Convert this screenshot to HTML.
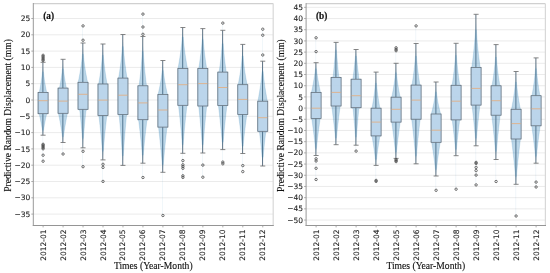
<!DOCTYPE html>
<html><head><meta charset="utf-8"><style>
html,body{margin:0;padding:0;background:#fff;overflow:hidden;}
svg{display:block;}
.tk{font-family:"DejaVu Sans",sans-serif;font-size:7.5px;fill:#222;stroke:#222;stroke-width:0.1px;}
.lab{font-family:"Liberation Serif",serif;font-size:9.6px;fill:#111;stroke:#111;stroke-width:0.12px;}
.pl{font-family:"Liberation Serif",serif;font-size:9.3px;font-weight:bold;fill:#111;stroke:#111;stroke-width:0.2px;}
</style></head><body>
<svg width="550" height="273" viewBox="0 0 550 273">
<rect width="550" height="273" fill="#fff"/>
<line x1="33.3" x2="273.2" y1="18.50" y2="18.50" stroke="#e6e6e6" stroke-width="0.8"/>
<line x1="33.3" x2="273.2" y1="34.80" y2="34.80" stroke="#e6e6e6" stroke-width="0.8"/>
<line x1="33.3" x2="273.2" y1="51.10" y2="51.10" stroke="#e6e6e6" stroke-width="0.8"/>
<line x1="33.3" x2="273.2" y1="67.40" y2="67.40" stroke="#e6e6e6" stroke-width="0.8"/>
<line x1="33.3" x2="273.2" y1="83.70" y2="83.70" stroke="#e6e6e6" stroke-width="0.8"/>
<line x1="33.3" x2="273.2" y1="100.00" y2="100.00" stroke="#e6e6e6" stroke-width="0.8"/>
<line x1="33.3" x2="273.2" y1="116.30" y2="116.30" stroke="#e6e6e6" stroke-width="0.8"/>
<line x1="33.3" x2="273.2" y1="132.60" y2="132.60" stroke="#e6e6e6" stroke-width="0.8"/>
<line x1="33.3" x2="273.2" y1="148.90" y2="148.90" stroke="#e6e6e6" stroke-width="0.8"/>
<line x1="33.3" x2="273.2" y1="165.20" y2="165.20" stroke="#e6e6e6" stroke-width="0.8"/>
<line x1="33.3" x2="273.2" y1="181.50" y2="181.50" stroke="#e6e6e6" stroke-width="0.8"/>
<line x1="33.3" x2="273.2" y1="197.80" y2="197.80" stroke="#e6e6e6" stroke-width="0.8"/>
<line x1="33.3" x2="273.2" y1="214.10" y2="214.10" stroke="#e6e6e6" stroke-width="0.8"/>
<line x1="42.90" x2="42.90" y1="62.3" y2="92.5" stroke="#66737f" stroke-width="1.0"/>
<line x1="42.90" x2="42.90" y1="113.7" y2="135.2" stroke="#66737f" stroke-width="1.0"/>
<line x1="62.87" x2="62.87" y1="59.3" y2="88.1" stroke="#66737f" stroke-width="1.0"/>
<line x1="62.87" x2="62.87" y1="113.3" y2="142.5" stroke="#66737f" stroke-width="1.0"/>
<line x1="82.84" x2="82.84" y1="43.0" y2="82.3" stroke="#66737f" stroke-width="1.0"/>
<line x1="82.84" x2="82.84" y1="109.3" y2="147.8" stroke="#66737f" stroke-width="1.0"/>
<line x1="102.81" x2="102.81" y1="44.0" y2="84.0" stroke="#66737f" stroke-width="1.0"/>
<line x1="102.81" x2="102.81" y1="115.5" y2="159.9" stroke="#66737f" stroke-width="1.0"/>
<line x1="122.78" x2="122.78" y1="34.5" y2="78.1" stroke="#66737f" stroke-width="1.0"/>
<line x1="122.78" x2="122.78" y1="114.5" y2="165.4" stroke="#66737f" stroke-width="1.0"/>
<line x1="142.75" x2="142.75" y1="36.5" y2="85.8" stroke="#66737f" stroke-width="1.0"/>
<line x1="142.75" x2="142.75" y1="119.7" y2="163.2" stroke="#66737f" stroke-width="1.0"/>
<line x1="162.72" x2="162.72" y1="60.5" y2="94.6" stroke="#66737f" stroke-width="1.0"/>
<line x1="162.72" x2="162.72" y1="127.1" y2="172.3" stroke="#66737f" stroke-width="1.0"/>
<line x1="182.69" x2="182.69" y1="27.5" y2="68.5" stroke="#66737f" stroke-width="1.0"/>
<line x1="182.69" x2="182.69" y1="105.3" y2="153.3" stroke="#66737f" stroke-width="1.0"/>
<line x1="202.66" x2="202.66" y1="28.6" y2="68.6" stroke="#66737f" stroke-width="1.0"/>
<line x1="202.66" x2="202.66" y1="106.0" y2="153.0" stroke="#66737f" stroke-width="1.0"/>
<line x1="222.63" x2="222.63" y1="30.3" y2="72.1" stroke="#66737f" stroke-width="1.0"/>
<line x1="222.63" x2="222.63" y1="105.5" y2="149.6" stroke="#66737f" stroke-width="1.0"/>
<line x1="242.60" x2="242.60" y1="44.4" y2="84.7" stroke="#66737f" stroke-width="1.0"/>
<line x1="242.60" x2="242.60" y1="114.4" y2="153.5" stroke="#66737f" stroke-width="1.0"/>
<line x1="262.57" x2="262.57" y1="61.2" y2="101.2" stroke="#66737f" stroke-width="1.0"/>
<line x1="262.57" x2="262.57" y1="131.3" y2="166.0" stroke="#66737f" stroke-width="1.0"/>
<path d="M43.05,55.3 43.05,56.3 43.05,57.2 43.05,58.2 43.05,59.2 43.05,60.1 43.05,61.1 43.05,62.0 43.05,63.0 43.05,64.0 43.05,64.9 43.05,65.9 43.10,66.9 43.16,67.8 43.22,68.8 43.30,69.7 43.38,70.7 43.46,71.7 43.56,72.6 43.65,73.6 43.76,74.6 43.87,75.5 43.99,76.5 44.11,77.4 44.24,78.4 44.37,79.4 44.51,80.3 44.65,81.3 44.80,82.3 44.96,83.2 45.12,84.2 45.28,85.1 45.45,86.1 45.63,87.1 45.81,88.0 45.99,89.0 46.18,90.0 46.37,90.9 46.57,91.9 47.95,92.5 47.95,92.8 47.95,93.8 47.95,94.8 47.95,95.7 47.95,96.7 47.95,97.7 47.95,98.6 47.95,99.6 47.95,100.5 47.95,100.7 47.95,101.5 47.95,102.5 47.95,103.4 47.95,104.4 47.95,105.4 47.95,106.3 47.95,107.3 47.95,108.2 47.95,109.2 47.95,110.2 47.95,111.1 47.95,112.1 47.95,113.1 47.95,113.7 46.63,114.0 46.42,115.0 46.22,116.0 46.01,116.9 45.81,117.9 45.62,118.8 45.42,119.8 45.23,120.8 45.04,121.7 44.86,122.7 44.67,123.7 44.50,124.6 44.32,125.6 44.15,126.5 43.99,127.5 43.83,128.5 43.67,129.4 43.53,130.4 43.39,131.4 43.25,132.3 43.13,133.3 43.05,134.2 43.05,135.2 43.05,136.2 43.05,137.1 43.05,138.1 43.05,139.1 43.05,140.0 43.05,141.0 43.05,141.9 43.05,142.9 43.05,143.9 43.05,144.8 43.05,145.8 43.05,146.8 43.05,147.7 43.05,148.7 43.05,149.6 43.05,150.6 43.05,151.6 43.05,152.5 43.05,153.5 43.05,154.5 43.05,155.4 43.05,156.4 43.05,157.3 43.05,158.3 43.05,159.3 43.05,160.2 43.05,161.2 L42.85,161.2 42.85,160.2 42.85,159.3 42.85,158.3 42.85,157.3 42.85,156.4 42.85,155.4 42.85,154.5 42.85,153.5 42.85,152.5 42.85,151.6 42.85,150.6 42.85,149.6 42.85,148.7 42.85,147.7 42.85,146.8 42.85,145.8 42.85,144.8 42.85,143.9 42.85,142.9 42.85,141.9 42.85,141.0 42.85,140.0 42.85,139.1 42.85,138.1 42.85,137.1 42.85,136.2 42.85,135.2 42.85,134.2 42.77,133.3 42.65,132.3 42.51,131.4 42.37,130.4 42.23,129.4 42.07,128.5 41.91,127.5 41.75,126.5 41.58,125.6 41.40,124.6 41.23,123.7 41.04,122.7 40.86,121.7 40.67,120.8 40.48,119.8 40.28,118.8 40.09,117.9 39.89,116.9 39.68,116.0 39.48,115.0 39.27,114.0 37.95,113.7 37.95,113.1 37.95,112.1 37.95,111.1 37.95,110.2 37.95,109.2 37.95,108.2 37.95,107.3 37.95,106.3 37.95,105.4 37.95,104.4 37.95,103.4 37.95,102.5 37.95,101.5 37.95,100.7 37.95,100.5 37.95,99.6 37.95,98.6 37.95,97.7 37.95,96.7 37.95,95.7 37.95,94.8 37.95,93.8 37.95,92.8 37.95,92.5 39.33,91.9 39.53,90.9 39.72,90.0 39.91,89.0 40.09,88.0 40.27,87.1 40.45,86.1 40.62,85.1 40.78,84.2 40.94,83.2 41.10,82.3 41.25,81.3 41.39,80.3 41.53,79.4 41.66,78.4 41.79,77.4 41.91,76.5 42.03,75.5 42.14,74.6 42.25,73.6 42.34,72.6 42.44,71.7 42.52,70.7 42.60,69.7 42.68,68.8 42.74,67.8 42.80,66.9 42.85,65.9 42.85,64.9 42.85,64.0 42.85,63.0 42.85,62.0 42.85,61.1 42.85,60.1 42.85,59.2 42.85,58.2 42.85,57.2 42.85,56.3 42.85,55.3 Z" fill="#1f77b4" fill-opacity="0.3"/>
<path d="M43.46,71.7 43.56,72.6 43.65,73.6 43.76,74.6 43.87,75.5 43.99,76.5 44.11,77.4 44.24,78.4 44.37,79.4 44.51,80.3 44.65,81.3 44.80,82.3 44.96,83.2 45.12,84.2 45.28,85.1 45.45,86.1 45.63,87.1 45.81,88.0 45.99,89.0 46.18,90.0 46.37,90.9 46.57,91.9 47.95,92.5 47.95,92.8 47.95,93.8 47.95,94.8 47.95,95.7 47.95,96.7 47.95,97.7 47.95,98.6 47.95,99.6 47.95,100.5 47.95,100.7 47.95,101.5 47.95,102.5 47.95,103.4 47.95,104.4 47.95,105.4 47.95,106.3 47.95,107.3 47.95,108.2 47.95,109.2 47.95,110.2 47.95,111.1 47.95,112.1 47.95,113.1 47.95,113.7 46.63,114.0 46.42,115.0 46.22,116.0 46.01,116.9 45.81,117.9 45.62,118.8 45.42,119.8 45.23,120.8 45.04,121.7 44.86,122.7 44.67,123.7 44.50,124.6 44.32,125.6 44.15,126.5 43.99,127.5 43.83,128.5 43.67,129.4 43.53,130.4 M42.44,71.7 42.34,72.6 42.25,73.6 42.14,74.6 42.03,75.5 41.91,76.5 41.79,77.4 41.66,78.4 41.53,79.4 41.39,80.3 41.25,81.3 41.10,82.3 40.94,83.2 40.78,84.2 40.62,85.1 40.45,86.1 40.27,87.1 40.09,88.0 39.91,89.0 39.72,90.0 39.53,90.9 39.33,91.9 37.95,92.5 37.95,92.8 37.95,93.8 37.95,94.8 37.95,95.7 37.95,96.7 37.95,97.7 37.95,98.6 37.95,99.6 37.95,100.5 37.95,100.7 37.95,101.5 37.95,102.5 37.95,103.4 37.95,104.4 37.95,105.4 37.95,106.3 37.95,107.3 37.95,108.2 37.95,109.2 37.95,110.2 37.95,111.1 37.95,112.1 37.95,113.1 37.95,113.7 39.27,114.0 39.48,115.0 39.68,116.0 39.89,116.9 40.09,117.9 40.28,118.8 40.48,119.8 40.67,120.8 40.86,121.7 41.04,122.7 41.23,123.7 41.40,124.6 41.58,125.6 41.75,126.5 41.91,127.5 42.07,128.5 42.23,129.4 42.37,130.4" fill="none" stroke="#1f77b4" stroke-opacity="0.4" stroke-width="0.4"/>
<path d="M63.02,59.3 63.02,60.2 63.02,61.0 63.02,61.9 63.02,62.7 63.06,63.6 63.11,64.5 63.17,65.3 63.23,66.2 63.30,67.0 63.37,67.9 63.45,68.8 63.53,69.6 63.62,70.5 63.72,71.4 63.82,72.2 63.92,73.1 64.03,73.9 64.14,74.8 64.26,75.7 64.38,76.5 64.51,77.4 64.64,78.2 64.77,79.1 64.91,80.0 65.05,80.8 65.20,81.7 65.35,82.5 65.51,83.4 65.67,84.3 65.83,85.1 65.99,86.0 66.17,86.8 66.34,87.7 67.92,88.1 67.92,88.6 67.92,89.4 67.92,90.3 67.92,91.2 67.92,92.0 67.92,92.9 67.92,93.7 67.92,94.6 67.92,95.5 67.92,96.3 67.92,97.2 67.92,98.0 67.92,98.9 67.92,99.8 67.92,100.6 67.92,101.1 67.92,101.5 67.92,102.3 67.92,103.2 67.92,104.1 67.92,104.9 67.92,105.8 67.92,106.7 67.92,107.5 67.92,108.4 67.92,109.2 67.92,110.1 67.92,111.0 67.92,111.8 67.92,112.7 67.92,113.3 67.37,113.5 67.20,114.4 67.03,115.3 66.86,116.1 66.70,117.0 66.53,117.8 66.37,118.7 66.21,119.6 66.05,120.4 65.89,121.3 65.73,122.1 65.58,123.0 65.43,123.9 65.28,124.7 65.13,125.6 64.99,126.5 64.84,127.3 64.70,128.2 64.57,129.0 64.43,129.9 64.30,130.8 64.17,131.6 64.04,132.5 63.92,133.3 63.80,134.2 63.68,135.1 63.57,135.9 63.46,136.8 63.36,137.6 63.26,138.5 63.17,139.4 63.08,140.2 63.02,141.1 63.02,141.9 63.02,142.8 63.02,143.7 63.02,144.5 63.02,145.4 63.02,146.3 63.02,147.1 63.02,148.0 63.02,148.8 63.02,149.7 63.02,150.6 63.02,151.4 63.02,152.3 63.02,153.1 63.02,154.0 L62.82,154.0 62.82,153.1 62.82,152.3 62.82,151.4 62.82,150.6 62.82,149.7 62.82,148.8 62.82,148.0 62.82,147.1 62.82,146.3 62.82,145.4 62.82,144.5 62.82,143.7 62.82,142.8 62.82,141.9 62.82,141.1 62.76,140.2 62.67,139.4 62.58,138.5 62.48,137.6 62.38,136.8 62.27,135.9 62.16,135.1 62.04,134.2 61.92,133.3 61.80,132.5 61.67,131.6 61.54,130.8 61.41,129.9 61.27,129.0 61.14,128.2 61.00,127.3 60.85,126.5 60.71,125.6 60.56,124.7 60.41,123.9 60.26,123.0 60.11,122.1 59.95,121.3 59.79,120.4 59.63,119.6 59.47,118.7 59.31,117.8 59.14,117.0 58.98,116.1 58.81,115.3 58.64,114.4 58.47,113.5 57.92,113.3 57.92,112.7 57.92,111.8 57.92,111.0 57.92,110.1 57.92,109.2 57.92,108.4 57.92,107.5 57.92,106.7 57.92,105.8 57.92,104.9 57.92,104.1 57.92,103.2 57.92,102.3 57.92,101.5 57.92,101.1 57.92,100.6 57.92,99.8 57.92,98.9 57.92,98.0 57.92,97.2 57.92,96.3 57.92,95.5 57.92,94.6 57.92,93.7 57.92,92.9 57.92,92.0 57.92,91.2 57.92,90.3 57.92,89.4 57.92,88.6 57.92,88.1 59.50,87.7 59.67,86.8 59.85,86.0 60.01,85.1 60.17,84.3 60.33,83.4 60.49,82.5 60.64,81.7 60.79,80.8 60.93,80.0 61.07,79.1 61.20,78.2 61.33,77.4 61.46,76.5 61.58,75.7 61.70,74.8 61.81,73.9 61.92,73.1 62.02,72.2 62.12,71.4 62.22,70.5 62.31,69.6 62.39,68.8 62.47,67.9 62.54,67.0 62.61,66.2 62.67,65.3 62.73,64.5 62.78,63.6 62.82,62.7 62.82,61.9 62.82,61.0 62.82,60.2 62.82,59.3 Z" fill="#1f77b4" fill-opacity="0.3"/>
<path d="M63.45,68.8 63.53,69.6 63.62,70.5 63.72,71.4 63.82,72.2 63.92,73.1 64.03,73.9 64.14,74.8 64.26,75.7 64.38,76.5 64.51,77.4 64.64,78.2 64.77,79.1 64.91,80.0 65.05,80.8 65.20,81.7 65.35,82.5 65.51,83.4 65.67,84.3 65.83,85.1 65.99,86.0 66.17,86.8 66.34,87.7 67.92,88.1 67.92,88.6 67.92,89.4 67.92,90.3 67.92,91.2 67.92,92.0 67.92,92.9 67.92,93.7 67.92,94.6 67.92,95.5 67.92,96.3 67.92,97.2 67.92,98.0 67.92,98.9 67.92,99.8 67.92,100.6 67.92,101.1 67.92,101.5 67.92,102.3 67.92,103.2 67.92,104.1 67.92,104.9 67.92,105.8 67.92,106.7 67.92,107.5 67.92,108.4 67.92,109.2 67.92,110.1 67.92,111.0 67.92,111.8 67.92,112.7 67.92,113.3 67.37,113.5 67.20,114.4 67.03,115.3 66.86,116.1 66.70,117.0 66.53,117.8 66.37,118.7 66.21,119.6 66.05,120.4 65.89,121.3 65.73,122.1 65.58,123.0 65.43,123.9 65.28,124.7 65.13,125.6 64.99,126.5 64.84,127.3 64.70,128.2 64.57,129.0 64.43,129.9 64.30,130.8 64.17,131.6 64.04,132.5 63.92,133.3 63.80,134.2 63.68,135.1 63.57,135.9 63.46,136.8 M62.39,68.8 62.31,69.6 62.22,70.5 62.12,71.4 62.02,72.2 61.92,73.1 61.81,73.9 61.70,74.8 61.58,75.7 61.46,76.5 61.33,77.4 61.20,78.2 61.07,79.1 60.93,80.0 60.79,80.8 60.64,81.7 60.49,82.5 60.33,83.4 60.17,84.3 60.01,85.1 59.85,86.0 59.67,86.8 59.50,87.7 57.92,88.1 57.92,88.6 57.92,89.4 57.92,90.3 57.92,91.2 57.92,92.0 57.92,92.9 57.92,93.7 57.92,94.6 57.92,95.5 57.92,96.3 57.92,97.2 57.92,98.0 57.92,98.9 57.92,99.8 57.92,100.6 57.92,101.1 57.92,101.5 57.92,102.3 57.92,103.2 57.92,104.1 57.92,104.9 57.92,105.8 57.92,106.7 57.92,107.5 57.92,108.4 57.92,109.2 57.92,110.1 57.92,111.0 57.92,111.8 57.92,112.7 57.92,113.3 58.47,113.5 58.64,114.4 58.81,115.3 58.98,116.1 59.14,117.0 59.31,117.8 59.47,118.7 59.63,119.6 59.79,120.4 59.95,121.3 60.11,122.1 60.26,123.0 60.41,123.9 60.56,124.7 60.71,125.6 60.85,126.5 61.00,127.3 61.14,128.2 61.27,129.0 61.41,129.9 61.54,130.8 61.67,131.6 61.80,132.5 61.92,133.3 62.04,134.2 62.16,135.1 62.27,135.9 62.38,136.8" fill="none" stroke="#1f77b4" stroke-opacity="0.4" stroke-width="0.4"/>
<path d="M82.99,25.9 82.99,27.2 82.99,28.5 82.99,29.7 82.99,31.0 82.99,32.3 82.99,33.6 82.99,34.9 82.99,36.1 82.99,37.4 82.99,38.7 82.99,40.0 82.99,41.3 82.99,42.5 82.99,43.8 82.99,45.1 82.99,46.4 82.99,47.7 83.05,48.9 83.11,50.2 83.19,51.5 83.28,52.8 83.37,54.1 83.48,55.3 83.60,56.6 83.72,57.9 83.85,59.2 83.99,60.5 84.14,61.7 84.30,63.0 84.47,64.3 84.64,65.6 84.82,66.9 85.02,68.1 85.21,69.4 85.42,70.7 85.64,72.0 85.86,73.3 86.09,74.5 86.32,75.8 86.57,77.1 86.82,78.4 87.08,79.7 87.35,80.9 87.62,82.2 87.89,82.3 87.89,83.5 87.89,84.8 87.89,86.1 87.89,87.3 87.89,88.6 87.89,89.9 87.89,91.2 87.89,92.5 87.89,93.7 87.89,94.3 87.89,95.0 87.89,96.3 87.89,97.6 87.89,98.9 87.89,100.1 87.89,101.4 87.89,102.7 87.89,104.0 87.89,105.3 87.89,106.5 87.89,107.8 87.89,109.1 87.89,109.3 86.02,110.4 85.88,111.7 85.75,112.9 85.61,114.2 85.48,115.5 85.34,116.8 85.21,118.1 85.08,119.3 84.96,120.6 84.83,121.9 84.71,123.2 84.59,124.5 84.47,125.7 84.35,127.0 84.23,128.3 84.12,129.6 84.01,130.9 83.90,132.1 83.79,133.4 83.69,134.7 83.59,136.0 83.49,137.3 83.40,138.5 83.31,139.8 83.22,141.1 83.14,142.4 83.07,143.7 83.00,144.9 82.99,146.2 82.99,147.5 82.99,148.8 82.99,150.1 82.99,151.3 82.99,152.6 82.99,153.9 82.99,155.2 82.99,156.5 82.99,157.7 82.99,159.0 82.99,160.3 82.99,161.6 82.99,162.9 82.99,164.1 82.99,165.4 82.99,166.7 L82.79,166.7 82.79,165.4 82.79,164.1 82.79,162.9 82.79,161.6 82.79,160.3 82.79,159.0 82.79,157.7 82.79,156.5 82.79,155.2 82.79,153.9 82.79,152.6 82.79,151.3 82.79,150.1 82.79,148.8 82.79,147.5 82.79,146.2 82.78,144.9 82.71,143.7 82.64,142.4 82.56,141.1 82.47,139.8 82.38,138.5 82.29,137.3 82.19,136.0 82.09,134.7 81.99,133.4 81.88,132.1 81.77,130.9 81.66,129.6 81.55,128.3 81.43,127.0 81.31,125.7 81.19,124.5 81.07,123.2 80.95,121.9 80.82,120.6 80.70,119.3 80.57,118.1 80.44,116.8 80.30,115.5 80.17,114.2 80.03,112.9 79.90,111.7 79.76,110.4 77.89,109.3 77.89,109.1 77.89,107.8 77.89,106.5 77.89,105.3 77.89,104.0 77.89,102.7 77.89,101.4 77.89,100.1 77.89,98.9 77.89,97.6 77.89,96.3 77.89,95.0 77.89,94.3 77.89,93.7 77.89,92.5 77.89,91.2 77.89,89.9 77.89,88.6 77.89,87.3 77.89,86.1 77.89,84.8 77.89,83.5 77.89,82.3 78.16,82.2 78.43,80.9 78.70,79.7 78.96,78.4 79.21,77.1 79.46,75.8 79.69,74.5 79.92,73.3 80.14,72.0 80.36,70.7 80.57,69.4 80.76,68.1 80.96,66.9 81.14,65.6 81.31,64.3 81.48,63.0 81.64,61.7 81.79,60.5 81.93,59.2 82.06,57.9 82.18,56.6 82.30,55.3 82.41,54.1 82.50,52.8 82.59,51.5 82.67,50.2 82.73,48.9 82.79,47.7 82.79,46.4 82.79,45.1 82.79,43.8 82.79,42.5 82.79,41.3 82.79,40.0 82.79,38.7 82.79,37.4 82.79,36.1 82.79,34.9 82.79,33.6 82.79,32.3 82.79,31.0 82.79,29.7 82.79,28.5 82.79,27.2 82.79,25.9 Z" fill="#1f77b4" fill-opacity="0.3"/>
<path d="M83.37,54.1 83.48,55.3 83.60,56.6 83.72,57.9 83.85,59.2 83.99,60.5 84.14,61.7 84.30,63.0 84.47,64.3 84.64,65.6 84.82,66.9 85.02,68.1 85.21,69.4 85.42,70.7 85.64,72.0 85.86,73.3 86.09,74.5 86.32,75.8 86.57,77.1 86.82,78.4 87.08,79.7 87.35,80.9 87.62,82.2 87.89,82.3 87.89,83.5 87.89,84.8 87.89,86.1 87.89,87.3 87.89,88.6 87.89,89.9 87.89,91.2 87.89,92.5 87.89,93.7 87.89,94.3 87.89,95.0 87.89,96.3 87.89,97.6 87.89,98.9 87.89,100.1 87.89,101.4 87.89,102.7 87.89,104.0 87.89,105.3 87.89,106.5 87.89,107.8 87.89,109.1 87.89,109.3 86.02,110.4 85.88,111.7 85.75,112.9 85.61,114.2 85.48,115.5 85.34,116.8 85.21,118.1 85.08,119.3 84.96,120.6 84.83,121.9 84.71,123.2 84.59,124.5 84.47,125.7 84.35,127.0 84.23,128.3 84.12,129.6 84.01,130.9 83.90,132.1 83.79,133.4 83.69,134.7 83.59,136.0 83.49,137.3 83.40,138.5 M82.41,54.1 82.30,55.3 82.18,56.6 82.06,57.9 81.93,59.2 81.79,60.5 81.64,61.7 81.48,63.0 81.31,64.3 81.14,65.6 80.96,66.9 80.76,68.1 80.57,69.4 80.36,70.7 80.14,72.0 79.92,73.3 79.69,74.5 79.46,75.8 79.21,77.1 78.96,78.4 78.70,79.7 78.43,80.9 78.16,82.2 77.89,82.3 77.89,83.5 77.89,84.8 77.89,86.1 77.89,87.3 77.89,88.6 77.89,89.9 77.89,91.2 77.89,92.5 77.89,93.7 77.89,94.3 77.89,95.0 77.89,96.3 77.89,97.6 77.89,98.9 77.89,100.1 77.89,101.4 77.89,102.7 77.89,104.0 77.89,105.3 77.89,106.5 77.89,107.8 77.89,109.1 77.89,109.3 79.76,110.4 79.90,111.7 80.03,112.9 80.17,114.2 80.30,115.5 80.44,116.8 80.57,118.1 80.70,119.3 80.82,120.6 80.95,121.9 81.07,123.2 81.19,124.5 81.31,125.7 81.43,127.0 81.55,128.3 81.66,129.6 81.77,130.9 81.88,132.1 81.99,133.4 82.09,134.7 82.19,136.0 82.29,137.3 82.38,138.5" fill="none" stroke="#1f77b4" stroke-opacity="0.4" stroke-width="0.4"/>
<path d="M102.96,44.0 102.96,45.2 102.96,46.5 102.96,47.7 102.98,49.0 103.04,50.2 103.11,51.5 103.18,52.7 103.26,54.0 103.35,55.2 103.45,56.5 103.55,57.7 103.66,59.0 103.78,60.2 103.90,61.5 104.03,62.7 104.17,64.0 104.31,65.2 104.46,66.5 104.61,67.7 104.77,69.0 104.93,70.2 105.10,71.5 105.28,72.7 105.46,74.0 105.65,75.2 105.84,76.5 106.04,77.7 106.24,79.0 106.45,80.2 106.66,81.5 106.88,82.7 107.10,84.0 107.86,84.0 107.86,85.2 107.86,86.5 107.86,87.7 107.86,89.0 107.86,90.2 107.86,91.5 107.86,92.7 107.86,94.0 107.86,95.2 107.86,96.5 107.86,97.7 107.86,99.0 107.86,100.1 107.86,100.2 107.86,101.5 107.86,102.7 107.86,104.0 107.86,105.2 107.86,106.5 107.86,107.7 107.86,109.0 107.86,110.2 107.86,111.5 107.86,112.7 107.86,113.9 107.86,115.2 107.86,115.5 106.75,116.4 106.60,117.7 106.46,118.9 106.32,120.2 106.18,121.4 106.04,122.7 105.90,123.9 105.76,125.2 105.63,126.4 105.50,127.7 105.36,128.9 105.23,130.2 105.10,131.4 104.98,132.7 104.85,133.9 104.73,135.2 104.61,136.4 104.49,137.7 104.37,138.9 104.25,140.2 104.14,141.4 104.03,142.7 103.92,143.9 103.81,145.2 103.71,146.4 103.61,147.7 103.51,148.9 103.42,150.2 103.32,151.4 103.24,152.7 103.16,153.9 103.08,155.2 103.01,156.4 102.96,157.7 102.96,158.9 102.96,160.2 102.96,161.4 102.96,162.7 102.96,163.9 102.96,165.2 102.96,166.4 102.96,167.7 102.96,168.9 102.96,170.2 102.96,171.4 102.96,172.7 102.96,173.9 102.96,175.2 102.96,176.4 102.96,177.7 102.96,178.9 102.96,180.2 102.96,181.4 L102.76,181.4 102.76,180.2 102.76,178.9 102.76,177.7 102.76,176.4 102.76,175.2 102.76,173.9 102.76,172.7 102.76,171.4 102.76,170.2 102.76,168.9 102.76,167.7 102.76,166.4 102.76,165.2 102.76,163.9 102.76,162.7 102.76,161.4 102.76,160.2 102.76,158.9 102.76,157.7 102.71,156.4 102.64,155.2 102.56,153.9 102.48,152.7 102.40,151.4 102.30,150.2 102.21,148.9 102.11,147.7 102.01,146.4 101.91,145.2 101.80,143.9 101.69,142.7 101.58,141.4 101.47,140.2 101.35,138.9 101.23,137.7 101.11,136.4 100.99,135.2 100.87,133.9 100.74,132.7 100.62,131.4 100.49,130.2 100.36,128.9 100.22,127.7 100.09,126.4 99.96,125.2 99.82,123.9 99.68,122.7 99.54,121.4 99.40,120.2 99.26,118.9 99.12,117.7 98.97,116.4 97.86,115.5 97.86,115.2 97.86,113.9 97.86,112.7 97.86,111.5 97.86,110.2 97.86,109.0 97.86,107.7 97.86,106.5 97.86,105.2 97.86,104.0 97.86,102.7 97.86,101.5 97.86,100.2 97.86,100.1 97.86,99.0 97.86,97.7 97.86,96.5 97.86,95.2 97.86,94.0 97.86,92.7 97.86,91.5 97.86,90.2 97.86,89.0 97.86,87.7 97.86,86.5 97.86,85.2 97.86,84.0 98.62,84.0 98.84,82.7 99.06,81.5 99.27,80.2 99.48,79.0 99.68,77.7 99.88,76.5 100.07,75.2 100.26,74.0 100.44,72.7 100.62,71.5 100.79,70.2 100.95,69.0 101.11,67.7 101.26,66.5 101.41,65.2 101.55,64.0 101.69,62.7 101.82,61.5 101.94,60.2 102.06,59.0 102.17,57.7 102.27,56.5 102.37,55.2 102.46,54.0 102.54,52.7 102.61,51.5 102.68,50.2 102.74,49.0 102.76,47.7 102.76,46.5 102.76,45.2 102.76,44.0 Z" fill="#1f77b4" fill-opacity="0.3"/>
<path d="M103.35,55.2 103.45,56.5 103.55,57.7 103.66,59.0 103.78,60.2 103.90,61.5 104.03,62.7 104.17,64.0 104.31,65.2 104.46,66.5 104.61,67.7 104.77,69.0 104.93,70.2 105.10,71.5 105.28,72.7 105.46,74.0 105.65,75.2 105.84,76.5 106.04,77.7 106.24,79.0 106.45,80.2 106.66,81.5 106.88,82.7 107.10,84.0 107.86,84.0 107.86,85.2 107.86,86.5 107.86,87.7 107.86,89.0 107.86,90.2 107.86,91.5 107.86,92.7 107.86,94.0 107.86,95.2 107.86,96.5 107.86,97.7 107.86,99.0 107.86,100.1 107.86,100.2 107.86,101.5 107.86,102.7 107.86,104.0 107.86,105.2 107.86,106.5 107.86,107.7 107.86,109.0 107.86,110.2 107.86,111.5 107.86,112.7 107.86,113.9 107.86,115.2 107.86,115.5 106.75,116.4 106.60,117.7 106.46,118.9 106.32,120.2 106.18,121.4 106.04,122.7 105.90,123.9 105.76,125.2 105.63,126.4 105.50,127.7 105.36,128.9 105.23,130.2 105.10,131.4 104.98,132.7 104.85,133.9 104.73,135.2 104.61,136.4 104.49,137.7 104.37,138.9 104.25,140.2 104.14,141.4 104.03,142.7 103.92,143.9 103.81,145.2 103.71,146.4 103.61,147.7 103.51,148.9 103.42,150.2 103.32,151.4 M102.37,55.2 102.27,56.5 102.17,57.7 102.06,59.0 101.94,60.2 101.82,61.5 101.69,62.7 101.55,64.0 101.41,65.2 101.26,66.5 101.11,67.7 100.95,69.0 100.79,70.2 100.62,71.5 100.44,72.7 100.26,74.0 100.07,75.2 99.88,76.5 99.68,77.7 99.48,79.0 99.27,80.2 99.06,81.5 98.84,82.7 98.62,84.0 97.86,84.0 97.86,85.2 97.86,86.5 97.86,87.7 97.86,89.0 97.86,90.2 97.86,91.5 97.86,92.7 97.86,94.0 97.86,95.2 97.86,96.5 97.86,97.7 97.86,99.0 97.86,100.1 97.86,100.2 97.86,101.5 97.86,102.7 97.86,104.0 97.86,105.2 97.86,106.5 97.86,107.7 97.86,109.0 97.86,110.2 97.86,111.5 97.86,112.7 97.86,113.9 97.86,115.2 97.86,115.5 98.97,116.4 99.12,117.7 99.26,118.9 99.40,120.2 99.54,121.4 99.68,122.7 99.82,123.9 99.96,125.2 100.09,126.4 100.22,127.7 100.36,128.9 100.49,130.2 100.62,131.4 100.74,132.7 100.87,133.9 100.99,135.2 101.11,136.4 101.23,137.7 101.35,138.9 101.47,140.2 101.58,141.4 101.69,142.7 101.80,143.9 101.91,145.2 102.01,146.4 102.11,147.7 102.21,148.9 102.30,150.2 102.40,151.4" fill="none" stroke="#1f77b4" stroke-opacity="0.4" stroke-width="0.4"/>
<path d="M122.93,34.5 122.93,35.7 122.93,36.9 122.93,38.1 122.93,39.3 122.97,40.5 123.03,41.6 123.08,42.8 123.15,44.0 123.22,45.2 123.30,46.4 123.38,47.6 123.47,48.8 123.56,50.0 123.66,51.2 123.76,52.4 123.87,53.5 123.98,54.7 124.10,55.9 124.22,57.1 124.35,58.3 124.48,59.5 124.62,60.7 124.76,61.9 124.90,63.1 125.05,64.2 125.20,65.4 125.36,66.6 125.52,67.8 125.69,69.0 125.86,70.2 126.03,71.4 126.21,72.6 126.39,73.8 126.57,75.0 126.76,76.2 126.95,77.3 127.83,78.1 127.83,78.5 127.83,79.7 127.83,80.9 127.83,82.1 127.83,83.3 127.83,84.5 127.83,85.7 127.83,86.9 127.83,88.0 127.83,89.2 127.83,90.4 127.83,91.6 127.83,92.8 127.83,94.0 127.83,95.2 127.83,95.2 127.83,96.4 127.83,97.6 127.83,98.8 127.83,100.0 127.83,101.1 127.83,102.3 127.83,103.5 127.83,104.7 127.83,105.9 127.83,107.1 127.83,108.3 127.83,109.5 127.83,110.7 127.83,111.8 127.83,113.0 127.83,114.2 127.83,114.5 126.50,115.4 126.39,116.6 126.28,117.8 126.17,119.0 126.06,120.2 125.96,121.4 125.85,122.6 125.75,123.8 125.64,124.9 125.54,126.1 125.44,127.3 125.34,128.5 125.24,129.7 125.14,130.9 125.04,132.1 124.94,133.3 124.84,134.5 124.75,135.7 124.65,136.8 124.56,138.0 124.46,139.2 124.37,140.4 124.28,141.6 124.19,142.8 124.10,144.0 124.01,145.2 123.93,146.4 123.84,147.6 123.76,148.7 123.68,149.9 123.60,151.1 123.52,152.3 123.44,153.5 123.36,154.7 123.29,155.9 123.22,157.1 123.15,158.3 123.09,159.4 123.02,160.6 122.97,161.8 122.93,163.0 122.93,164.2 122.93,165.4 L122.73,165.4 122.73,164.2 122.73,163.0 122.69,161.8 122.64,160.6 122.57,159.4 122.51,158.3 122.44,157.1 122.37,155.9 122.30,154.7 122.22,153.5 122.14,152.3 122.06,151.1 121.98,149.9 121.90,148.7 121.82,147.6 121.73,146.4 121.65,145.2 121.56,144.0 121.47,142.8 121.38,141.6 121.29,140.4 121.20,139.2 121.10,138.0 121.01,136.8 120.91,135.7 120.82,134.5 120.72,133.3 120.62,132.1 120.52,130.9 120.42,129.7 120.32,128.5 120.22,127.3 120.12,126.1 120.02,124.9 119.91,123.8 119.81,122.6 119.70,121.4 119.60,120.2 119.49,119.0 119.38,117.8 119.27,116.6 119.16,115.4 117.83,114.5 117.83,114.2 117.83,113.0 117.83,111.8 117.83,110.7 117.83,109.5 117.83,108.3 117.83,107.1 117.83,105.9 117.83,104.7 117.83,103.5 117.83,102.3 117.83,101.1 117.83,100.0 117.83,98.8 117.83,97.6 117.83,96.4 117.83,95.2 117.83,95.2 117.83,94.0 117.83,92.8 117.83,91.6 117.83,90.4 117.83,89.2 117.83,88.0 117.83,86.9 117.83,85.7 117.83,84.5 117.83,83.3 117.83,82.1 117.83,80.9 117.83,79.7 117.83,78.5 117.83,78.1 118.71,77.3 118.90,76.2 119.09,75.0 119.27,73.8 119.45,72.6 119.63,71.4 119.80,70.2 119.97,69.0 120.14,67.8 120.30,66.6 120.46,65.4 120.61,64.2 120.76,63.1 120.90,61.9 121.04,60.7 121.18,59.5 121.31,58.3 121.44,57.1 121.56,55.9 121.68,54.7 121.79,53.5 121.90,52.4 122.00,51.2 122.10,50.0 122.19,48.8 122.28,47.6 122.36,46.4 122.44,45.2 122.51,44.0 122.58,42.8 122.63,41.6 122.69,40.5 122.73,39.3 122.73,38.1 122.73,36.9 122.73,35.7 122.73,34.5 Z" fill="#1f77b4" fill-opacity="0.3"/>
<path d="M123.30,46.4 123.38,47.6 123.47,48.8 123.56,50.0 123.66,51.2 123.76,52.4 123.87,53.5 123.98,54.7 124.10,55.9 124.22,57.1 124.35,58.3 124.48,59.5 124.62,60.7 124.76,61.9 124.90,63.1 125.05,64.2 125.20,65.4 125.36,66.6 125.52,67.8 125.69,69.0 125.86,70.2 126.03,71.4 126.21,72.6 126.39,73.8 126.57,75.0 126.76,76.2 126.95,77.3 127.83,78.1 127.83,78.5 127.83,79.7 127.83,80.9 127.83,82.1 127.83,83.3 127.83,84.5 127.83,85.7 127.83,86.9 127.83,88.0 127.83,89.2 127.83,90.4 127.83,91.6 127.83,92.8 127.83,94.0 127.83,95.2 127.83,95.2 127.83,96.4 127.83,97.6 127.83,98.8 127.83,100.0 127.83,101.1 127.83,102.3 127.83,103.5 127.83,104.7 127.83,105.9 127.83,107.1 127.83,108.3 127.83,109.5 127.83,110.7 127.83,111.8 127.83,113.0 127.83,114.2 127.83,114.5 126.50,115.4 126.39,116.6 126.28,117.8 126.17,119.0 126.06,120.2 125.96,121.4 125.85,122.6 125.75,123.8 125.64,124.9 125.54,126.1 125.44,127.3 125.34,128.5 125.24,129.7 125.14,130.9 125.04,132.1 124.94,133.3 124.84,134.5 124.75,135.7 124.65,136.8 124.56,138.0 124.46,139.2 124.37,140.4 124.28,141.6 124.19,142.8 124.10,144.0 124.01,145.2 123.93,146.4 123.84,147.6 123.76,148.7 123.68,149.9 123.60,151.1 123.52,152.3 123.44,153.5 123.36,154.7 123.29,155.9 M122.36,46.4 122.28,47.6 122.19,48.8 122.10,50.0 122.00,51.2 121.90,52.4 121.79,53.5 121.68,54.7 121.56,55.9 121.44,57.1 121.31,58.3 121.18,59.5 121.04,60.7 120.90,61.9 120.76,63.1 120.61,64.2 120.46,65.4 120.30,66.6 120.14,67.8 119.97,69.0 119.80,70.2 119.63,71.4 119.45,72.6 119.27,73.8 119.09,75.0 118.90,76.2 118.71,77.3 117.83,78.1 117.83,78.5 117.83,79.7 117.83,80.9 117.83,82.1 117.83,83.3 117.83,84.5 117.83,85.7 117.83,86.9 117.83,88.0 117.83,89.2 117.83,90.4 117.83,91.6 117.83,92.8 117.83,94.0 117.83,95.2 117.83,95.2 117.83,96.4 117.83,97.6 117.83,98.8 117.83,100.0 117.83,101.1 117.83,102.3 117.83,103.5 117.83,104.7 117.83,105.9 117.83,107.1 117.83,108.3 117.83,109.5 117.83,110.7 117.83,111.8 117.83,113.0 117.83,114.2 117.83,114.5 119.16,115.4 119.27,116.6 119.38,117.8 119.49,119.0 119.60,120.2 119.70,121.4 119.81,122.6 119.91,123.8 120.02,124.9 120.12,126.1 120.22,127.3 120.32,128.5 120.42,129.7 120.52,130.9 120.62,132.1 120.72,133.3 120.82,134.5 120.91,135.7 121.01,136.8 121.10,138.0 121.20,139.2 121.29,140.4 121.38,141.6 121.47,142.8 121.56,144.0 121.65,145.2 121.73,146.4 121.82,147.6 121.90,148.7 121.98,149.9 122.06,151.1 122.14,152.3 122.22,153.5 122.30,154.7 122.37,155.9" fill="none" stroke="#1f77b4" stroke-opacity="0.4" stroke-width="0.4"/>
<path d="M142.90,14.1 142.90,15.6 142.90,17.1 142.90,18.6 142.90,20.0 142.90,21.5 142.90,23.0 142.90,24.5 142.90,26.0 142.90,27.5 142.90,29.0 142.90,30.4 142.90,31.9 142.90,33.4 142.90,34.9 142.90,36.4 142.90,37.9 142.90,39.4 142.90,40.8 142.90,42.3 142.95,43.8 143.00,45.3 143.06,46.8 143.13,48.3 143.20,49.8 143.28,51.2 143.37,52.7 143.46,54.2 143.55,55.7 143.66,57.2 143.76,58.7 143.88,60.1 143.99,61.6 144.12,63.1 144.24,64.6 144.37,66.1 144.51,67.6 144.65,69.1 144.80,70.5 144.95,72.0 145.10,73.5 145.26,75.0 145.43,76.5 145.60,78.0 145.77,79.5 145.94,80.9 146.12,82.4 146.31,83.9 146.50,85.4 147.80,85.8 147.80,86.9 147.80,88.4 147.80,89.9 147.80,91.3 147.80,92.8 147.80,94.3 147.80,95.8 147.80,97.3 147.80,98.8 147.80,100.3 147.80,101.7 147.80,102.9 147.80,103.2 147.80,104.7 147.80,106.2 147.80,107.7 147.80,109.2 147.80,110.7 147.80,112.1 147.80,113.6 147.80,115.1 147.80,116.6 147.80,118.1 147.80,119.6 147.80,119.7 146.88,121.1 146.69,122.5 146.51,124.0 146.33,125.5 146.15,127.0 145.97,128.5 145.80,130.0 145.62,131.5 145.45,132.9 145.28,134.4 145.12,135.9 144.96,137.4 144.80,138.9 144.64,140.4 144.48,141.8 144.33,143.3 144.19,144.8 144.04,146.3 143.90,147.8 143.77,149.3 143.63,150.8 143.51,152.2 143.39,153.7 143.27,155.2 143.16,156.7 143.06,158.2 142.96,159.7 142.90,161.2 142.90,162.6 142.90,164.1 142.90,165.6 142.90,167.1 142.90,168.6 142.90,170.1 142.90,171.6 142.90,173.0 142.90,174.5 142.90,176.0 142.90,177.5 L142.70,177.5 142.70,176.0 142.70,174.5 142.70,173.0 142.70,171.6 142.70,170.1 142.70,168.6 142.70,167.1 142.70,165.6 142.70,164.1 142.70,162.6 142.70,161.2 142.64,159.7 142.54,158.2 142.44,156.7 142.33,155.2 142.21,153.7 142.09,152.2 141.97,150.8 141.83,149.3 141.70,147.8 141.56,146.3 141.41,144.8 141.27,143.3 141.12,141.8 140.96,140.4 140.80,138.9 140.64,137.4 140.48,135.9 140.32,134.4 140.15,132.9 139.98,131.5 139.80,130.0 139.63,128.5 139.45,127.0 139.27,125.5 139.09,124.0 138.91,122.5 138.72,121.1 137.80,119.7 137.80,119.6 137.80,118.1 137.80,116.6 137.80,115.1 137.80,113.6 137.80,112.1 137.80,110.7 137.80,109.2 137.80,107.7 137.80,106.2 137.80,104.7 137.80,103.2 137.80,102.9 137.80,101.7 137.80,100.3 137.80,98.8 137.80,97.3 137.80,95.8 137.80,94.3 137.80,92.8 137.80,91.3 137.80,89.9 137.80,88.4 137.80,86.9 137.80,85.8 139.10,85.4 139.29,83.9 139.48,82.4 139.66,80.9 139.83,79.5 140.00,78.0 140.17,76.5 140.34,75.0 140.50,73.5 140.65,72.0 140.80,70.5 140.95,69.1 141.09,67.6 141.23,66.1 141.36,64.6 141.48,63.1 141.61,61.6 141.72,60.1 141.84,58.7 141.94,57.2 142.05,55.7 142.14,54.2 142.23,52.7 142.32,51.2 142.40,49.8 142.47,48.3 142.54,46.8 142.60,45.3 142.65,43.8 142.70,42.3 142.70,40.8 142.70,39.4 142.70,37.9 142.70,36.4 142.70,34.9 142.70,33.4 142.70,31.9 142.70,30.4 142.70,29.0 142.70,27.5 142.70,26.0 142.70,24.5 142.70,23.0 142.70,21.5 142.70,20.0 142.70,18.6 142.70,17.1 142.70,15.6 142.70,14.1 Z" fill="#1f77b4" fill-opacity="0.3"/>
<path d="M143.28,51.2 143.37,52.7 143.46,54.2 143.55,55.7 143.66,57.2 143.76,58.7 143.88,60.1 143.99,61.6 144.12,63.1 144.24,64.6 144.37,66.1 144.51,67.6 144.65,69.1 144.80,70.5 144.95,72.0 145.10,73.5 145.26,75.0 145.43,76.5 145.60,78.0 145.77,79.5 145.94,80.9 146.12,82.4 146.31,83.9 146.50,85.4 147.80,85.8 147.80,86.9 147.80,88.4 147.80,89.9 147.80,91.3 147.80,92.8 147.80,94.3 147.80,95.8 147.80,97.3 147.80,98.8 147.80,100.3 147.80,101.7 147.80,102.9 147.80,103.2 147.80,104.7 147.80,106.2 147.80,107.7 147.80,109.2 147.80,110.7 147.80,112.1 147.80,113.6 147.80,115.1 147.80,116.6 147.80,118.1 147.80,119.6 147.80,119.7 146.88,121.1 146.69,122.5 146.51,124.0 146.33,125.5 146.15,127.0 145.97,128.5 145.80,130.0 145.62,131.5 145.45,132.9 145.28,134.4 145.12,135.9 144.96,137.4 144.80,138.9 144.64,140.4 144.48,141.8 144.33,143.3 144.19,144.8 144.04,146.3 143.90,147.8 143.77,149.3 143.63,150.8 143.51,152.2 143.39,153.7 143.27,155.2 M142.32,51.2 142.23,52.7 142.14,54.2 142.05,55.7 141.94,57.2 141.84,58.7 141.72,60.1 141.61,61.6 141.48,63.1 141.36,64.6 141.23,66.1 141.09,67.6 140.95,69.1 140.80,70.5 140.65,72.0 140.50,73.5 140.34,75.0 140.17,76.5 140.00,78.0 139.83,79.5 139.66,80.9 139.48,82.4 139.29,83.9 139.10,85.4 137.80,85.8 137.80,86.9 137.80,88.4 137.80,89.9 137.80,91.3 137.80,92.8 137.80,94.3 137.80,95.8 137.80,97.3 137.80,98.8 137.80,100.3 137.80,101.7 137.80,102.9 137.80,103.2 137.80,104.7 137.80,106.2 137.80,107.7 137.80,109.2 137.80,110.7 137.80,112.1 137.80,113.6 137.80,115.1 137.80,116.6 137.80,118.1 137.80,119.6 137.80,119.7 138.72,121.1 138.91,122.5 139.09,124.0 139.27,125.5 139.45,127.0 139.63,128.5 139.80,130.0 139.98,131.5 140.15,132.9 140.32,134.4 140.48,135.9 140.64,137.4 140.80,138.9 140.96,140.4 141.12,141.8 141.27,143.3 141.41,144.8 141.56,146.3 141.70,147.8 141.83,149.3 141.97,150.8 142.09,152.2 142.21,153.7 142.33,155.2" fill="none" stroke="#1f77b4" stroke-opacity="0.4" stroke-width="0.4"/>
<path d="M162.87,60.5 162.87,61.9 162.87,63.3 162.91,64.7 162.99,66.1 163.10,67.5 163.21,69.0 163.35,70.4 163.49,71.8 163.65,73.2 163.83,74.6 164.01,76.0 164.21,77.4 164.42,78.8 164.64,80.2 164.88,81.6 165.12,83.0 165.38,84.5 165.64,85.9 165.92,87.3 166.21,88.7 166.50,90.1 166.81,91.5 167.13,92.9 167.45,94.3 167.77,94.6 167.77,95.7 167.77,97.1 167.77,98.5 167.77,100.0 167.77,101.4 167.77,102.8 167.77,104.2 167.77,105.6 167.77,107.0 167.77,108.4 167.77,109.8 167.77,110.0 167.77,111.2 167.77,112.6 167.77,114.0 167.77,115.5 167.77,116.9 167.77,118.3 167.77,119.7 167.77,121.1 167.77,122.5 167.77,123.9 167.77,125.3 167.77,126.7 167.77,127.1 166.90,128.1 166.75,129.5 166.59,131.0 166.43,132.4 166.28,133.8 166.13,135.2 165.97,136.6 165.82,138.0 165.67,139.4 165.52,140.8 165.38,142.2 165.23,143.6 165.09,145.0 164.94,146.5 164.80,147.9 164.66,149.3 164.52,150.7 164.39,152.1 164.25,153.5 164.12,154.9 163.99,156.3 163.86,157.7 163.74,159.1 163.61,160.5 163.49,162.0 163.38,163.4 163.26,164.8 163.16,166.2 163.05,167.6 162.95,169.0 162.87,170.4 162.87,171.8 162.87,173.2 162.87,174.6 162.87,176.0 162.87,177.5 162.87,178.9 162.87,180.3 162.87,181.7 162.87,183.1 162.87,184.5 162.87,185.9 162.87,187.3 162.87,188.7 162.87,190.1 162.87,191.5 162.87,193.0 162.87,194.4 162.87,195.8 162.87,197.2 162.87,198.6 162.87,200.0 162.87,201.4 162.87,202.8 162.87,204.2 162.87,205.6 162.87,207.0 162.87,208.5 162.87,209.9 162.87,211.3 162.87,212.7 162.87,214.1 162.87,215.5 L162.67,215.5 162.67,214.1 162.67,212.7 162.67,211.3 162.67,209.9 162.67,208.5 162.67,207.0 162.67,205.6 162.67,204.2 162.67,202.8 162.67,201.4 162.67,200.0 162.67,198.6 162.67,197.2 162.67,195.8 162.67,194.4 162.67,193.0 162.67,191.5 162.67,190.1 162.67,188.7 162.67,187.3 162.67,185.9 162.67,184.5 162.67,183.1 162.67,181.7 162.67,180.3 162.67,178.9 162.67,177.5 162.67,176.0 162.67,174.6 162.67,173.2 162.67,171.8 162.67,170.4 162.59,169.0 162.49,167.6 162.38,166.2 162.28,164.8 162.16,163.4 162.05,162.0 161.93,160.5 161.80,159.1 161.68,157.7 161.55,156.3 161.42,154.9 161.29,153.5 161.15,152.1 161.02,150.7 160.88,149.3 160.74,147.9 160.60,146.5 160.45,145.0 160.31,143.6 160.16,142.2 160.02,140.8 159.87,139.4 159.72,138.0 159.57,136.6 159.41,135.2 159.26,133.8 159.11,132.4 158.95,131.0 158.79,129.5 158.64,128.1 157.77,127.1 157.77,126.7 157.77,125.3 157.77,123.9 157.77,122.5 157.77,121.1 157.77,119.7 157.77,118.3 157.77,116.9 157.77,115.5 157.77,114.0 157.77,112.6 157.77,111.2 157.77,110.0 157.77,109.8 157.77,108.4 157.77,107.0 157.77,105.6 157.77,104.2 157.77,102.8 157.77,101.4 157.77,100.0 157.77,98.5 157.77,97.1 157.77,95.7 157.77,94.6 158.09,94.3 158.41,92.9 158.73,91.5 159.04,90.1 159.33,88.7 159.62,87.3 159.90,85.9 160.16,84.5 160.42,83.0 160.66,81.6 160.90,80.2 161.12,78.8 161.33,77.4 161.53,76.0 161.71,74.6 161.89,73.2 162.05,71.8 162.19,70.4 162.33,69.0 162.44,67.5 162.55,66.1 162.63,64.7 162.67,63.3 162.67,61.9 162.67,60.5 Z" fill="#1f77b4" fill-opacity="0.3"/>
<path d="M163.35,70.4 163.49,71.8 163.65,73.2 163.83,74.6 164.01,76.0 164.21,77.4 164.42,78.8 164.64,80.2 164.88,81.6 165.12,83.0 165.38,84.5 165.64,85.9 165.92,87.3 166.21,88.7 166.50,90.1 166.81,91.5 167.13,92.9 167.45,94.3 167.77,94.6 167.77,95.7 167.77,97.1 167.77,98.5 167.77,100.0 167.77,101.4 167.77,102.8 167.77,104.2 167.77,105.6 167.77,107.0 167.77,108.4 167.77,109.8 167.77,110.0 167.77,111.2 167.77,112.6 167.77,114.0 167.77,115.5 167.77,116.9 167.77,118.3 167.77,119.7 167.77,121.1 167.77,122.5 167.77,123.9 167.77,125.3 167.77,126.7 167.77,127.1 166.90,128.1 166.75,129.5 166.59,131.0 166.43,132.4 166.28,133.8 166.13,135.2 165.97,136.6 165.82,138.0 165.67,139.4 165.52,140.8 165.38,142.2 165.23,143.6 165.09,145.0 164.94,146.5 164.80,147.9 164.66,149.3 164.52,150.7 164.39,152.1 164.25,153.5 164.12,154.9 163.99,156.3 163.86,157.7 163.74,159.1 163.61,160.5 163.49,162.0 163.38,163.4 163.26,164.8 M162.19,70.4 162.05,71.8 161.89,73.2 161.71,74.6 161.53,76.0 161.33,77.4 161.12,78.8 160.90,80.2 160.66,81.6 160.42,83.0 160.16,84.5 159.90,85.9 159.62,87.3 159.33,88.7 159.04,90.1 158.73,91.5 158.41,92.9 158.09,94.3 157.77,94.6 157.77,95.7 157.77,97.1 157.77,98.5 157.77,100.0 157.77,101.4 157.77,102.8 157.77,104.2 157.77,105.6 157.77,107.0 157.77,108.4 157.77,109.8 157.77,110.0 157.77,111.2 157.77,112.6 157.77,114.0 157.77,115.5 157.77,116.9 157.77,118.3 157.77,119.7 157.77,121.1 157.77,122.5 157.77,123.9 157.77,125.3 157.77,126.7 157.77,127.1 158.64,128.1 158.79,129.5 158.95,131.0 159.11,132.4 159.26,133.8 159.41,135.2 159.57,136.6 159.72,138.0 159.87,139.4 160.02,140.8 160.16,142.2 160.31,143.6 160.45,145.0 160.60,146.5 160.74,147.9 160.88,149.3 161.02,150.7 161.15,152.1 161.29,153.5 161.42,154.9 161.55,156.3 161.68,157.7 161.80,159.1 161.93,160.5 162.05,162.0 162.16,163.4 162.28,164.8" fill="none" stroke="#1f77b4" stroke-opacity="0.4" stroke-width="0.4"/>
<path d="M182.84,27.5 182.84,28.9 182.84,30.2 182.86,31.6 182.93,33.0 183.01,34.3 183.10,35.7 183.20,37.0 183.31,38.4 183.43,39.8 183.56,41.1 183.69,42.5 183.83,43.9 183.98,45.2 184.14,46.6 184.30,47.9 184.47,49.3 184.65,50.7 184.83,52.0 185.02,53.4 185.21,54.8 185.41,56.1 185.62,57.5 185.83,58.8 186.05,60.2 186.27,61.6 186.50,62.9 186.73,64.3 186.97,65.7 187.22,67.0 187.47,68.4 187.74,68.5 187.74,69.7 187.74,71.1 187.74,72.5 187.74,73.8 187.74,75.2 187.74,76.6 187.74,77.9 187.74,79.3 187.74,80.6 187.74,82.0 187.74,83.4 187.74,84.7 187.74,84.7 187.74,86.1 187.74,87.5 187.74,88.8 187.74,90.2 187.74,91.5 187.74,92.9 187.74,94.3 187.74,95.6 187.74,97.0 187.74,98.4 187.74,99.7 187.74,101.1 187.74,102.5 187.74,103.8 187.74,105.2 187.74,105.3 186.85,106.5 186.69,107.9 186.54,109.3 186.39,110.6 186.24,112.0 186.09,113.4 185.94,114.7 185.79,116.1 185.65,117.4 185.51,118.8 185.37,120.2 185.23,121.5 185.09,122.9 184.95,124.3 184.82,125.6 184.69,127.0 184.56,128.3 184.43,129.7 184.30,131.1 184.18,132.4 184.06,133.8 183.94,135.2 183.82,136.5 183.71,137.9 183.60,139.2 183.49,140.6 183.39,142.0 183.29,143.3 183.19,144.7 183.10,146.1 183.02,147.4 182.94,148.8 182.86,150.1 182.84,151.5 182.84,152.9 182.84,154.2 182.84,155.6 182.84,157.0 182.84,158.3 182.84,159.7 182.84,161.0 182.84,162.4 182.84,163.8 182.84,165.1 182.84,166.5 182.84,167.9 182.84,169.2 182.84,170.6 182.84,171.9 182.84,173.3 182.84,174.7 182.84,176.0 182.84,177.4 L182.64,177.4 182.64,176.0 182.64,174.7 182.64,173.3 182.64,171.9 182.64,170.6 182.64,169.2 182.64,167.9 182.64,166.5 182.64,165.1 182.64,163.8 182.64,162.4 182.64,161.0 182.64,159.7 182.64,158.3 182.64,157.0 182.64,155.6 182.64,154.2 182.64,152.9 182.64,151.5 182.62,150.1 182.54,148.8 182.46,147.4 182.38,146.1 182.29,144.7 182.19,143.3 182.09,142.0 181.99,140.6 181.88,139.2 181.77,137.9 181.66,136.5 181.54,135.2 181.42,133.8 181.30,132.4 181.18,131.1 181.05,129.7 180.92,128.3 180.79,127.0 180.66,125.6 180.53,124.3 180.39,122.9 180.25,121.5 180.11,120.2 179.97,118.8 179.83,117.4 179.69,116.1 179.54,114.7 179.39,113.4 179.24,112.0 179.09,110.6 178.94,109.3 178.79,107.9 178.63,106.5 177.74,105.3 177.74,105.2 177.74,103.8 177.74,102.5 177.74,101.1 177.74,99.7 177.74,98.4 177.74,97.0 177.74,95.6 177.74,94.3 177.74,92.9 177.74,91.5 177.74,90.2 177.74,88.8 177.74,87.5 177.74,86.1 177.74,84.7 177.74,84.7 177.74,83.4 177.74,82.0 177.74,80.6 177.74,79.3 177.74,77.9 177.74,76.6 177.74,75.2 177.74,73.8 177.74,72.5 177.74,71.1 177.74,69.7 177.74,68.5 178.01,68.4 178.26,67.0 178.51,65.7 178.75,64.3 178.98,62.9 179.21,61.6 179.43,60.2 179.65,58.8 179.86,57.5 180.07,56.1 180.27,54.8 180.46,53.4 180.65,52.0 180.83,50.7 181.01,49.3 181.18,47.9 181.34,46.6 181.50,45.2 181.65,43.9 181.79,42.5 181.92,41.1 182.05,39.8 182.17,38.4 182.28,37.0 182.38,35.7 182.47,34.3 182.55,33.0 182.62,31.6 182.64,30.2 182.64,28.9 182.64,27.5 Z" fill="#1f77b4" fill-opacity="0.3"/>
<path d="M183.20,37.0 183.31,38.4 183.43,39.8 183.56,41.1 183.69,42.5 183.83,43.9 183.98,45.2 184.14,46.6 184.30,47.9 184.47,49.3 184.65,50.7 184.83,52.0 185.02,53.4 185.21,54.8 185.41,56.1 185.62,57.5 185.83,58.8 186.05,60.2 186.27,61.6 186.50,62.9 186.73,64.3 186.97,65.7 187.22,67.0 187.47,68.4 187.74,68.5 187.74,69.7 187.74,71.1 187.74,72.5 187.74,73.8 187.74,75.2 187.74,76.6 187.74,77.9 187.74,79.3 187.74,80.6 187.74,82.0 187.74,83.4 187.74,84.7 187.74,84.7 187.74,86.1 187.74,87.5 187.74,88.8 187.74,90.2 187.74,91.5 187.74,92.9 187.74,94.3 187.74,95.6 187.74,97.0 187.74,98.4 187.74,99.7 187.74,101.1 187.74,102.5 187.74,103.8 187.74,105.2 187.74,105.3 186.85,106.5 186.69,107.9 186.54,109.3 186.39,110.6 186.24,112.0 186.09,113.4 185.94,114.7 185.79,116.1 185.65,117.4 185.51,118.8 185.37,120.2 185.23,121.5 185.09,122.9 184.95,124.3 184.82,125.6 184.69,127.0 184.56,128.3 184.43,129.7 184.30,131.1 184.18,132.4 184.06,133.8 183.94,135.2 183.82,136.5 183.71,137.9 183.60,139.2 183.49,140.6 183.39,142.0 183.29,143.3 183.19,144.7 M182.28,37.0 182.17,38.4 182.05,39.8 181.92,41.1 181.79,42.5 181.65,43.9 181.50,45.2 181.34,46.6 181.18,47.9 181.01,49.3 180.83,50.7 180.65,52.0 180.46,53.4 180.27,54.8 180.07,56.1 179.86,57.5 179.65,58.8 179.43,60.2 179.21,61.6 178.98,62.9 178.75,64.3 178.51,65.7 178.26,67.0 178.01,68.4 177.74,68.5 177.74,69.7 177.74,71.1 177.74,72.5 177.74,73.8 177.74,75.2 177.74,76.6 177.74,77.9 177.74,79.3 177.74,80.6 177.74,82.0 177.74,83.4 177.74,84.7 177.74,84.7 177.74,86.1 177.74,87.5 177.74,88.8 177.74,90.2 177.74,91.5 177.74,92.9 177.74,94.3 177.74,95.6 177.74,97.0 177.74,98.4 177.74,99.7 177.74,101.1 177.74,102.5 177.74,103.8 177.74,105.2 177.74,105.3 178.63,106.5 178.79,107.9 178.94,109.3 179.09,110.6 179.24,112.0 179.39,113.4 179.54,114.7 179.69,116.1 179.83,117.4 179.97,118.8 180.11,120.2 180.25,121.5 180.39,122.9 180.53,124.3 180.66,125.6 180.79,127.0 180.92,128.3 181.05,129.7 181.18,131.1 181.30,132.4 181.42,133.8 181.54,135.2 181.66,136.5 181.77,137.9 181.88,139.2 181.99,140.6 182.09,142.0 182.19,143.3 182.29,144.7" fill="none" stroke="#1f77b4" stroke-opacity="0.4" stroke-width="0.4"/>
<path d="M202.81,28.6 202.81,30.0 202.81,31.3 202.81,32.7 202.87,34.0 202.94,35.4 203.02,36.7 203.11,38.1 203.20,39.4 203.31,40.8 203.41,42.1 203.53,43.5 203.65,44.8 203.78,46.2 203.92,47.5 204.06,48.9 204.20,50.2 204.36,51.6 204.51,52.9 204.68,54.3 204.85,55.6 205.02,57.0 205.20,58.3 205.38,59.7 205.57,61.0 205.76,62.4 205.96,63.7 206.16,65.1 206.37,66.4 206.58,67.8 207.71,68.6 207.71,69.1 207.71,70.5 207.71,71.8 207.71,73.2 207.71,74.5 207.71,75.9 207.71,77.2 207.71,78.6 207.71,79.9 207.71,81.3 207.71,82.6 207.71,83.6 207.71,84.0 207.71,85.3 207.71,86.7 207.71,88.0 207.71,89.4 207.71,90.7 207.71,92.1 207.71,93.4 207.71,94.8 207.71,96.1 207.71,97.5 207.71,98.8 207.71,100.2 207.71,101.5 207.71,102.9 207.71,104.3 207.71,105.6 207.71,106.0 206.61,107.0 206.48,108.3 206.34,109.7 206.20,111.0 206.07,112.4 205.94,113.7 205.80,115.1 205.67,116.4 205.54,117.8 205.41,119.1 205.28,120.5 205.16,121.8 205.03,123.2 204.90,124.5 204.78,125.9 204.66,127.2 204.53,128.6 204.41,129.9 204.30,131.3 204.18,132.6 204.06,134.0 203.95,135.3 203.83,136.7 203.72,138.0 203.62,139.4 203.51,140.7 203.40,142.1 203.30,143.4 203.20,144.8 203.11,146.1 203.02,147.5 202.93,148.8 202.85,150.2 202.81,151.5 202.81,152.9 202.81,154.2 202.81,155.6 202.81,156.9 202.81,158.3 202.81,159.6 202.81,161.0 202.81,162.3 202.81,163.7 202.81,165.0 202.81,166.4 202.81,167.7 202.81,169.1 202.81,170.4 202.81,171.8 202.81,173.1 202.81,174.5 202.81,175.8 202.81,177.2 L202.61,177.2 202.61,175.8 202.61,174.5 202.61,173.1 202.61,171.8 202.61,170.4 202.61,169.1 202.61,167.7 202.61,166.4 202.61,165.0 202.61,163.7 202.61,162.3 202.61,161.0 202.61,159.6 202.61,158.3 202.61,156.9 202.61,155.6 202.61,154.2 202.61,152.9 202.61,151.5 202.57,150.2 202.49,148.8 202.40,147.5 202.31,146.1 202.22,144.8 202.12,143.4 202.02,142.1 201.91,140.7 201.80,139.4 201.70,138.0 201.59,136.7 201.47,135.3 201.36,134.0 201.24,132.6 201.12,131.3 201.01,129.9 200.89,128.6 200.76,127.2 200.64,125.9 200.52,124.5 200.39,123.2 200.26,121.8 200.14,120.5 200.01,119.1 199.88,117.8 199.75,116.4 199.62,115.1 199.48,113.7 199.35,112.4 199.22,111.0 199.08,109.7 198.94,108.3 198.81,107.0 197.71,106.0 197.71,105.6 197.71,104.3 197.71,102.9 197.71,101.5 197.71,100.2 197.71,98.8 197.71,97.5 197.71,96.1 197.71,94.8 197.71,93.4 197.71,92.1 197.71,90.7 197.71,89.4 197.71,88.0 197.71,86.7 197.71,85.3 197.71,84.0 197.71,83.6 197.71,82.6 197.71,81.3 197.71,79.9 197.71,78.6 197.71,77.2 197.71,75.9 197.71,74.5 197.71,73.2 197.71,71.8 197.71,70.5 197.71,69.1 197.71,68.6 198.84,67.8 199.05,66.4 199.26,65.1 199.46,63.7 199.66,62.4 199.85,61.0 200.04,59.7 200.22,58.3 200.40,57.0 200.57,55.6 200.74,54.3 200.91,52.9 201.06,51.6 201.22,50.2 201.36,48.9 201.50,47.5 201.64,46.2 201.77,44.8 201.89,43.5 202.01,42.1 202.11,40.8 202.22,39.4 202.31,38.1 202.40,36.7 202.48,35.4 202.55,34.0 202.61,32.7 202.61,31.3 202.61,30.0 202.61,28.6 Z" fill="#1f77b4" fill-opacity="0.3"/>
<path d="M203.20,39.4 203.31,40.8 203.41,42.1 203.53,43.5 203.65,44.8 203.78,46.2 203.92,47.5 204.06,48.9 204.20,50.2 204.36,51.6 204.51,52.9 204.68,54.3 204.85,55.6 205.02,57.0 205.20,58.3 205.38,59.7 205.57,61.0 205.76,62.4 205.96,63.7 206.16,65.1 206.37,66.4 206.58,67.8 207.71,68.6 207.71,69.1 207.71,70.5 207.71,71.8 207.71,73.2 207.71,74.5 207.71,75.9 207.71,77.2 207.71,78.6 207.71,79.9 207.71,81.3 207.71,82.6 207.71,83.6 207.71,84.0 207.71,85.3 207.71,86.7 207.71,88.0 207.71,89.4 207.71,90.7 207.71,92.1 207.71,93.4 207.71,94.8 207.71,96.1 207.71,97.5 207.71,98.8 207.71,100.2 207.71,101.5 207.71,102.9 207.71,104.3 207.71,105.6 207.71,106.0 206.61,107.0 206.48,108.3 206.34,109.7 206.20,111.0 206.07,112.4 205.94,113.7 205.80,115.1 205.67,116.4 205.54,117.8 205.41,119.1 205.28,120.5 205.16,121.8 205.03,123.2 204.90,124.5 204.78,125.9 204.66,127.2 204.53,128.6 204.41,129.9 204.30,131.3 204.18,132.6 204.06,134.0 203.95,135.3 203.83,136.7 203.72,138.0 203.62,139.4 203.51,140.7 203.40,142.1 203.30,143.4 203.20,144.8 M202.22,39.4 202.11,40.8 202.01,42.1 201.89,43.5 201.77,44.8 201.64,46.2 201.50,47.5 201.36,48.9 201.22,50.2 201.06,51.6 200.91,52.9 200.74,54.3 200.57,55.6 200.40,57.0 200.22,58.3 200.04,59.7 199.85,61.0 199.66,62.4 199.46,63.7 199.26,65.1 199.05,66.4 198.84,67.8 197.71,68.6 197.71,69.1 197.71,70.5 197.71,71.8 197.71,73.2 197.71,74.5 197.71,75.9 197.71,77.2 197.71,78.6 197.71,79.9 197.71,81.3 197.71,82.6 197.71,83.6 197.71,84.0 197.71,85.3 197.71,86.7 197.71,88.0 197.71,89.4 197.71,90.7 197.71,92.1 197.71,93.4 197.71,94.8 197.71,96.1 197.71,97.5 197.71,98.8 197.71,100.2 197.71,101.5 197.71,102.9 197.71,104.3 197.71,105.6 197.71,106.0 198.81,107.0 198.94,108.3 199.08,109.7 199.22,111.0 199.35,112.4 199.48,113.7 199.62,115.1 199.75,116.4 199.88,117.8 200.01,119.1 200.14,120.5 200.26,121.8 200.39,123.2 200.52,124.5 200.64,125.9 200.76,127.2 200.89,128.6 201.01,129.9 201.12,131.3 201.24,132.6 201.36,134.0 201.47,135.3 201.59,136.7 201.70,138.0 201.80,139.4 201.91,140.7 202.02,142.1 202.12,143.4 202.22,144.8" fill="none" stroke="#1f77b4" stroke-opacity="0.4" stroke-width="0.4"/>
<path d="M222.78,23.1 222.78,24.4 222.78,25.7 222.78,26.9 222.78,28.2 222.78,29.5 222.78,30.8 222.78,32.1 222.78,33.3 222.78,34.6 222.80,35.9 222.85,37.2 222.90,38.4 222.97,39.7 223.04,41.0 223.11,42.3 223.19,43.6 223.28,44.8 223.37,46.1 223.47,47.4 223.57,48.7 223.68,50.0 223.79,51.2 223.91,52.5 224.03,53.8 224.16,55.1 224.29,56.4 224.43,57.6 224.57,58.9 224.72,60.2 224.87,61.5 225.02,62.8 225.18,64.0 225.34,65.3 225.51,66.6 225.68,67.9 225.86,69.1 226.04,70.4 226.22,71.7 227.68,72.1 227.68,73.0 227.68,74.3 227.68,75.5 227.68,76.8 227.68,78.1 227.68,79.4 227.68,80.7 227.68,81.9 227.68,83.2 227.68,84.5 227.68,85.8 227.68,87.1 227.68,87.5 227.68,88.3 227.68,89.6 227.68,90.9 227.68,92.2 227.68,93.5 227.68,94.7 227.68,96.0 227.68,97.3 227.68,98.6 227.68,99.8 227.68,101.1 227.68,102.4 227.68,103.7 227.68,105.0 227.68,105.5 226.84,106.2 226.70,107.5 226.55,108.8 226.41,110.1 226.26,111.4 226.12,112.6 225.98,113.9 225.84,115.2 225.69,116.5 225.56,117.8 225.42,119.0 225.28,120.3 225.15,121.6 225.01,122.9 224.88,124.1 224.75,125.4 224.62,126.7 224.49,128.0 224.36,129.3 224.23,130.5 224.11,131.8 223.99,133.1 223.87,134.4 223.75,135.7 223.63,136.9 223.52,138.2 223.41,139.5 223.30,140.8 223.19,142.1 223.09,143.3 222.99,144.6 222.90,145.9 222.81,147.2 222.78,148.5 222.78,149.7 222.78,151.0 222.78,152.3 222.78,153.6 222.78,154.8 222.78,156.1 222.78,157.4 222.78,158.7 222.78,160.0 222.78,161.2 222.78,162.5 222.78,163.8 L222.58,163.8 222.58,162.5 222.58,161.2 222.58,160.0 222.58,158.7 222.58,157.4 222.58,156.1 222.58,154.8 222.58,153.6 222.58,152.3 222.58,151.0 222.58,149.7 222.58,148.5 222.55,147.2 222.46,145.9 222.37,144.6 222.27,143.3 222.17,142.1 222.06,140.8 221.95,139.5 221.84,138.2 221.73,136.9 221.61,135.7 221.49,134.4 221.37,133.1 221.25,131.8 221.13,130.5 221.00,129.3 220.87,128.0 220.74,126.7 220.61,125.4 220.48,124.1 220.35,122.9 220.21,121.6 220.08,120.3 219.94,119.0 219.80,117.8 219.67,116.5 219.52,115.2 219.38,113.9 219.24,112.6 219.10,111.4 218.95,110.1 218.81,108.8 218.66,107.5 218.52,106.2 217.68,105.5 217.68,105.0 217.68,103.7 217.68,102.4 217.68,101.1 217.68,99.8 217.68,98.6 217.68,97.3 217.68,96.0 217.68,94.7 217.68,93.5 217.68,92.2 217.68,90.9 217.68,89.6 217.68,88.3 217.68,87.5 217.68,87.1 217.68,85.8 217.68,84.5 217.68,83.2 217.68,81.9 217.68,80.7 217.68,79.4 217.68,78.1 217.68,76.8 217.68,75.5 217.68,74.3 217.68,73.0 217.68,72.1 219.14,71.7 219.32,70.4 219.50,69.1 219.68,67.9 219.85,66.6 220.02,65.3 220.18,64.0 220.34,62.8 220.49,61.5 220.64,60.2 220.79,58.9 220.93,57.6 221.07,56.4 221.20,55.1 221.33,53.8 221.45,52.5 221.57,51.2 221.68,50.0 221.79,48.7 221.89,47.4 221.99,46.1 222.08,44.8 222.17,43.6 222.25,42.3 222.32,41.0 222.39,39.7 222.46,38.4 222.51,37.2 222.56,35.9 222.58,34.6 222.58,33.3 222.58,32.1 222.58,30.8 222.58,29.5 222.58,28.2 222.58,26.9 222.58,25.7 222.58,24.4 222.58,23.1 Z" fill="#1f77b4" fill-opacity="0.3"/>
<path d="M223.19,43.6 223.28,44.8 223.37,46.1 223.47,47.4 223.57,48.7 223.68,50.0 223.79,51.2 223.91,52.5 224.03,53.8 224.16,55.1 224.29,56.4 224.43,57.6 224.57,58.9 224.72,60.2 224.87,61.5 225.02,62.8 225.18,64.0 225.34,65.3 225.51,66.6 225.68,67.9 225.86,69.1 226.04,70.4 226.22,71.7 227.68,72.1 227.68,73.0 227.68,74.3 227.68,75.5 227.68,76.8 227.68,78.1 227.68,79.4 227.68,80.7 227.68,81.9 227.68,83.2 227.68,84.5 227.68,85.8 227.68,87.1 227.68,87.5 227.68,88.3 227.68,89.6 227.68,90.9 227.68,92.2 227.68,93.5 227.68,94.7 227.68,96.0 227.68,97.3 227.68,98.6 227.68,99.8 227.68,101.1 227.68,102.4 227.68,103.7 227.68,105.0 227.68,105.5 226.84,106.2 226.70,107.5 226.55,108.8 226.41,110.1 226.26,111.4 226.12,112.6 225.98,113.9 225.84,115.2 225.69,116.5 225.56,117.8 225.42,119.0 225.28,120.3 225.15,121.6 225.01,122.9 224.88,124.1 224.75,125.4 224.62,126.7 224.49,128.0 224.36,129.3 224.23,130.5 224.11,131.8 223.99,133.1 223.87,134.4 223.75,135.7 223.63,136.9 223.52,138.2 223.41,139.5 223.30,140.8 223.19,142.1 M222.17,43.6 222.08,44.8 221.99,46.1 221.89,47.4 221.79,48.7 221.68,50.0 221.57,51.2 221.45,52.5 221.33,53.8 221.20,55.1 221.07,56.4 220.93,57.6 220.79,58.9 220.64,60.2 220.49,61.5 220.34,62.8 220.18,64.0 220.02,65.3 219.85,66.6 219.68,67.9 219.50,69.1 219.32,70.4 219.14,71.7 217.68,72.1 217.68,73.0 217.68,74.3 217.68,75.5 217.68,76.8 217.68,78.1 217.68,79.4 217.68,80.7 217.68,81.9 217.68,83.2 217.68,84.5 217.68,85.8 217.68,87.1 217.68,87.5 217.68,88.3 217.68,89.6 217.68,90.9 217.68,92.2 217.68,93.5 217.68,94.7 217.68,96.0 217.68,97.3 217.68,98.6 217.68,99.8 217.68,101.1 217.68,102.4 217.68,103.7 217.68,105.0 217.68,105.5 218.52,106.2 218.66,107.5 218.81,108.8 218.95,110.1 219.10,111.4 219.24,112.6 219.38,113.9 219.52,115.2 219.67,116.5 219.80,117.8 219.94,119.0 220.08,120.3 220.21,121.6 220.35,122.9 220.48,124.1 220.61,125.4 220.74,126.7 220.87,128.0 221.00,129.3 221.13,130.5 221.25,131.8 221.37,133.1 221.49,134.4 221.61,135.7 221.73,136.9 221.84,138.2 221.95,139.5 222.06,140.8 222.17,142.1" fill="none" stroke="#1f77b4" stroke-opacity="0.4" stroke-width="0.4"/>
<path d="M242.75,44.4 242.75,45.6 242.75,46.7 242.75,47.9 242.75,49.0 242.79,50.2 242.84,51.3 242.90,52.5 242.97,53.7 243.04,54.8 243.13,56.0 243.21,57.1 243.31,58.3 243.41,59.4 243.52,60.6 243.64,61.7 243.76,62.9 243.89,64.1 244.02,65.2 244.16,66.4 244.31,67.5 244.46,68.7 244.62,69.8 244.78,71.0 244.95,72.2 245.12,73.3 245.31,74.5 245.49,75.6 245.68,76.8 245.88,77.9 246.09,79.1 246.29,80.2 246.51,81.4 246.73,82.6 246.95,83.7 247.65,84.7 247.65,84.9 247.65,86.0 247.65,87.2 247.65,88.3 247.65,89.5 247.65,90.7 247.65,91.8 247.65,93.0 247.65,94.1 247.65,95.3 247.65,96.4 247.65,97.6 247.65,98.7 247.65,99.4 247.65,99.9 247.65,101.1 247.65,102.2 247.65,103.4 247.65,104.5 247.65,105.7 247.65,106.8 247.65,108.0 247.65,109.2 247.65,110.3 247.65,111.5 247.65,112.6 247.65,113.8 247.65,114.4 246.82,114.9 246.66,116.1 246.50,117.3 246.34,118.4 246.19,119.6 246.03,120.7 245.88,121.9 245.72,123.0 245.57,124.2 245.42,125.3 245.28,126.5 245.13,127.7 244.99,128.8 244.85,130.0 244.71,131.1 244.57,132.3 244.43,133.4 244.30,134.6 244.17,135.8 244.04,136.9 243.92,138.1 243.80,139.2 243.68,140.4 243.56,141.5 243.45,142.7 243.34,143.8 243.23,145.0 243.13,146.2 243.04,147.3 242.95,148.5 242.86,149.6 242.78,150.8 242.75,151.9 242.75,153.1 242.75,154.3 242.75,155.4 242.75,156.6 242.75,157.7 242.75,158.9 242.75,160.0 242.75,161.2 242.75,162.3 242.75,163.5 242.75,164.7 242.75,165.8 242.75,167.0 242.75,168.1 242.75,169.3 242.75,170.4 242.75,171.6 L242.55,171.6 242.55,170.4 242.55,169.3 242.55,168.1 242.55,167.0 242.55,165.8 242.55,164.7 242.55,163.5 242.55,162.3 242.55,161.2 242.55,160.0 242.55,158.9 242.55,157.7 242.55,156.6 242.55,155.4 242.55,154.3 242.55,153.1 242.55,151.9 242.52,150.8 242.44,149.6 242.35,148.5 242.26,147.3 242.17,146.2 242.07,145.0 241.96,143.8 241.85,142.7 241.74,141.5 241.62,140.4 241.50,139.2 241.38,138.1 241.26,136.9 241.13,135.8 241.00,134.6 240.87,133.4 240.73,132.3 240.59,131.1 240.45,130.0 240.31,128.8 240.17,127.7 240.02,126.5 239.88,125.3 239.73,124.2 239.58,123.0 239.42,121.9 239.27,120.7 239.11,119.6 238.96,118.4 238.80,117.3 238.64,116.1 238.48,114.9 237.65,114.4 237.65,113.8 237.65,112.6 237.65,111.5 237.65,110.3 237.65,109.2 237.65,108.0 237.65,106.8 237.65,105.7 237.65,104.5 237.65,103.4 237.65,102.2 237.65,101.1 237.65,99.9 237.65,99.4 237.65,98.7 237.65,97.6 237.65,96.4 237.65,95.3 237.65,94.1 237.65,93.0 237.65,91.8 237.65,90.7 237.65,89.5 237.65,88.3 237.65,87.2 237.65,86.0 237.65,84.9 237.65,84.7 238.35,83.7 238.57,82.6 238.79,81.4 239.01,80.2 239.21,79.1 239.42,77.9 239.62,76.8 239.81,75.6 239.99,74.5 240.18,73.3 240.35,72.2 240.52,71.0 240.68,69.8 240.84,68.7 240.99,67.5 241.14,66.4 241.28,65.2 241.41,64.1 241.54,62.9 241.66,61.7 241.78,60.6 241.89,59.4 241.99,58.3 242.09,57.1 242.17,56.0 242.26,54.8 242.33,53.7 242.40,52.5 242.46,51.3 242.51,50.2 242.55,49.0 242.55,47.9 242.55,46.7 242.55,45.6 242.55,44.4 Z" fill="#1f77b4" fill-opacity="0.3"/>
<path d="M243.13,56.0 243.21,57.1 243.31,58.3 243.41,59.4 243.52,60.6 243.64,61.7 243.76,62.9 243.89,64.1 244.02,65.2 244.16,66.4 244.31,67.5 244.46,68.7 244.62,69.8 244.78,71.0 244.95,72.2 245.12,73.3 245.31,74.5 245.49,75.6 245.68,76.8 245.88,77.9 246.09,79.1 246.29,80.2 246.51,81.4 246.73,82.6 246.95,83.7 247.65,84.7 247.65,84.9 247.65,86.0 247.65,87.2 247.65,88.3 247.65,89.5 247.65,90.7 247.65,91.8 247.65,93.0 247.65,94.1 247.65,95.3 247.65,96.4 247.65,97.6 247.65,98.7 247.65,99.4 247.65,99.9 247.65,101.1 247.65,102.2 247.65,103.4 247.65,104.5 247.65,105.7 247.65,106.8 247.65,108.0 247.65,109.2 247.65,110.3 247.65,111.5 247.65,112.6 247.65,113.8 247.65,114.4 246.82,114.9 246.66,116.1 246.50,117.3 246.34,118.4 246.19,119.6 246.03,120.7 245.88,121.9 245.72,123.0 245.57,124.2 245.42,125.3 245.28,126.5 245.13,127.7 244.99,128.8 244.85,130.0 244.71,131.1 244.57,132.3 244.43,133.4 244.30,134.6 244.17,135.8 244.04,136.9 243.92,138.1 243.80,139.2 243.68,140.4 243.56,141.5 243.45,142.7 243.34,143.8 243.23,145.0 243.13,146.2 M242.17,56.0 242.09,57.1 241.99,58.3 241.89,59.4 241.78,60.6 241.66,61.7 241.54,62.9 241.41,64.1 241.28,65.2 241.14,66.4 240.99,67.5 240.84,68.7 240.68,69.8 240.52,71.0 240.35,72.2 240.18,73.3 239.99,74.5 239.81,75.6 239.62,76.8 239.42,77.9 239.21,79.1 239.01,80.2 238.79,81.4 238.57,82.6 238.35,83.7 237.65,84.7 237.65,84.9 237.65,86.0 237.65,87.2 237.65,88.3 237.65,89.5 237.65,90.7 237.65,91.8 237.65,93.0 237.65,94.1 237.65,95.3 237.65,96.4 237.65,97.6 237.65,98.7 237.65,99.4 237.65,99.9 237.65,101.1 237.65,102.2 237.65,103.4 237.65,104.5 237.65,105.7 237.65,106.8 237.65,108.0 237.65,109.2 237.65,110.3 237.65,111.5 237.65,112.6 237.65,113.8 237.65,114.4 238.48,114.9 238.64,116.1 238.80,117.3 238.96,118.4 239.11,119.6 239.27,120.7 239.42,121.9 239.58,123.0 239.73,124.2 239.88,125.3 240.02,126.5 240.17,127.7 240.31,128.8 240.45,130.0 240.59,131.1 240.73,132.3 240.87,133.4 241.00,134.6 241.13,135.8 241.26,136.9 241.38,138.1 241.50,139.2 241.62,140.4 241.74,141.5 241.85,142.7 241.96,143.8 242.07,145.0 242.17,146.2" fill="none" stroke="#1f77b4" stroke-opacity="0.4" stroke-width="0.4"/>
<path d="M262.72,29.2 262.72,30.4 262.72,31.7 262.72,32.9 262.72,34.2 262.72,35.4 262.72,36.7 262.72,37.9 262.72,39.1 262.72,40.4 262.72,41.6 262.72,42.9 262.72,44.1 262.72,45.4 262.72,46.6 262.72,47.9 262.72,49.1 262.72,50.3 262.72,51.6 262.72,52.8 262.72,54.1 262.72,55.3 262.72,56.6 262.72,57.8 262.72,59.0 262.72,60.3 262.72,61.5 262.72,62.8 262.72,64.0 262.74,65.3 262.81,66.5 262.88,67.8 262.97,69.0 263.06,70.2 263.16,71.5 263.27,72.7 263.38,74.0 263.51,75.2 263.64,76.5 263.77,77.7 263.91,78.9 264.06,80.2 264.22,81.4 264.38,82.7 264.54,83.9 264.71,85.2 264.89,86.4 265.07,87.7 265.26,88.9 265.45,90.1 265.65,91.4 265.85,92.6 266.06,93.9 266.27,95.1 266.48,96.4 266.70,97.6 266.93,98.8 267.16,100.1 267.62,101.2 267.62,101.3 267.62,102.6 267.62,103.8 267.62,105.1 267.62,106.3 267.62,107.5 267.62,108.8 267.62,110.0 267.62,111.3 267.62,112.5 267.62,113.8 267.62,115.0 267.62,116.3 267.62,117.5 267.62,117.7 267.62,118.7 267.62,120.0 267.62,121.2 267.62,122.5 267.62,123.7 267.62,125.0 267.62,126.2 267.62,127.4 267.62,128.7 267.62,129.9 267.62,131.2 267.62,131.3 265.73,132.4 265.58,133.7 265.44,134.9 265.29,136.2 265.15,137.4 265.01,138.6 264.87,139.9 264.73,141.1 264.59,142.4 264.46,143.6 264.33,144.9 264.20,146.1 264.07,147.3 263.95,148.6 263.82,149.8 263.71,151.1 263.59,152.3 263.48,153.6 263.37,154.8 263.26,156.1 263.16,157.3 263.06,158.5 262.97,159.8 262.88,161.0 262.80,162.3 262.73,163.5 262.72,164.8 262.72,166.0 L262.52,166.0 262.52,164.8 262.51,163.5 262.44,162.3 262.36,161.0 262.27,159.8 262.18,158.5 262.08,157.3 261.98,156.1 261.87,154.8 261.76,153.6 261.65,152.3 261.53,151.1 261.42,149.8 261.29,148.6 261.17,147.3 261.04,146.1 260.91,144.9 260.78,143.6 260.65,142.4 260.51,141.1 260.37,139.9 260.23,138.6 260.09,137.4 259.95,136.2 259.80,134.9 259.66,133.7 259.51,132.4 257.62,131.3 257.62,131.2 257.62,129.9 257.62,128.7 257.62,127.4 257.62,126.2 257.62,125.0 257.62,123.7 257.62,122.5 257.62,121.2 257.62,120.0 257.62,118.7 257.62,117.7 257.62,117.5 257.62,116.3 257.62,115.0 257.62,113.8 257.62,112.5 257.62,111.3 257.62,110.0 257.62,108.8 257.62,107.5 257.62,106.3 257.62,105.1 257.62,103.8 257.62,102.6 257.62,101.3 257.62,101.2 258.08,100.1 258.31,98.8 258.54,97.6 258.76,96.4 258.97,95.1 259.18,93.9 259.39,92.6 259.59,91.4 259.79,90.1 259.98,88.9 260.17,87.7 260.35,86.4 260.53,85.2 260.70,83.9 260.86,82.7 261.02,81.4 261.18,80.2 261.33,78.9 261.47,77.7 261.60,76.5 261.73,75.2 261.86,74.0 261.97,72.7 262.08,71.5 262.18,70.2 262.27,69.0 262.36,67.8 262.43,66.5 262.50,65.3 262.52,64.0 262.52,62.8 262.52,61.5 262.52,60.3 262.52,59.0 262.52,57.8 262.52,56.6 262.52,55.3 262.52,54.1 262.52,52.8 262.52,51.6 262.52,50.3 262.52,49.1 262.52,47.9 262.52,46.6 262.52,45.4 262.52,44.1 262.52,42.9 262.52,41.6 262.52,40.4 262.52,39.1 262.52,37.9 262.52,36.7 262.52,35.4 262.52,34.2 262.52,32.9 262.52,31.7 262.52,30.4 262.52,29.2 Z" fill="#1f77b4" fill-opacity="0.3"/>
<path d="M263.16,71.5 263.27,72.7 263.38,74.0 263.51,75.2 263.64,76.5 263.77,77.7 263.91,78.9 264.06,80.2 264.22,81.4 264.38,82.7 264.54,83.9 264.71,85.2 264.89,86.4 265.07,87.7 265.26,88.9 265.45,90.1 265.65,91.4 265.85,92.6 266.06,93.9 266.27,95.1 266.48,96.4 266.70,97.6 266.93,98.8 267.16,100.1 267.62,101.2 267.62,101.3 267.62,102.6 267.62,103.8 267.62,105.1 267.62,106.3 267.62,107.5 267.62,108.8 267.62,110.0 267.62,111.3 267.62,112.5 267.62,113.8 267.62,115.0 267.62,116.3 267.62,117.5 267.62,117.7 267.62,118.7 267.62,120.0 267.62,121.2 267.62,122.5 267.62,123.7 267.62,125.0 267.62,126.2 267.62,127.4 267.62,128.7 267.62,129.9 267.62,131.2 267.62,131.3 265.73,132.4 265.58,133.7 265.44,134.9 265.29,136.2 265.15,137.4 265.01,138.6 264.87,139.9 264.73,141.1 264.59,142.4 264.46,143.6 264.33,144.9 264.20,146.1 264.07,147.3 263.95,148.6 263.82,149.8 263.71,151.1 263.59,152.3 263.48,153.6 263.37,154.8 263.26,156.1 263.16,157.3 M262.08,71.5 261.97,72.7 261.86,74.0 261.73,75.2 261.60,76.5 261.47,77.7 261.33,78.9 261.18,80.2 261.02,81.4 260.86,82.7 260.70,83.9 260.53,85.2 260.35,86.4 260.17,87.7 259.98,88.9 259.79,90.1 259.59,91.4 259.39,92.6 259.18,93.9 258.97,95.1 258.76,96.4 258.54,97.6 258.31,98.8 258.08,100.1 257.62,101.2 257.62,101.3 257.62,102.6 257.62,103.8 257.62,105.1 257.62,106.3 257.62,107.5 257.62,108.8 257.62,110.0 257.62,111.3 257.62,112.5 257.62,113.8 257.62,115.0 257.62,116.3 257.62,117.5 257.62,117.7 257.62,118.7 257.62,120.0 257.62,121.2 257.62,122.5 257.62,123.7 257.62,125.0 257.62,126.2 257.62,127.4 257.62,128.7 257.62,129.9 257.62,131.2 257.62,131.3 259.51,132.4 259.66,133.7 259.80,134.9 259.95,136.2 260.09,137.4 260.23,138.6 260.37,139.9 260.51,141.1 260.65,142.4 260.78,143.6 260.91,144.9 261.04,146.1 261.17,147.3 261.29,148.6 261.42,149.8 261.53,151.1 261.65,152.3 261.76,153.6 261.87,154.8 261.98,156.1 262.08,157.3" fill="none" stroke="#1f77b4" stroke-opacity="0.4" stroke-width="0.4"/>
<line x1="40.6" x2="45.6" y1="62.3" y2="62.3" stroke="#707070" stroke-width="0.85"/>
<line x1="40.6" x2="45.6" y1="135.2" y2="135.2" stroke="#707070" stroke-width="0.85"/>
<rect x="38.1" y="92.5" width="10.0" height="21.20" fill="#bbd5ea" fill-opacity="0.92" stroke="#626d78" stroke-width="0.75"/>
<line x1="38.5" x2="47.7" y1="100.7" y2="100.7" stroke="#eda66a" stroke-width="0.7"/>
<circle cx="43.1" cy="55.3" r="1.2" fill="none" stroke="#4a4a4a" stroke-width="0.8"/>
<circle cx="43.1" cy="56.6" r="1.2" fill="none" stroke="#4a4a4a" stroke-width="0.8"/>
<circle cx="43.1" cy="58" r="1.2" fill="none" stroke="#4a4a4a" stroke-width="0.8"/>
<circle cx="43.1" cy="59.4" r="1.2" fill="none" stroke="#4a4a4a" stroke-width="0.8"/>
<circle cx="43.1" cy="60.5" r="1.2" fill="none" stroke="#4a4a4a" stroke-width="0.8"/>
<circle cx="43.1" cy="144.3" r="1.2" fill="none" stroke="#4a4a4a" stroke-width="0.8"/>
<circle cx="43.1" cy="145.3" r="1.2" fill="none" stroke="#4a4a4a" stroke-width="0.8"/>
<circle cx="43.1" cy="146.4" r="1.2" fill="none" stroke="#4a4a4a" stroke-width="0.8"/>
<circle cx="43.1" cy="147.6" r="1.2" fill="none" stroke="#4a4a4a" stroke-width="0.8"/>
<circle cx="43.1" cy="148.8" r="1.2" fill="none" stroke="#4a4a4a" stroke-width="0.8"/>
<circle cx="43.1" cy="155.2" r="1.2" fill="none" stroke="#4a4a4a" stroke-width="0.8"/>
<circle cx="43.1" cy="161.2" r="1.2" fill="none" stroke="#4a4a4a" stroke-width="0.8"/>
<line x1="60.57" x2="65.57" y1="59.3" y2="59.3" stroke="#707070" stroke-width="0.85"/>
<line x1="60.57" x2="65.57" y1="142.5" y2="142.5" stroke="#707070" stroke-width="0.85"/>
<rect x="58.07" y="88.1" width="10.0" height="25.20" fill="#bbd5ea" fill-opacity="0.92" stroke="#626d78" stroke-width="0.75"/>
<line x1="58.47" x2="67.66999999999999" y1="101.1" y2="101.1" stroke="#eda66a" stroke-width="0.7"/>
<circle cx="63.07" cy="154" r="1.2" fill="none" stroke="#4a4a4a" stroke-width="0.8"/>
<line x1="80.53999999999999" x2="85.53999999999999" y1="43.0" y2="43.0" stroke="#707070" stroke-width="0.85"/>
<line x1="80.53999999999999" x2="85.53999999999999" y1="147.8" y2="147.8" stroke="#707070" stroke-width="0.85"/>
<rect x="78.03999999999999" y="82.3" width="10.0" height="27.00" fill="#bbd5ea" fill-opacity="0.92" stroke="#626d78" stroke-width="0.75"/>
<line x1="78.44" x2="87.63999999999999" y1="94.3" y2="94.3" stroke="#eda66a" stroke-width="0.7"/>
<circle cx="83.03999999999999" cy="25.9" r="1.2" fill="none" stroke="#4a4a4a" stroke-width="0.8"/>
<circle cx="83.03999999999999" cy="40.2" r="1.2" fill="none" stroke="#4a4a4a" stroke-width="0.8"/>
<circle cx="83.03999999999999" cy="151.3" r="1.2" fill="none" stroke="#4a4a4a" stroke-width="0.8"/>
<circle cx="83.03999999999999" cy="166.7" r="1.2" fill="none" stroke="#4a4a4a" stroke-width="0.8"/>
<line x1="100.50999999999999" x2="105.50999999999999" y1="44.0" y2="44.0" stroke="#707070" stroke-width="0.85"/>
<line x1="100.50999999999999" x2="105.50999999999999" y1="159.9" y2="159.9" stroke="#707070" stroke-width="0.85"/>
<rect x="98.00999999999999" y="84.0" width="10.0" height="31.50" fill="#bbd5ea" fill-opacity="0.92" stroke="#626d78" stroke-width="0.75"/>
<line x1="98.41" x2="107.60999999999999" y1="100.1" y2="100.1" stroke="#eda66a" stroke-width="0.7"/>
<circle cx="103.00999999999999" cy="164.3" r="1.2" fill="none" stroke="#4a4a4a" stroke-width="0.8"/>
<circle cx="103.00999999999999" cy="167.4" r="1.2" fill="none" stroke="#4a4a4a" stroke-width="0.8"/>
<circle cx="103.00999999999999" cy="181.4" r="1.2" fill="none" stroke="#4a4a4a" stroke-width="0.8"/>
<line x1="120.47999999999999" x2="125.47999999999999" y1="34.5" y2="34.5" stroke="#707070" stroke-width="0.85"/>
<line x1="120.47999999999999" x2="125.47999999999999" y1="165.4" y2="165.4" stroke="#707070" stroke-width="0.85"/>
<rect x="117.97999999999999" y="78.1" width="10.0" height="36.40" fill="#bbd5ea" fill-opacity="0.92" stroke="#626d78" stroke-width="0.75"/>
<line x1="118.38" x2="127.57999999999998" y1="95.2" y2="95.2" stroke="#eda66a" stroke-width="0.7"/>
<line x1="140.45" x2="145.45" y1="36.5" y2="36.5" stroke="#707070" stroke-width="0.85"/>
<line x1="140.45" x2="145.45" y1="163.2" y2="163.2" stroke="#707070" stroke-width="0.85"/>
<rect x="137.95" y="85.8" width="10.0" height="33.90" fill="#bbd5ea" fill-opacity="0.92" stroke="#626d78" stroke-width="0.75"/>
<line x1="138.35" x2="147.54999999999998" y1="102.9" y2="102.9" stroke="#eda66a" stroke-width="0.7"/>
<circle cx="142.95" cy="14.1" r="1.2" fill="none" stroke="#4a4a4a" stroke-width="0.8"/>
<circle cx="142.95" cy="27" r="1.2" fill="none" stroke="#4a4a4a" stroke-width="0.8"/>
<circle cx="142.95" cy="34.3" r="1.2" fill="none" stroke="#4a4a4a" stroke-width="0.8"/>
<circle cx="142.95" cy="177.5" r="1.2" fill="none" stroke="#4a4a4a" stroke-width="0.8"/>
<line x1="160.42" x2="165.42" y1="60.5" y2="60.5" stroke="#707070" stroke-width="0.85"/>
<line x1="160.42" x2="165.42" y1="172.3" y2="172.3" stroke="#707070" stroke-width="0.85"/>
<rect x="157.92" y="94.6" width="10.0" height="32.50" fill="#bbd5ea" fill-opacity="0.92" stroke="#626d78" stroke-width="0.75"/>
<line x1="158.32" x2="167.51999999999998" y1="110.0" y2="110.0" stroke="#eda66a" stroke-width="0.7"/>
<circle cx="162.92" cy="215.5" r="1.2" fill="none" stroke="#4a4a4a" stroke-width="0.8"/>
<line x1="180.39" x2="185.39" y1="27.5" y2="27.5" stroke="#707070" stroke-width="0.85"/>
<line x1="180.39" x2="185.39" y1="153.3" y2="153.3" stroke="#707070" stroke-width="0.85"/>
<rect x="177.89" y="68.5" width="10.0" height="36.80" fill="#bbd5ea" fill-opacity="0.92" stroke="#626d78" stroke-width="0.75"/>
<line x1="178.29" x2="187.48999999999998" y1="84.7" y2="84.7" stroke="#eda66a" stroke-width="0.7"/>
<circle cx="182.89" cy="160.6" r="1.2" fill="none" stroke="#4a4a4a" stroke-width="0.8"/>
<circle cx="182.89" cy="164.8" r="1.2" fill="none" stroke="#4a4a4a" stroke-width="0.8"/>
<circle cx="182.89" cy="166.5" r="1.2" fill="none" stroke="#4a4a4a" stroke-width="0.8"/>
<circle cx="182.89" cy="168.3" r="1.2" fill="none" stroke="#4a4a4a" stroke-width="0.8"/>
<circle cx="182.89" cy="175.8" r="1.2" fill="none" stroke="#4a4a4a" stroke-width="0.8"/>
<circle cx="182.89" cy="177.4" r="1.2" fill="none" stroke="#4a4a4a" stroke-width="0.8"/>
<line x1="200.35999999999999" x2="205.35999999999999" y1="28.6" y2="28.6" stroke="#707070" stroke-width="0.85"/>
<line x1="200.35999999999999" x2="205.35999999999999" y1="153.0" y2="153.0" stroke="#707070" stroke-width="0.85"/>
<rect x="197.85999999999999" y="68.6" width="10.0" height="37.40" fill="#bbd5ea" fill-opacity="0.92" stroke="#626d78" stroke-width="0.75"/>
<line x1="198.26" x2="207.45999999999998" y1="83.6" y2="83.6" stroke="#eda66a" stroke-width="0.7"/>
<circle cx="202.85999999999999" cy="165.1" r="1.2" fill="none" stroke="#4a4a4a" stroke-width="0.8"/>
<circle cx="202.85999999999999" cy="177.2" r="1.2" fill="none" stroke="#4a4a4a" stroke-width="0.8"/>
<line x1="220.32999999999998" x2="225.32999999999998" y1="30.3" y2="30.3" stroke="#707070" stroke-width="0.85"/>
<line x1="220.32999999999998" x2="225.32999999999998" y1="149.6" y2="149.6" stroke="#707070" stroke-width="0.85"/>
<rect x="217.82999999999998" y="72.1" width="10.0" height="33.40" fill="#bbd5ea" fill-opacity="0.92" stroke="#626d78" stroke-width="0.75"/>
<line x1="218.23" x2="227.42999999999998" y1="87.5" y2="87.5" stroke="#eda66a" stroke-width="0.7"/>
<circle cx="222.82999999999998" cy="23.1" r="1.2" fill="none" stroke="#4a4a4a" stroke-width="0.8"/>
<circle cx="222.82999999999998" cy="162.1" r="1.2" fill="none" stroke="#4a4a4a" stroke-width="0.8"/>
<circle cx="222.82999999999998" cy="163.8" r="1.2" fill="none" stroke="#4a4a4a" stroke-width="0.8"/>
<line x1="240.29999999999998" x2="245.29999999999998" y1="44.4" y2="44.4" stroke="#707070" stroke-width="0.85"/>
<line x1="240.29999999999998" x2="245.29999999999998" y1="153.5" y2="153.5" stroke="#707070" stroke-width="0.85"/>
<rect x="237.79999999999998" y="84.7" width="10.0" height="29.70" fill="#bbd5ea" fill-opacity="0.92" stroke="#626d78" stroke-width="0.75"/>
<line x1="238.2" x2="247.39999999999998" y1="99.4" y2="99.4" stroke="#eda66a" stroke-width="0.7"/>
<circle cx="242.79999999999998" cy="165.6" r="1.2" fill="none" stroke="#4a4a4a" stroke-width="0.8"/>
<circle cx="242.79999999999998" cy="171.6" r="1.2" fill="none" stroke="#4a4a4a" stroke-width="0.8"/>
<line x1="260.27" x2="265.27" y1="61.2" y2="61.2" stroke="#707070" stroke-width="0.85"/>
<line x1="260.27" x2="265.27" y1="166.0" y2="166.0" stroke="#707070" stroke-width="0.85"/>
<rect x="257.77" y="101.2" width="10.0" height="30.10" fill="#bbd5ea" fill-opacity="0.92" stroke="#626d78" stroke-width="0.75"/>
<line x1="258.16999999999996" x2="267.37" y1="117.7" y2="117.7" stroke="#eda66a" stroke-width="0.7"/>
<circle cx="262.77" cy="29.2" r="1.2" fill="none" stroke="#4a4a4a" stroke-width="0.8"/>
<circle cx="262.77" cy="35.2" r="1.2" fill="none" stroke="#4a4a4a" stroke-width="0.8"/>
<circle cx="262.77" cy="55" r="1.2" fill="none" stroke="#4a4a4a" stroke-width="0.8"/>
<line x1="33.3" x2="273.2" y1="3.6" y2="3.6" stroke="#d0d0d0" stroke-width="1.2"/>
<line x1="273.2" x2="273.2" y1="3.6" y2="225.4" stroke="#d8d8d8" stroke-width="1.2"/>
<line x1="33.3" x2="33.3" y1="3.0" y2="225.9" stroke="#999" stroke-width="1"/>
<line x1="32.8" x2="273.8" y1="225.4" y2="225.4" stroke="#959595" stroke-width="1.05"/>
<line x1="31.299999999999997" x2="33.3" y1="18.50" y2="18.50" stroke="#999" stroke-width="0.8"/>
<text x="30.299999999999997" y="21.10" text-anchor="end" class="tk">25</text>
<line x1="31.299999999999997" x2="33.3" y1="34.80" y2="34.80" stroke="#999" stroke-width="0.8"/>
<text x="30.299999999999997" y="37.40" text-anchor="end" class="tk">20</text>
<line x1="31.299999999999997" x2="33.3" y1="51.10" y2="51.10" stroke="#999" stroke-width="0.8"/>
<text x="30.299999999999997" y="53.70" text-anchor="end" class="tk">15</text>
<line x1="31.299999999999997" x2="33.3" y1="67.40" y2="67.40" stroke="#999" stroke-width="0.8"/>
<text x="30.299999999999997" y="70.00" text-anchor="end" class="tk">10</text>
<line x1="31.299999999999997" x2="33.3" y1="83.70" y2="83.70" stroke="#999" stroke-width="0.8"/>
<text x="30.299999999999997" y="86.30" text-anchor="end" class="tk">5</text>
<line x1="31.299999999999997" x2="33.3" y1="100.00" y2="100.00" stroke="#999" stroke-width="0.8"/>
<text x="30.299999999999997" y="102.60" text-anchor="end" class="tk">0</text>
<line x1="31.299999999999997" x2="33.3" y1="116.30" y2="116.30" stroke="#999" stroke-width="0.8"/>
<text x="30.299999999999997" y="118.90" text-anchor="end" class="tk">−5</text>
<line x1="31.299999999999997" x2="33.3" y1="132.60" y2="132.60" stroke="#999" stroke-width="0.8"/>
<text x="30.299999999999997" y="135.20" text-anchor="end" class="tk">−10</text>
<line x1="31.299999999999997" x2="33.3" y1="148.90" y2="148.90" stroke="#999" stroke-width="0.8"/>
<text x="30.299999999999997" y="151.50" text-anchor="end" class="tk">−15</text>
<line x1="31.299999999999997" x2="33.3" y1="165.20" y2="165.20" stroke="#999" stroke-width="0.8"/>
<text x="30.299999999999997" y="167.80" text-anchor="end" class="tk">−20</text>
<line x1="31.299999999999997" x2="33.3" y1="181.50" y2="181.50" stroke="#999" stroke-width="0.8"/>
<text x="30.299999999999997" y="184.10" text-anchor="end" class="tk">−25</text>
<line x1="31.299999999999997" x2="33.3" y1="197.80" y2="197.80" stroke="#999" stroke-width="0.8"/>
<text x="30.299999999999997" y="200.40" text-anchor="end" class="tk">−30</text>
<line x1="31.299999999999997" x2="33.3" y1="214.10" y2="214.10" stroke="#999" stroke-width="0.8"/>
<text x="30.299999999999997" y="216.70" text-anchor="end" class="tk">−35</text>
<line x1="43.1" x2="43.1" y1="225.4" y2="227.4" stroke="#999" stroke-width="0.8"/>
<text transform="translate(45.60,229.4) rotate(-90)" text-anchor="end" class="tk">2012-01</text>
<line x1="63.07" x2="63.07" y1="225.4" y2="227.4" stroke="#999" stroke-width="0.8"/>
<text transform="translate(65.57,229.4) rotate(-90)" text-anchor="end" class="tk">2012-02</text>
<line x1="83.03999999999999" x2="83.03999999999999" y1="225.4" y2="227.4" stroke="#999" stroke-width="0.8"/>
<text transform="translate(85.54,229.4) rotate(-90)" text-anchor="end" class="tk">2012-03</text>
<line x1="103.00999999999999" x2="103.00999999999999" y1="225.4" y2="227.4" stroke="#999" stroke-width="0.8"/>
<text transform="translate(105.51,229.4) rotate(-90)" text-anchor="end" class="tk">2012-04</text>
<line x1="122.97999999999999" x2="122.97999999999999" y1="225.4" y2="227.4" stroke="#999" stroke-width="0.8"/>
<text transform="translate(125.48,229.4) rotate(-90)" text-anchor="end" class="tk">2012-05</text>
<line x1="142.95" x2="142.95" y1="225.4" y2="227.4" stroke="#999" stroke-width="0.8"/>
<text transform="translate(145.45,229.4) rotate(-90)" text-anchor="end" class="tk">2012-06</text>
<line x1="162.92" x2="162.92" y1="225.4" y2="227.4" stroke="#999" stroke-width="0.8"/>
<text transform="translate(165.42,229.4) rotate(-90)" text-anchor="end" class="tk">2012-07</text>
<line x1="182.89" x2="182.89" y1="225.4" y2="227.4" stroke="#999" stroke-width="0.8"/>
<text transform="translate(185.39,229.4) rotate(-90)" text-anchor="end" class="tk">2012-08</text>
<line x1="202.85999999999999" x2="202.85999999999999" y1="225.4" y2="227.4" stroke="#999" stroke-width="0.8"/>
<text transform="translate(205.36,229.4) rotate(-90)" text-anchor="end" class="tk">2012-09</text>
<line x1="222.82999999999998" x2="222.82999999999998" y1="225.4" y2="227.4" stroke="#999" stroke-width="0.8"/>
<text transform="translate(225.33,229.4) rotate(-90)" text-anchor="end" class="tk">2012-10</text>
<line x1="242.79999999999998" x2="242.79999999999998" y1="225.4" y2="227.4" stroke="#999" stroke-width="0.8"/>
<text transform="translate(245.30,229.4) rotate(-90)" text-anchor="end" class="tk">2012-11</text>
<line x1="262.77" x2="262.77" y1="225.4" y2="227.4" stroke="#999" stroke-width="0.8"/>
<text transform="translate(265.27,229.4) rotate(-90)" text-anchor="end" class="tk">2012-12</text>
<text x="153.25" y="268.5" text-anchor="middle" class="lab">Times (Year-Month)</text>
<text transform="translate(11.40,115.50) rotate(-90)" text-anchor="middle" class="lab">Predictive Random Displacement (mm)</text>
<text x="43.20" y="19.0" class="pl">(a)</text>
<line x1="306.1" x2="545.4" y1="7.34" y2="7.34" stroke="#e6e6e6" stroke-width="0.8"/>
<line x1="306.1" x2="545.4" y1="18.54" y2="18.54" stroke="#e6e6e6" stroke-width="0.8"/>
<line x1="306.1" x2="545.4" y1="29.73" y2="29.73" stroke="#e6e6e6" stroke-width="0.8"/>
<line x1="306.1" x2="545.4" y1="40.93" y2="40.93" stroke="#e6e6e6" stroke-width="0.8"/>
<line x1="306.1" x2="545.4" y1="52.12" y2="52.12" stroke="#e6e6e6" stroke-width="0.8"/>
<line x1="306.1" x2="545.4" y1="63.32" y2="63.32" stroke="#e6e6e6" stroke-width="0.8"/>
<line x1="306.1" x2="545.4" y1="74.51" y2="74.51" stroke="#e6e6e6" stroke-width="0.8"/>
<line x1="306.1" x2="545.4" y1="85.71" y2="85.71" stroke="#e6e6e6" stroke-width="0.8"/>
<line x1="306.1" x2="545.4" y1="96.91" y2="96.91" stroke="#e6e6e6" stroke-width="0.8"/>
<line x1="306.1" x2="545.4" y1="108.10" y2="108.10" stroke="#e6e6e6" stroke-width="0.8"/>
<line x1="306.1" x2="545.4" y1="119.29" y2="119.29" stroke="#e6e6e6" stroke-width="0.8"/>
<line x1="306.1" x2="545.4" y1="130.49" y2="130.49" stroke="#e6e6e6" stroke-width="0.8"/>
<line x1="306.1" x2="545.4" y1="141.69" y2="141.69" stroke="#e6e6e6" stroke-width="0.8"/>
<line x1="306.1" x2="545.4" y1="152.88" y2="152.88" stroke="#e6e6e6" stroke-width="0.8"/>
<line x1="306.1" x2="545.4" y1="164.07" y2="164.07" stroke="#e6e6e6" stroke-width="0.8"/>
<line x1="306.1" x2="545.4" y1="175.27" y2="175.27" stroke="#e6e6e6" stroke-width="0.8"/>
<line x1="306.1" x2="545.4" y1="186.46" y2="186.46" stroke="#e6e6e6" stroke-width="0.8"/>
<line x1="306.1" x2="545.4" y1="197.66" y2="197.66" stroke="#e6e6e6" stroke-width="0.8"/>
<line x1="306.1" x2="545.4" y1="208.85" y2="208.85" stroke="#e6e6e6" stroke-width="0.8"/>
<line x1="306.1" x2="545.4" y1="220.05" y2="220.05" stroke="#e6e6e6" stroke-width="0.8"/>
<line x1="315.90" x2="315.90" y1="62.7" y2="92.4" stroke="#66737f" stroke-width="1.0"/>
<line x1="315.90" x2="315.90" y1="118.4" y2="155.5" stroke="#66737f" stroke-width="1.0"/>
<line x1="335.90" x2="335.90" y1="42.4" y2="77.4" stroke="#66737f" stroke-width="1.0"/>
<line x1="335.90" x2="335.90" y1="106.0" y2="144.7" stroke="#66737f" stroke-width="1.0"/>
<line x1="355.90" x2="355.90" y1="49.5" y2="79.2" stroke="#66737f" stroke-width="1.0"/>
<line x1="355.90" x2="355.90" y1="107.7" y2="145.2" stroke="#66737f" stroke-width="1.0"/>
<line x1="375.90" x2="375.90" y1="72.1" y2="108.2" stroke="#66737f" stroke-width="1.0"/>
<line x1="375.90" x2="375.90" y1="135.9" y2="165.4" stroke="#66737f" stroke-width="1.0"/>
<line x1="395.90" x2="395.90" y1="63.3" y2="97.2" stroke="#66737f" stroke-width="1.0"/>
<line x1="395.90" x2="395.90" y1="122.1" y2="158.4" stroke="#66737f" stroke-width="1.0"/>
<line x1="415.90" x2="415.90" y1="43.5" y2="85.1" stroke="#66737f" stroke-width="1.0"/>
<line x1="415.90" x2="415.90" y1="119.2" y2="163.8" stroke="#66737f" stroke-width="1.0"/>
<line x1="435.90" x2="435.90" y1="82.0" y2="114.0" stroke="#66737f" stroke-width="1.0"/>
<line x1="435.90" x2="435.90" y1="142.3" y2="176.0" stroke="#66737f" stroke-width="1.0"/>
<line x1="455.90" x2="455.90" y1="43.3" y2="85.3" stroke="#66737f" stroke-width="1.0"/>
<line x1="455.90" x2="455.90" y1="119.9" y2="155.7" stroke="#66737f" stroke-width="1.0"/>
<line x1="475.90" x2="475.90" y1="14.3" y2="67.5" stroke="#66737f" stroke-width="1.0"/>
<line x1="475.90" x2="475.90" y1="105.1" y2="145.8" stroke="#66737f" stroke-width="1.0"/>
<line x1="495.90" x2="495.90" y1="44.6" y2="85.8" stroke="#66737f" stroke-width="1.0"/>
<line x1="495.90" x2="495.90" y1="115.2" y2="159.5" stroke="#66737f" stroke-width="1.0"/>
<line x1="515.90" x2="515.90" y1="71.5" y2="109.3" stroke="#66737f" stroke-width="1.0"/>
<line x1="515.90" x2="515.90" y1="139.0" y2="184.3" stroke="#66737f" stroke-width="1.0"/>
<line x1="535.90" x2="535.90" y1="57.9" y2="95.7" stroke="#66737f" stroke-width="1.0"/>
<line x1="535.90" x2="535.90" y1="125.8" y2="163.2" stroke="#66737f" stroke-width="1.0"/>
<path d="M316.05,37.8 316.05,39.1 316.05,40.4 316.05,41.7 316.05,43.0 316.05,44.2 316.05,45.5 316.05,46.8 316.05,48.1 316.05,49.4 316.05,50.7 316.05,52.0 316.05,53.3 316.05,54.5 316.05,55.8 316.05,57.1 316.05,58.4 316.05,59.7 316.05,61.0 316.05,62.3 316.05,63.6 316.06,64.9 316.17,66.1 316.29,67.4 316.43,68.7 316.58,70.0 316.74,71.3 316.91,72.6 317.09,73.9 317.28,75.2 317.48,76.4 317.68,77.7 317.90,79.0 318.11,80.3 318.34,81.6 318.57,82.9 318.81,84.2 319.05,85.5 319.30,86.8 319.55,88.0 319.81,89.3 320.08,90.6 320.35,91.9 320.95,92.4 320.95,93.2 320.95,94.5 320.95,95.8 320.95,97.1 320.95,98.3 320.95,99.6 320.95,100.9 320.95,102.2 320.95,103.5 320.95,104.8 320.95,106.1 320.95,107.4 320.95,108.2 320.95,108.6 320.95,109.9 320.95,111.2 320.95,112.5 320.95,113.8 320.95,115.1 320.95,116.4 320.95,117.7 320.95,118.4 320.12,119.0 319.94,120.2 319.76,121.5 319.58,122.8 319.40,124.1 319.22,125.4 319.05,126.7 318.88,128.0 318.71,129.3 318.54,130.5 318.37,131.8 318.21,133.1 318.05,134.4 317.89,135.7 317.73,137.0 317.58,138.3 317.43,139.6 317.28,140.9 317.14,142.1 316.99,143.4 316.86,144.7 316.72,146.0 316.59,147.3 316.47,148.6 316.35,149.9 316.24,151.2 316.14,152.4 316.05,153.7 316.05,155.0 316.05,156.3 316.05,157.6 316.05,158.9 316.05,160.2 316.05,161.5 316.05,162.8 316.05,164.0 316.05,165.3 316.05,166.6 316.05,167.9 316.05,169.2 316.05,170.5 316.05,171.8 316.05,173.1 316.05,174.3 316.05,175.6 316.05,176.9 316.05,178.2 316.05,179.5 L315.85,179.5 315.85,178.2 315.85,176.9 315.85,175.6 315.85,174.3 315.85,173.1 315.85,171.8 315.85,170.5 315.85,169.2 315.85,167.9 315.85,166.6 315.85,165.3 315.85,164.0 315.85,162.8 315.85,161.5 315.85,160.2 315.85,158.9 315.85,157.6 315.85,156.3 315.85,155.0 315.85,153.7 315.76,152.4 315.66,151.2 315.55,149.9 315.43,148.6 315.31,147.3 315.18,146.0 315.04,144.7 314.91,143.4 314.76,142.1 314.62,140.9 314.47,139.6 314.32,138.3 314.17,137.0 314.01,135.7 313.85,134.4 313.69,133.1 313.53,131.8 313.36,130.5 313.19,129.3 313.02,128.0 312.85,126.7 312.68,125.4 312.50,124.1 312.32,122.8 312.14,121.5 311.96,120.2 311.78,119.0 310.95,118.4 310.95,117.7 310.95,116.4 310.95,115.1 310.95,113.8 310.95,112.5 310.95,111.2 310.95,109.9 310.95,108.6 310.95,108.2 310.95,107.4 310.95,106.1 310.95,104.8 310.95,103.5 310.95,102.2 310.95,100.9 310.95,99.6 310.95,98.3 310.95,97.1 310.95,95.8 310.95,94.5 310.95,93.2 310.95,92.4 311.55,91.9 311.82,90.6 312.09,89.3 312.35,88.0 312.60,86.8 312.85,85.5 313.09,84.2 313.33,82.9 313.56,81.6 313.79,80.3 314.00,79.0 314.22,77.7 314.42,76.4 314.62,75.2 314.81,73.9 314.99,72.6 315.16,71.3 315.32,70.0 315.47,68.7 315.61,67.4 315.73,66.1 315.84,64.9 315.85,63.6 315.85,62.3 315.85,61.0 315.85,59.7 315.85,58.4 315.85,57.1 315.85,55.8 315.85,54.5 315.85,53.3 315.85,52.0 315.85,50.7 315.85,49.4 315.85,48.1 315.85,46.8 315.85,45.5 315.85,44.2 315.85,43.0 315.85,41.7 315.85,40.4 315.85,39.1 315.85,37.8 Z" fill="#1f77b4" fill-opacity="0.3"/>
<path d="M316.43,68.7 316.58,70.0 316.74,71.3 316.91,72.6 317.09,73.9 317.28,75.2 317.48,76.4 317.68,77.7 317.90,79.0 318.11,80.3 318.34,81.6 318.57,82.9 318.81,84.2 319.05,85.5 319.30,86.8 319.55,88.0 319.81,89.3 320.08,90.6 320.35,91.9 320.95,92.4 320.95,93.2 320.95,94.5 320.95,95.8 320.95,97.1 320.95,98.3 320.95,99.6 320.95,100.9 320.95,102.2 320.95,103.5 320.95,104.8 320.95,106.1 320.95,107.4 320.95,108.2 320.95,108.6 320.95,109.9 320.95,111.2 320.95,112.5 320.95,113.8 320.95,115.1 320.95,116.4 320.95,117.7 320.95,118.4 320.12,119.0 319.94,120.2 319.76,121.5 319.58,122.8 319.40,124.1 319.22,125.4 319.05,126.7 318.88,128.0 318.71,129.3 318.54,130.5 318.37,131.8 318.21,133.1 318.05,134.4 317.89,135.7 317.73,137.0 317.58,138.3 317.43,139.6 317.28,140.9 317.14,142.1 316.99,143.4 316.86,144.7 316.72,146.0 316.59,147.3 316.47,148.6 M315.47,68.7 315.32,70.0 315.16,71.3 314.99,72.6 314.81,73.9 314.62,75.2 314.42,76.4 314.22,77.7 314.00,79.0 313.79,80.3 313.56,81.6 313.33,82.9 313.09,84.2 312.85,85.5 312.60,86.8 312.35,88.0 312.09,89.3 311.82,90.6 311.55,91.9 310.95,92.4 310.95,93.2 310.95,94.5 310.95,95.8 310.95,97.1 310.95,98.3 310.95,99.6 310.95,100.9 310.95,102.2 310.95,103.5 310.95,104.8 310.95,106.1 310.95,107.4 310.95,108.2 310.95,108.6 310.95,109.9 310.95,111.2 310.95,112.5 310.95,113.8 310.95,115.1 310.95,116.4 310.95,117.7 310.95,118.4 311.78,119.0 311.96,120.2 312.14,121.5 312.32,122.8 312.50,124.1 312.68,125.4 312.85,126.7 313.02,128.0 313.19,129.3 313.36,130.5 313.53,131.8 313.69,133.1 313.85,134.4 314.01,135.7 314.17,137.0 314.32,138.3 314.47,139.6 314.62,140.9 314.76,142.1 314.91,143.4 315.04,144.7 315.18,146.0 315.31,147.3 315.43,148.6" fill="none" stroke="#1f77b4" stroke-opacity="0.4" stroke-width="0.4"/>
<path d="M336.05,42.4 336.05,43.3 336.05,44.3 336.09,45.2 336.15,46.1 336.21,47.0 336.27,48.0 336.34,48.9 336.40,49.8 336.47,50.8 336.54,51.7 336.61,52.6 336.69,53.6 336.76,54.5 336.84,55.4 336.91,56.3 336.99,57.3 337.07,58.2 337.15,59.1 337.23,60.1 337.31,61.0 337.39,61.9 337.47,62.9 337.56,63.8 337.64,64.7 337.73,65.6 337.81,66.6 337.90,67.5 337.98,68.4 338.07,69.4 338.16,70.3 338.25,71.2 338.34,72.2 338.43,73.1 338.52,74.0 338.61,74.9 338.70,75.9 338.79,76.8 340.95,77.4 340.95,77.7 340.95,78.7 340.95,79.6 340.95,80.5 340.95,81.5 340.95,82.4 340.95,83.3 340.95,84.2 340.95,85.2 340.95,86.1 340.95,87.0 340.95,88.0 340.95,88.9 340.95,89.8 340.95,90.8 340.95,91.7 340.95,92.4 340.95,92.6 340.95,93.5 340.95,94.5 340.95,95.4 340.95,96.3 340.95,97.3 340.95,98.2 340.95,99.1 340.95,100.1 340.95,101.0 340.95,101.9 340.95,102.8 340.95,103.8 340.95,104.7 340.95,105.6 340.95,106.0 340.12,106.6 340.00,107.5 339.88,108.4 339.76,109.4 339.64,110.3 339.52,111.2 339.40,112.1 339.28,113.1 339.17,114.0 339.05,114.9 338.94,115.9 338.82,116.8 338.71,117.7 338.59,118.7 338.48,119.6 338.37,120.5 338.26,121.4 338.15,122.4 338.04,123.3 337.93,124.2 337.82,125.2 337.71,126.1 337.61,127.0 337.50,128.0 337.40,128.9 337.30,129.8 337.20,130.7 337.10,131.7 337.00,132.6 336.91,133.5 336.81,134.5 336.72,135.4 336.63,136.3 336.54,137.3 336.45,138.2 336.37,139.1 336.28,140.0 336.21,141.0 336.13,141.9 336.06,142.8 336.05,143.8 336.05,144.7 L335.85,144.7 335.85,143.8 335.84,142.8 335.77,141.9 335.69,141.0 335.62,140.0 335.53,139.1 335.45,138.2 335.36,137.3 335.27,136.3 335.18,135.4 335.09,134.5 334.99,133.5 334.90,132.6 334.80,131.7 334.70,130.7 334.60,129.8 334.50,128.9 334.40,128.0 334.29,127.0 334.19,126.1 334.08,125.2 333.97,124.2 333.86,123.3 333.75,122.4 333.64,121.4 333.53,120.5 333.42,119.6 333.31,118.7 333.19,117.7 333.08,116.8 332.96,115.9 332.85,114.9 332.73,114.0 332.62,113.1 332.50,112.1 332.38,111.2 332.26,110.3 332.14,109.4 332.02,108.4 331.90,107.5 331.78,106.6 330.95,106.0 330.95,105.6 330.95,104.7 330.95,103.8 330.95,102.8 330.95,101.9 330.95,101.0 330.95,100.1 330.95,99.1 330.95,98.2 330.95,97.3 330.95,96.3 330.95,95.4 330.95,94.5 330.95,93.5 330.95,92.6 330.95,92.4 330.95,91.7 330.95,90.8 330.95,89.8 330.95,88.9 330.95,88.0 330.95,87.0 330.95,86.1 330.95,85.2 330.95,84.2 330.95,83.3 330.95,82.4 330.95,81.5 330.95,80.5 330.95,79.6 330.95,78.7 330.95,77.7 330.95,77.4 333.11,76.8 333.20,75.9 333.29,74.9 333.38,74.0 333.47,73.1 333.56,72.2 333.65,71.2 333.74,70.3 333.83,69.4 333.92,68.4 334.00,67.5 334.09,66.6 334.17,65.6 334.26,64.7 334.34,63.8 334.43,62.9 334.51,61.9 334.59,61.0 334.67,60.1 334.75,59.1 334.83,58.2 334.91,57.3 334.99,56.3 335.06,55.4 335.14,54.5 335.21,53.6 335.29,52.6 335.36,51.7 335.43,50.8 335.50,49.8 335.56,48.9 335.63,48.0 335.69,47.0 335.75,46.1 335.81,45.2 335.85,44.3 335.85,43.3 335.85,42.4 Z" fill="#1f77b4" fill-opacity="0.3"/>
<path d="M336.40,49.8 336.47,50.8 336.54,51.7 336.61,52.6 336.69,53.6 336.76,54.5 336.84,55.4 336.91,56.3 336.99,57.3 337.07,58.2 337.15,59.1 337.23,60.1 337.31,61.0 337.39,61.9 337.47,62.9 337.56,63.8 337.64,64.7 337.73,65.6 337.81,66.6 337.90,67.5 337.98,68.4 338.07,69.4 338.16,70.3 338.25,71.2 338.34,72.2 338.43,73.1 338.52,74.0 338.61,74.9 338.70,75.9 338.79,76.8 340.95,77.4 340.95,77.7 340.95,78.7 340.95,79.6 340.95,80.5 340.95,81.5 340.95,82.4 340.95,83.3 340.95,84.2 340.95,85.2 340.95,86.1 340.95,87.0 340.95,88.0 340.95,88.9 340.95,89.8 340.95,90.8 340.95,91.7 340.95,92.4 340.95,92.6 340.95,93.5 340.95,94.5 340.95,95.4 340.95,96.3 340.95,97.3 340.95,98.2 340.95,99.1 340.95,100.1 340.95,101.0 340.95,101.9 340.95,102.8 340.95,103.8 340.95,104.7 340.95,105.6 340.95,106.0 340.12,106.6 340.00,107.5 339.88,108.4 339.76,109.4 339.64,110.3 339.52,111.2 339.40,112.1 339.28,113.1 339.17,114.0 339.05,114.9 338.94,115.9 338.82,116.8 338.71,117.7 338.59,118.7 338.48,119.6 338.37,120.5 338.26,121.4 338.15,122.4 338.04,123.3 337.93,124.2 337.82,125.2 337.71,126.1 337.61,127.0 337.50,128.0 337.40,128.9 337.30,129.8 337.20,130.7 337.10,131.7 337.00,132.6 336.91,133.5 336.81,134.5 336.72,135.4 336.63,136.3 336.54,137.3 336.45,138.2 M335.50,49.8 335.43,50.8 335.36,51.7 335.29,52.6 335.21,53.6 335.14,54.5 335.06,55.4 334.99,56.3 334.91,57.3 334.83,58.2 334.75,59.1 334.67,60.1 334.59,61.0 334.51,61.9 334.43,62.9 334.34,63.8 334.26,64.7 334.17,65.6 334.09,66.6 334.00,67.5 333.92,68.4 333.83,69.4 333.74,70.3 333.65,71.2 333.56,72.2 333.47,73.1 333.38,74.0 333.29,74.9 333.20,75.9 333.11,76.8 330.95,77.4 330.95,77.7 330.95,78.7 330.95,79.6 330.95,80.5 330.95,81.5 330.95,82.4 330.95,83.3 330.95,84.2 330.95,85.2 330.95,86.1 330.95,87.0 330.95,88.0 330.95,88.9 330.95,89.8 330.95,90.8 330.95,91.7 330.95,92.4 330.95,92.6 330.95,93.5 330.95,94.5 330.95,95.4 330.95,96.3 330.95,97.3 330.95,98.2 330.95,99.1 330.95,100.1 330.95,101.0 330.95,101.9 330.95,102.8 330.95,103.8 330.95,104.7 330.95,105.6 330.95,106.0 331.78,106.6 331.90,107.5 332.02,108.4 332.14,109.4 332.26,110.3 332.38,111.2 332.50,112.1 332.62,113.1 332.73,114.0 332.85,114.9 332.96,115.9 333.08,116.8 333.19,117.7 333.31,118.7 333.42,119.6 333.53,120.5 333.64,121.4 333.75,122.4 333.86,123.3 333.97,124.2 334.08,125.2 334.19,126.1 334.29,127.0 334.40,128.0 334.50,128.9 334.60,129.8 334.70,130.7 334.80,131.7 334.90,132.6 334.99,133.5 335.09,134.5 335.18,135.4 335.27,136.3 335.36,137.3 335.45,138.2" fill="none" stroke="#1f77b4" stroke-opacity="0.4" stroke-width="0.4"/>
<path d="M356.05,49.5 356.05,50.4 356.06,51.3 356.13,52.3 356.20,53.2 356.28,54.1 356.36,55.0 356.45,56.0 356.53,56.9 356.62,57.8 356.71,58.7 356.81,59.7 356.90,60.6 357.00,61.5 357.09,62.4 357.19,63.4 357.29,64.3 357.39,65.2 357.50,66.1 357.60,67.0 357.70,68.0 357.81,68.9 357.92,69.8 358.02,70.7 358.13,71.7 358.24,72.6 358.35,73.5 358.46,74.4 358.58,75.4 358.69,76.3 358.80,77.2 358.92,78.1 359.03,79.1 360.95,79.2 360.95,80.0 360.95,80.9 360.95,81.8 360.95,82.8 360.95,83.7 360.95,84.6 360.95,85.5 360.95,86.4 360.95,87.4 360.95,88.3 360.95,89.2 360.95,90.1 360.95,91.1 360.95,92.0 360.95,92.9 360.95,93.8 360.95,94.8 360.95,95.7 360.95,95.7 360.95,96.6 360.95,97.5 360.95,98.5 360.95,99.4 360.95,100.3 360.95,101.2 360.95,102.1 360.95,103.1 360.95,104.0 360.95,104.9 360.95,105.8 360.95,106.8 360.95,107.7 360.95,107.7 358.86,108.6 358.77,109.5 358.69,110.5 358.60,111.4 358.51,112.3 358.43,113.2 358.34,114.2 358.26,115.1 358.17,116.0 358.09,116.9 358.00,117.8 357.92,118.8 357.84,119.7 357.76,120.6 357.68,121.5 357.60,122.5 357.52,123.4 357.44,124.3 357.36,125.2 357.28,126.2 357.20,127.1 357.13,128.0 357.05,128.9 356.98,129.9 356.90,130.8 356.83,131.7 356.76,132.6 356.69,133.6 356.62,134.5 356.55,135.4 356.48,136.3 356.42,137.2 356.35,138.2 356.29,139.1 356.23,140.0 356.17,140.9 356.11,141.9 356.06,142.8 356.05,143.7 356.05,144.6 356.05,145.6 356.05,146.5 356.05,147.4 356.05,148.3 356.05,149.3 356.05,150.2 356.05,151.1 L355.85,151.1 355.85,150.2 355.85,149.3 355.85,148.3 355.85,147.4 355.85,146.5 355.85,145.6 355.85,144.6 355.85,143.7 355.84,142.8 355.79,141.9 355.73,140.9 355.67,140.0 355.61,139.1 355.55,138.2 355.48,137.2 355.42,136.3 355.35,135.4 355.28,134.5 355.21,133.6 355.14,132.6 355.07,131.7 355.00,130.8 354.92,129.9 354.85,128.9 354.77,128.0 354.70,127.1 354.62,126.2 354.54,125.2 354.46,124.3 354.38,123.4 354.30,122.5 354.22,121.5 354.14,120.6 354.06,119.7 353.98,118.8 353.90,117.8 353.81,116.9 353.73,116.0 353.64,115.1 353.56,114.2 353.47,113.2 353.39,112.3 353.30,111.4 353.21,110.5 353.13,109.5 353.04,108.6 350.95,107.7 350.95,107.7 350.95,106.8 350.95,105.8 350.95,104.9 350.95,104.0 350.95,103.1 350.95,102.1 350.95,101.2 350.95,100.3 350.95,99.4 350.95,98.5 350.95,97.5 350.95,96.6 350.95,95.7 350.95,95.7 350.95,94.8 350.95,93.8 350.95,92.9 350.95,92.0 350.95,91.1 350.95,90.1 350.95,89.2 350.95,88.3 350.95,87.4 350.95,86.4 350.95,85.5 350.95,84.6 350.95,83.7 350.95,82.8 350.95,81.8 350.95,80.9 350.95,80.0 350.95,79.2 352.87,79.1 352.98,78.1 353.10,77.2 353.21,76.3 353.32,75.4 353.44,74.4 353.55,73.5 353.66,72.6 353.77,71.7 353.88,70.7 353.98,69.8 354.09,68.9 354.20,68.0 354.30,67.0 354.40,66.1 354.51,65.2 354.61,64.3 354.71,63.4 354.81,62.4 354.90,61.5 355.00,60.6 355.09,59.7 355.19,58.7 355.28,57.8 355.37,56.9 355.45,56.0 355.54,55.0 355.62,54.1 355.70,53.2 355.77,52.3 355.84,51.3 355.85,50.4 355.85,49.5 Z" fill="#1f77b4" fill-opacity="0.3"/>
<path d="M356.45,56.0 356.53,56.9 356.62,57.8 356.71,58.7 356.81,59.7 356.90,60.6 357.00,61.5 357.09,62.4 357.19,63.4 357.29,64.3 357.39,65.2 357.50,66.1 357.60,67.0 357.70,68.0 357.81,68.9 357.92,69.8 358.02,70.7 358.13,71.7 358.24,72.6 358.35,73.5 358.46,74.4 358.58,75.4 358.69,76.3 358.80,77.2 358.92,78.1 359.03,79.1 360.95,79.2 360.95,80.0 360.95,80.9 360.95,81.8 360.95,82.8 360.95,83.7 360.95,84.6 360.95,85.5 360.95,86.4 360.95,87.4 360.95,88.3 360.95,89.2 360.95,90.1 360.95,91.1 360.95,92.0 360.95,92.9 360.95,93.8 360.95,94.8 360.95,95.7 360.95,95.7 360.95,96.6 360.95,97.5 360.95,98.5 360.95,99.4 360.95,100.3 360.95,101.2 360.95,102.1 360.95,103.1 360.95,104.0 360.95,104.9 360.95,105.8 360.95,106.8 360.95,107.7 360.95,107.7 358.86,108.6 358.77,109.5 358.69,110.5 358.60,111.4 358.51,112.3 358.43,113.2 358.34,114.2 358.26,115.1 358.17,116.0 358.09,116.9 358.00,117.8 357.92,118.8 357.84,119.7 357.76,120.6 357.68,121.5 357.60,122.5 357.52,123.4 357.44,124.3 357.36,125.2 357.28,126.2 357.20,127.1 357.13,128.0 357.05,128.9 356.98,129.9 356.90,130.8 356.83,131.7 356.76,132.6 356.69,133.6 356.62,134.5 356.55,135.4 356.48,136.3 356.42,137.2 M355.45,56.0 355.37,56.9 355.28,57.8 355.19,58.7 355.09,59.7 355.00,60.6 354.90,61.5 354.81,62.4 354.71,63.4 354.61,64.3 354.51,65.2 354.40,66.1 354.30,67.0 354.20,68.0 354.09,68.9 353.98,69.8 353.88,70.7 353.77,71.7 353.66,72.6 353.55,73.5 353.44,74.4 353.32,75.4 353.21,76.3 353.10,77.2 352.98,78.1 352.87,79.1 350.95,79.2 350.95,80.0 350.95,80.9 350.95,81.8 350.95,82.8 350.95,83.7 350.95,84.6 350.95,85.5 350.95,86.4 350.95,87.4 350.95,88.3 350.95,89.2 350.95,90.1 350.95,91.1 350.95,92.0 350.95,92.9 350.95,93.8 350.95,94.8 350.95,95.7 350.95,95.7 350.95,96.6 350.95,97.5 350.95,98.5 350.95,99.4 350.95,100.3 350.95,101.2 350.95,102.1 350.95,103.1 350.95,104.0 350.95,104.9 350.95,105.8 350.95,106.8 350.95,107.7 350.95,107.7 353.04,108.6 353.13,109.5 353.21,110.5 353.30,111.4 353.39,112.3 353.47,113.2 353.56,114.2 353.64,115.1 353.73,116.0 353.81,116.9 353.90,117.8 353.98,118.8 354.06,119.7 354.14,120.6 354.22,121.5 354.30,122.5 354.38,123.4 354.46,124.3 354.54,125.2 354.62,126.2 354.70,127.1 354.77,128.0 354.85,128.9 354.92,129.9 355.00,130.8 355.07,131.7 355.14,132.6 355.21,133.6 355.28,134.5 355.35,135.4 355.42,136.3 355.48,137.2" fill="none" stroke="#1f77b4" stroke-opacity="0.4" stroke-width="0.4"/>
<path d="M376.05,72.1 376.05,73.1 376.05,74.1 376.05,75.1 376.05,76.1 376.09,77.1 376.14,78.1 376.19,79.1 376.26,80.0 376.32,81.0 376.40,82.0 376.47,83.0 376.56,84.0 376.65,85.0 376.74,86.0 376.84,87.0 376.94,88.0 377.05,89.0 377.16,90.0 377.28,91.0 377.40,92.0 377.53,93.0 377.65,94.0 377.79,95.0 377.93,95.9 378.07,96.9 378.21,97.9 378.36,98.9 378.52,99.9 378.68,100.9 378.84,101.9 379.00,102.9 379.17,103.9 379.35,104.9 379.52,105.9 379.70,106.9 379.89,107.9 380.95,108.2 380.95,108.9 380.95,109.9 380.95,110.9 380.95,111.8 380.95,112.8 380.95,113.8 380.95,114.8 380.95,115.8 380.95,116.8 380.95,117.8 380.95,118.8 380.95,119.8 380.95,120.8 380.95,121.8 380.95,122.1 380.95,122.8 380.95,123.8 380.95,124.8 380.95,125.8 380.95,126.8 380.95,127.7 380.95,128.7 380.95,129.7 380.95,130.7 380.95,131.7 380.95,132.7 380.95,133.7 380.95,134.7 380.95,135.7 380.95,135.9 379.82,136.7 379.65,137.7 379.49,138.7 379.32,139.7 379.16,140.7 379.00,141.7 378.84,142.6 378.68,143.6 378.53,144.6 378.38,145.6 378.22,146.6 378.07,147.6 377.93,148.6 377.78,149.6 377.64,150.6 377.50,151.6 377.36,152.6 377.23,153.6 377.09,154.6 376.96,155.6 376.84,156.6 376.71,157.6 376.60,158.5 376.48,159.5 376.37,160.5 376.27,161.5 376.17,162.5 376.08,163.5 376.05,164.5 376.05,165.5 376.05,166.5 376.05,167.5 376.05,168.5 376.05,169.5 376.05,170.5 376.05,171.5 376.05,172.5 376.05,173.5 376.05,174.4 376.05,175.4 376.05,176.4 376.05,177.4 376.05,178.4 376.05,179.4 376.05,180.4 376.05,181.4 L375.85,181.4 375.85,180.4 375.85,179.4 375.85,178.4 375.85,177.4 375.85,176.4 375.85,175.4 375.85,174.4 375.85,173.5 375.85,172.5 375.85,171.5 375.85,170.5 375.85,169.5 375.85,168.5 375.85,167.5 375.85,166.5 375.85,165.5 375.85,164.5 375.82,163.5 375.73,162.5 375.63,161.5 375.53,160.5 375.42,159.5 375.30,158.5 375.19,157.6 375.06,156.6 374.94,155.6 374.81,154.6 374.67,153.6 374.54,152.6 374.40,151.6 374.26,150.6 374.12,149.6 373.97,148.6 373.83,147.6 373.68,146.6 373.52,145.6 373.37,144.6 373.22,143.6 373.06,142.6 372.90,141.7 372.74,140.7 372.58,139.7 372.41,138.7 372.25,137.7 372.08,136.7 370.95,135.9 370.95,135.7 370.95,134.7 370.95,133.7 370.95,132.7 370.95,131.7 370.95,130.7 370.95,129.7 370.95,128.7 370.95,127.7 370.95,126.8 370.95,125.8 370.95,124.8 370.95,123.8 370.95,122.8 370.95,122.1 370.95,121.8 370.95,120.8 370.95,119.8 370.95,118.8 370.95,117.8 370.95,116.8 370.95,115.8 370.95,114.8 370.95,113.8 370.95,112.8 370.95,111.8 370.95,110.9 370.95,109.9 370.95,108.9 370.95,108.2 372.01,107.9 372.20,106.9 372.38,105.9 372.55,104.9 372.73,103.9 372.90,102.9 373.06,101.9 373.22,100.9 373.38,99.9 373.54,98.9 373.69,97.9 373.83,96.9 373.97,95.9 374.11,95.0 374.25,94.0 374.37,93.0 374.50,92.0 374.62,91.0 374.74,90.0 374.85,89.0 374.96,88.0 375.06,87.0 375.16,86.0 375.25,85.0 375.34,84.0 375.43,83.0 375.50,82.0 375.58,81.0 375.64,80.0 375.71,79.1 375.76,78.1 375.81,77.1 375.85,76.1 375.85,75.1 375.85,74.1 375.85,73.1 375.85,72.1 Z" fill="#1f77b4" fill-opacity="0.3"/>
<path d="M376.47,83.0 376.56,84.0 376.65,85.0 376.74,86.0 376.84,87.0 376.94,88.0 377.05,89.0 377.16,90.0 377.28,91.0 377.40,92.0 377.53,93.0 377.65,94.0 377.79,95.0 377.93,95.9 378.07,96.9 378.21,97.9 378.36,98.9 378.52,99.9 378.68,100.9 378.84,101.9 379.00,102.9 379.17,103.9 379.35,104.9 379.52,105.9 379.70,106.9 379.89,107.9 380.95,108.2 380.95,108.9 380.95,109.9 380.95,110.9 380.95,111.8 380.95,112.8 380.95,113.8 380.95,114.8 380.95,115.8 380.95,116.8 380.95,117.8 380.95,118.8 380.95,119.8 380.95,120.8 380.95,121.8 380.95,122.1 380.95,122.8 380.95,123.8 380.95,124.8 380.95,125.8 380.95,126.8 380.95,127.7 380.95,128.7 380.95,129.7 380.95,130.7 380.95,131.7 380.95,132.7 380.95,133.7 380.95,134.7 380.95,135.7 380.95,135.9 379.82,136.7 379.65,137.7 379.49,138.7 379.32,139.7 379.16,140.7 379.00,141.7 378.84,142.6 378.68,143.6 378.53,144.6 378.38,145.6 378.22,146.6 378.07,147.6 377.93,148.6 377.78,149.6 377.64,150.6 377.50,151.6 377.36,152.6 377.23,153.6 377.09,154.6 376.96,155.6 376.84,156.6 376.71,157.6 376.60,158.5 376.48,159.5 M375.43,83.0 375.34,84.0 375.25,85.0 375.16,86.0 375.06,87.0 374.96,88.0 374.85,89.0 374.74,90.0 374.62,91.0 374.50,92.0 374.37,93.0 374.25,94.0 374.11,95.0 373.97,95.9 373.83,96.9 373.69,97.9 373.54,98.9 373.38,99.9 373.22,100.9 373.06,101.9 372.90,102.9 372.73,103.9 372.55,104.9 372.38,105.9 372.20,106.9 372.01,107.9 370.95,108.2 370.95,108.9 370.95,109.9 370.95,110.9 370.95,111.8 370.95,112.8 370.95,113.8 370.95,114.8 370.95,115.8 370.95,116.8 370.95,117.8 370.95,118.8 370.95,119.8 370.95,120.8 370.95,121.8 370.95,122.1 370.95,122.8 370.95,123.8 370.95,124.8 370.95,125.8 370.95,126.8 370.95,127.7 370.95,128.7 370.95,129.7 370.95,130.7 370.95,131.7 370.95,132.7 370.95,133.7 370.95,134.7 370.95,135.7 370.95,135.9 372.08,136.7 372.25,137.7 372.41,138.7 372.58,139.7 372.74,140.7 372.90,141.7 373.06,142.6 373.22,143.6 373.37,144.6 373.52,145.6 373.68,146.6 373.83,147.6 373.97,148.6 374.12,149.6 374.26,150.6 374.40,151.6 374.54,152.6 374.67,153.6 374.81,154.6 374.94,155.6 375.06,156.6 375.19,157.6 375.30,158.5 375.42,159.5" fill="none" stroke="#1f77b4" stroke-opacity="0.4" stroke-width="0.4"/>
<path d="M396.05,47.8 396.05,48.8 396.05,49.9 396.05,50.9 396.05,51.9 396.05,53.0 396.05,54.0 396.05,55.0 396.05,56.1 396.05,57.1 396.05,58.1 396.05,59.2 396.05,60.2 396.05,61.2 396.05,62.3 396.05,63.3 396.05,64.4 396.05,65.4 396.05,66.4 396.07,67.5 396.12,68.5 396.19,69.5 396.26,70.6 396.34,71.6 396.42,72.6 396.52,73.7 396.62,74.7 396.72,75.7 396.83,76.8 396.95,77.8 397.08,78.8 397.21,79.9 397.35,80.9 397.49,81.9 397.64,83.0 397.79,84.0 397.95,85.0 398.11,86.1 398.28,87.1 398.46,88.1 398.64,89.2 398.82,90.2 399.01,91.3 399.21,92.3 399.41,93.3 399.61,94.4 399.82,95.4 400.04,96.4 400.95,97.2 400.95,97.5 400.95,98.5 400.95,99.5 400.95,100.6 400.95,101.6 400.95,102.6 400.95,103.7 400.95,104.7 400.95,105.7 400.95,106.8 400.95,107.8 400.95,108.8 400.95,109.3 400.95,109.9 400.95,110.9 400.95,111.9 400.95,113.0 400.95,114.0 400.95,115.0 400.95,116.1 400.95,117.1 400.95,118.1 400.95,119.2 400.95,120.2 400.95,121.3 400.95,122.1 400.17,122.3 400.03,123.3 399.88,124.4 399.74,125.4 399.60,126.4 399.46,127.5 399.32,128.5 399.18,129.5 399.04,130.6 398.90,131.6 398.77,132.6 398.63,133.7 398.50,134.7 398.36,135.7 398.23,136.8 398.10,137.8 397.97,138.8 397.85,139.9 397.72,140.9 397.59,141.9 397.47,143.0 397.35,144.0 397.23,145.0 397.11,146.1 397.00,147.1 396.88,148.2 396.77,149.2 396.66,150.2 396.55,151.3 396.45,152.3 396.35,153.3 396.26,154.4 396.16,155.4 396.08,156.4 396.05,157.5 396.05,158.5 396.05,159.5 396.05,160.6 396.05,161.6 L395.85,161.6 395.85,160.6 395.85,159.5 395.85,158.5 395.85,157.5 395.82,156.4 395.74,155.4 395.64,154.4 395.55,153.3 395.45,152.3 395.35,151.3 395.24,150.2 395.13,149.2 395.02,148.2 394.90,147.1 394.79,146.1 394.67,145.0 394.55,144.0 394.43,143.0 394.31,141.9 394.18,140.9 394.05,139.9 393.93,138.8 393.80,137.8 393.67,136.8 393.54,135.7 393.40,134.7 393.27,133.7 393.13,132.6 393.00,131.6 392.86,130.6 392.72,129.5 392.58,128.5 392.44,127.5 392.30,126.4 392.16,125.4 392.02,124.4 391.87,123.3 391.73,122.3 390.95,122.1 390.95,121.3 390.95,120.2 390.95,119.2 390.95,118.1 390.95,117.1 390.95,116.1 390.95,115.0 390.95,114.0 390.95,113.0 390.95,111.9 390.95,110.9 390.95,109.9 390.95,109.3 390.95,108.8 390.95,107.8 390.95,106.8 390.95,105.7 390.95,104.7 390.95,103.7 390.95,102.6 390.95,101.6 390.95,100.6 390.95,99.5 390.95,98.5 390.95,97.5 390.95,97.2 391.86,96.4 392.08,95.4 392.29,94.4 392.49,93.3 392.69,92.3 392.89,91.3 393.08,90.2 393.26,89.2 393.44,88.1 393.62,87.1 393.79,86.1 393.95,85.0 394.11,84.0 394.26,83.0 394.41,81.9 394.55,80.9 394.69,79.9 394.82,78.8 394.95,77.8 395.07,76.8 395.18,75.7 395.28,74.7 395.38,73.7 395.48,72.6 395.56,71.6 395.64,70.6 395.71,69.5 395.78,68.5 395.83,67.5 395.85,66.4 395.85,65.4 395.85,64.4 395.85,63.3 395.85,62.3 395.85,61.2 395.85,60.2 395.85,59.2 395.85,58.1 395.85,57.1 395.85,56.1 395.85,55.0 395.85,54.0 395.85,53.0 395.85,51.9 395.85,50.9 395.85,49.9 395.85,48.8 395.85,47.8 Z" fill="#1f77b4" fill-opacity="0.3"/>
<path d="M396.42,72.6 396.52,73.7 396.62,74.7 396.72,75.7 396.83,76.8 396.95,77.8 397.08,78.8 397.21,79.9 397.35,80.9 397.49,81.9 397.64,83.0 397.79,84.0 397.95,85.0 398.11,86.1 398.28,87.1 398.46,88.1 398.64,89.2 398.82,90.2 399.01,91.3 399.21,92.3 399.41,93.3 399.61,94.4 399.82,95.4 400.04,96.4 400.95,97.2 400.95,97.5 400.95,98.5 400.95,99.5 400.95,100.6 400.95,101.6 400.95,102.6 400.95,103.7 400.95,104.7 400.95,105.7 400.95,106.8 400.95,107.8 400.95,108.8 400.95,109.3 400.95,109.9 400.95,110.9 400.95,111.9 400.95,113.0 400.95,114.0 400.95,115.0 400.95,116.1 400.95,117.1 400.95,118.1 400.95,119.2 400.95,120.2 400.95,121.3 400.95,122.1 400.17,122.3 400.03,123.3 399.88,124.4 399.74,125.4 399.60,126.4 399.46,127.5 399.32,128.5 399.18,129.5 399.04,130.6 398.90,131.6 398.77,132.6 398.63,133.7 398.50,134.7 398.36,135.7 398.23,136.8 398.10,137.8 397.97,138.8 397.85,139.9 397.72,140.9 397.59,141.9 397.47,143.0 397.35,144.0 397.23,145.0 397.11,146.1 397.00,147.1 396.88,148.2 396.77,149.2 396.66,150.2 396.55,151.3 396.45,152.3 M395.48,72.6 395.38,73.7 395.28,74.7 395.18,75.7 395.07,76.8 394.95,77.8 394.82,78.8 394.69,79.9 394.55,80.9 394.41,81.9 394.26,83.0 394.11,84.0 393.95,85.0 393.79,86.1 393.62,87.1 393.44,88.1 393.26,89.2 393.08,90.2 392.89,91.3 392.69,92.3 392.49,93.3 392.29,94.4 392.08,95.4 391.86,96.4 390.95,97.2 390.95,97.5 390.95,98.5 390.95,99.5 390.95,100.6 390.95,101.6 390.95,102.6 390.95,103.7 390.95,104.7 390.95,105.7 390.95,106.8 390.95,107.8 390.95,108.8 390.95,109.3 390.95,109.9 390.95,110.9 390.95,111.9 390.95,113.0 390.95,114.0 390.95,115.0 390.95,116.1 390.95,117.1 390.95,118.1 390.95,119.2 390.95,120.2 390.95,121.3 390.95,122.1 391.73,122.3 391.87,123.3 392.02,124.4 392.16,125.4 392.30,126.4 392.44,127.5 392.58,128.5 392.72,129.5 392.86,130.6 393.00,131.6 393.13,132.6 393.27,133.7 393.40,134.7 393.54,135.7 393.67,136.8 393.80,137.8 393.93,138.8 394.05,139.9 394.18,140.9 394.31,141.9 394.43,143.0 394.55,144.0 394.67,145.0 394.79,146.1 394.90,147.1 395.02,148.2 395.13,149.2 395.24,150.2 395.35,151.3 395.45,152.3" fill="none" stroke="#1f77b4" stroke-opacity="0.4" stroke-width="0.4"/>
<path d="M416.05,25.9 416.05,27.2 416.05,28.4 416.05,29.7 416.05,30.9 416.05,32.2 416.05,33.4 416.05,34.7 416.05,35.9 416.05,37.2 416.05,38.4 416.05,39.7 416.05,40.9 416.05,42.2 416.05,43.5 416.05,44.7 416.05,46.0 416.05,47.2 416.06,48.5 416.11,49.7 416.17,51.0 416.23,52.2 416.30,53.5 416.38,54.7 416.47,56.0 416.56,57.2 416.66,58.5 416.76,59.7 416.87,61.0 416.98,62.3 417.10,63.5 417.23,64.8 417.36,66.0 417.49,67.3 417.64,68.5 417.78,69.8 417.93,71.0 418.09,72.3 418.25,73.5 418.42,74.8 418.59,76.0 418.76,77.3 418.94,78.6 419.12,79.8 419.31,81.1 419.51,82.3 419.70,83.6 419.90,84.8 420.95,85.1 420.95,86.1 420.95,87.3 420.95,88.6 420.95,89.8 420.95,91.1 420.95,92.3 420.95,93.6 420.95,94.8 420.95,96.1 420.95,97.4 420.95,98.6 420.95,99.9 420.95,100.1 420.95,101.1 420.95,102.4 420.95,103.6 420.95,104.9 420.95,106.1 420.95,107.4 420.95,108.6 420.95,109.9 420.95,111.1 420.95,112.4 420.95,113.7 420.95,114.9 420.95,116.2 420.95,117.4 420.95,118.7 420.95,119.2 420.11,119.9 419.97,121.2 419.82,122.4 419.67,123.7 419.53,124.9 419.38,126.2 419.24,127.4 419.10,128.7 418.96,130.0 418.82,131.2 418.68,132.5 418.55,133.7 418.41,135.0 418.28,136.2 418.15,137.5 418.02,138.7 417.89,140.0 417.76,141.2 417.64,142.5 417.52,143.7 417.39,145.0 417.27,146.2 417.16,147.5 417.04,148.8 416.93,150.0 416.82,151.3 416.71,152.5 416.61,153.8 416.51,155.0 416.41,156.3 416.32,157.5 416.23,158.8 416.14,160.0 416.07,161.3 416.05,162.5 416.05,163.8 L415.85,163.8 415.85,162.5 415.83,161.3 415.76,160.0 415.67,158.8 415.58,157.5 415.49,156.3 415.39,155.0 415.29,153.8 415.19,152.5 415.08,151.3 414.97,150.0 414.86,148.8 414.74,147.5 414.63,146.2 414.51,145.0 414.38,143.7 414.26,142.5 414.14,141.2 414.01,140.0 413.88,138.7 413.75,137.5 413.62,136.2 413.49,135.0 413.35,133.7 413.22,132.5 413.08,131.2 412.94,130.0 412.80,128.7 412.66,127.4 412.52,126.2 412.37,124.9 412.23,123.7 412.08,122.4 411.93,121.2 411.79,119.9 410.95,119.2 410.95,118.7 410.95,117.4 410.95,116.2 410.95,114.9 410.95,113.7 410.95,112.4 410.95,111.1 410.95,109.9 410.95,108.6 410.95,107.4 410.95,106.1 410.95,104.9 410.95,103.6 410.95,102.4 410.95,101.1 410.95,100.1 410.95,99.9 410.95,98.6 410.95,97.4 410.95,96.1 410.95,94.8 410.95,93.6 410.95,92.3 410.95,91.1 410.95,89.8 410.95,88.6 410.95,87.3 410.95,86.1 410.95,85.1 412.00,84.8 412.20,83.6 412.39,82.3 412.59,81.1 412.78,79.8 412.96,78.6 413.14,77.3 413.31,76.0 413.48,74.8 413.65,73.5 413.81,72.3 413.97,71.0 414.12,69.8 414.26,68.5 414.41,67.3 414.54,66.0 414.67,64.8 414.80,63.5 414.92,62.3 415.03,61.0 415.14,59.7 415.24,58.5 415.34,57.2 415.43,56.0 415.52,54.7 415.60,53.5 415.67,52.2 415.73,51.0 415.79,49.7 415.84,48.5 415.85,47.2 415.85,46.0 415.85,44.7 415.85,43.5 415.85,42.2 415.85,40.9 415.85,39.7 415.85,38.4 415.85,37.2 415.85,35.9 415.85,34.7 415.85,33.4 415.85,32.2 415.85,30.9 415.85,29.7 415.85,28.4 415.85,27.2 415.85,25.9 Z" fill="#1f77b4" fill-opacity="0.3"/>
<path d="M416.47,56.0 416.56,57.2 416.66,58.5 416.76,59.7 416.87,61.0 416.98,62.3 417.10,63.5 417.23,64.8 417.36,66.0 417.49,67.3 417.64,68.5 417.78,69.8 417.93,71.0 418.09,72.3 418.25,73.5 418.42,74.8 418.59,76.0 418.76,77.3 418.94,78.6 419.12,79.8 419.31,81.1 419.51,82.3 419.70,83.6 419.90,84.8 420.95,85.1 420.95,86.1 420.95,87.3 420.95,88.6 420.95,89.8 420.95,91.1 420.95,92.3 420.95,93.6 420.95,94.8 420.95,96.1 420.95,97.4 420.95,98.6 420.95,99.9 420.95,100.1 420.95,101.1 420.95,102.4 420.95,103.6 420.95,104.9 420.95,106.1 420.95,107.4 420.95,108.6 420.95,109.9 420.95,111.1 420.95,112.4 420.95,113.7 420.95,114.9 420.95,116.2 420.95,117.4 420.95,118.7 420.95,119.2 420.11,119.9 419.97,121.2 419.82,122.4 419.67,123.7 419.53,124.9 419.38,126.2 419.24,127.4 419.10,128.7 418.96,130.0 418.82,131.2 418.68,132.5 418.55,133.7 418.41,135.0 418.28,136.2 418.15,137.5 418.02,138.7 417.89,140.0 417.76,141.2 417.64,142.5 417.52,143.7 417.39,145.0 417.27,146.2 417.16,147.5 417.04,148.8 416.93,150.0 416.82,151.3 416.71,152.5 416.61,153.8 416.51,155.0 416.41,156.3 M415.43,56.0 415.34,57.2 415.24,58.5 415.14,59.7 415.03,61.0 414.92,62.3 414.80,63.5 414.67,64.8 414.54,66.0 414.41,67.3 414.26,68.5 414.12,69.8 413.97,71.0 413.81,72.3 413.65,73.5 413.48,74.8 413.31,76.0 413.14,77.3 412.96,78.6 412.78,79.8 412.59,81.1 412.39,82.3 412.20,83.6 412.00,84.8 410.95,85.1 410.95,86.1 410.95,87.3 410.95,88.6 410.95,89.8 410.95,91.1 410.95,92.3 410.95,93.6 410.95,94.8 410.95,96.1 410.95,97.4 410.95,98.6 410.95,99.9 410.95,100.1 410.95,101.1 410.95,102.4 410.95,103.6 410.95,104.9 410.95,106.1 410.95,107.4 410.95,108.6 410.95,109.9 410.95,111.1 410.95,112.4 410.95,113.7 410.95,114.9 410.95,116.2 410.95,117.4 410.95,118.7 410.95,119.2 411.79,119.9 411.93,121.2 412.08,122.4 412.23,123.7 412.37,124.9 412.52,126.2 412.66,127.4 412.80,128.7 412.94,130.0 413.08,131.2 413.22,132.5 413.35,133.7 413.49,135.0 413.62,136.2 413.75,137.5 413.88,138.7 414.01,140.0 414.14,141.2 414.26,142.5 414.38,143.7 414.51,145.0 414.63,146.2 414.74,147.5 414.86,148.8 414.97,150.0 415.08,151.3 415.19,152.5 415.29,153.8 415.39,155.0 415.49,156.3" fill="none" stroke="#1f77b4" stroke-opacity="0.4" stroke-width="0.4"/>
<path d="M436.05,82.0 436.05,83.0 436.05,84.0 436.05,85.0 436.05,85.9 436.09,86.9 436.14,87.9 436.21,88.9 436.28,89.9 436.36,90.9 436.46,91.8 436.56,92.8 436.67,93.8 436.78,94.8 436.91,95.8 437.04,96.8 437.19,97.8 437.34,98.7 437.50,99.7 437.66,100.7 437.84,101.7 438.02,102.7 438.21,103.7 438.41,104.6 438.62,105.6 438.83,106.6 439.06,107.6 439.29,108.6 439.53,109.6 439.77,110.6 440.03,111.5 440.29,112.5 440.56,113.5 440.95,114.0 440.95,114.5 440.95,115.5 440.95,116.5 440.95,117.4 440.95,118.4 440.95,119.4 440.95,120.4 440.95,121.4 440.95,122.4 440.95,123.4 440.95,124.3 440.95,125.3 440.95,126.3 440.95,127.3 440.95,128.3 440.95,129.3 440.95,130.2 440.95,130.2 440.95,131.2 440.95,132.2 440.95,133.2 440.95,134.2 440.95,135.2 440.95,136.2 440.95,137.1 440.95,138.1 440.95,139.1 440.95,140.1 440.95,141.1 440.95,142.1 440.95,142.3 440.08,143.0 439.93,144.0 439.78,145.0 439.63,146.0 439.48,147.0 439.33,148.0 439.18,148.9 439.03,149.9 438.89,150.9 438.74,151.9 438.60,152.9 438.46,153.9 438.32,154.9 438.19,155.8 438.05,156.8 437.92,157.8 437.78,158.8 437.65,159.8 437.53,160.8 437.40,161.7 437.28,162.7 437.15,163.7 437.03,164.7 436.92,165.7 436.80,166.7 436.69,167.7 436.58,168.6 436.48,169.6 436.38,170.6 436.28,171.6 436.19,172.6 436.11,173.6 436.05,174.5 436.05,175.5 436.05,176.5 436.05,177.5 436.05,178.5 436.05,179.5 436.05,180.5 436.05,181.4 436.05,182.4 436.05,183.4 436.05,184.4 436.05,185.4 436.05,186.4 436.05,187.3 436.05,188.3 436.05,189.3 436.05,190.3 L435.85,190.3 435.85,189.3 435.85,188.3 435.85,187.3 435.85,186.4 435.85,185.4 435.85,184.4 435.85,183.4 435.85,182.4 435.85,181.4 435.85,180.5 435.85,179.5 435.85,178.5 435.85,177.5 435.85,176.5 435.85,175.5 435.85,174.5 435.79,173.6 435.71,172.6 435.62,171.6 435.52,170.6 435.42,169.6 435.32,168.6 435.21,167.7 435.10,166.7 434.98,165.7 434.87,164.7 434.75,163.7 434.62,162.7 434.50,161.7 434.37,160.8 434.25,159.8 434.12,158.8 433.98,157.8 433.85,156.8 433.71,155.8 433.58,154.9 433.44,153.9 433.30,152.9 433.16,151.9 433.01,150.9 432.87,149.9 432.72,148.9 432.57,148.0 432.42,147.0 432.27,146.0 432.12,145.0 431.97,144.0 431.82,143.0 430.95,142.3 430.95,142.1 430.95,141.1 430.95,140.1 430.95,139.1 430.95,138.1 430.95,137.1 430.95,136.2 430.95,135.2 430.95,134.2 430.95,133.2 430.95,132.2 430.95,131.2 430.95,130.2 430.95,130.2 430.95,129.3 430.95,128.3 430.95,127.3 430.95,126.3 430.95,125.3 430.95,124.3 430.95,123.4 430.95,122.4 430.95,121.4 430.95,120.4 430.95,119.4 430.95,118.4 430.95,117.4 430.95,116.5 430.95,115.5 430.95,114.5 430.95,114.0 431.34,113.5 431.61,112.5 431.87,111.5 432.13,110.6 432.37,109.6 432.61,108.6 432.84,107.6 433.07,106.6 433.28,105.6 433.49,104.6 433.69,103.7 433.88,102.7 434.06,101.7 434.24,100.7 434.40,99.7 434.56,98.7 434.71,97.8 434.86,96.8 434.99,95.8 435.12,94.8 435.23,93.8 435.34,92.8 435.44,91.8 435.54,90.9 435.62,89.9 435.69,88.9 435.76,87.9 435.81,86.9 435.85,85.9 435.85,85.0 435.85,84.0 435.85,83.0 435.85,82.0 Z" fill="#1f77b4" fill-opacity="0.3"/>
<path d="M436.46,91.8 436.56,92.8 436.67,93.8 436.78,94.8 436.91,95.8 437.04,96.8 437.19,97.8 437.34,98.7 437.50,99.7 437.66,100.7 437.84,101.7 438.02,102.7 438.21,103.7 438.41,104.6 438.62,105.6 438.83,106.6 439.06,107.6 439.29,108.6 439.53,109.6 439.77,110.6 440.03,111.5 440.29,112.5 440.56,113.5 440.95,114.0 440.95,114.5 440.95,115.5 440.95,116.5 440.95,117.4 440.95,118.4 440.95,119.4 440.95,120.4 440.95,121.4 440.95,122.4 440.95,123.4 440.95,124.3 440.95,125.3 440.95,126.3 440.95,127.3 440.95,128.3 440.95,129.3 440.95,130.2 440.95,130.2 440.95,131.2 440.95,132.2 440.95,133.2 440.95,134.2 440.95,135.2 440.95,136.2 440.95,137.1 440.95,138.1 440.95,139.1 440.95,140.1 440.95,141.1 440.95,142.1 440.95,142.3 440.08,143.0 439.93,144.0 439.78,145.0 439.63,146.0 439.48,147.0 439.33,148.0 439.18,148.9 439.03,149.9 438.89,150.9 438.74,151.9 438.60,152.9 438.46,153.9 438.32,154.9 438.19,155.8 438.05,156.8 437.92,157.8 437.78,158.8 437.65,159.8 437.53,160.8 437.40,161.7 437.28,162.7 437.15,163.7 437.03,164.7 436.92,165.7 436.80,166.7 436.69,167.7 436.58,168.6 436.48,169.6 M435.44,91.8 435.34,92.8 435.23,93.8 435.12,94.8 434.99,95.8 434.86,96.8 434.71,97.8 434.56,98.7 434.40,99.7 434.24,100.7 434.06,101.7 433.88,102.7 433.69,103.7 433.49,104.6 433.28,105.6 433.07,106.6 432.84,107.6 432.61,108.6 432.37,109.6 432.13,110.6 431.87,111.5 431.61,112.5 431.34,113.5 430.95,114.0 430.95,114.5 430.95,115.5 430.95,116.5 430.95,117.4 430.95,118.4 430.95,119.4 430.95,120.4 430.95,121.4 430.95,122.4 430.95,123.4 430.95,124.3 430.95,125.3 430.95,126.3 430.95,127.3 430.95,128.3 430.95,129.3 430.95,130.2 430.95,130.2 430.95,131.2 430.95,132.2 430.95,133.2 430.95,134.2 430.95,135.2 430.95,136.2 430.95,137.1 430.95,138.1 430.95,139.1 430.95,140.1 430.95,141.1 430.95,142.1 430.95,142.3 431.82,143.0 431.97,144.0 432.12,145.0 432.27,146.0 432.42,147.0 432.57,148.0 432.72,148.9 432.87,149.9 433.01,150.9 433.16,151.9 433.30,152.9 433.44,153.9 433.58,154.9 433.71,155.8 433.85,156.8 433.98,157.8 434.12,158.8 434.25,159.8 434.37,160.8 434.50,161.7 434.62,162.7 434.75,163.7 434.87,164.7 434.98,165.7 435.10,166.7 435.21,167.7 435.32,168.6 435.42,169.6" fill="none" stroke="#1f77b4" stroke-opacity="0.4" stroke-width="0.4"/>
<path d="M456.05,43.3 456.05,44.6 456.05,46.0 456.05,47.3 456.07,48.6 456.12,49.9 456.18,51.3 456.25,52.6 456.33,53.9 456.41,55.2 456.50,56.6 456.60,57.9 456.70,59.2 456.81,60.5 456.92,61.9 457.05,63.2 457.17,64.5 457.30,65.8 457.44,67.2 457.59,68.5 457.74,69.8 457.89,71.2 458.05,72.5 458.21,73.8 458.38,75.1 458.56,76.5 458.74,77.8 458.92,79.1 459.11,80.4 459.31,81.8 459.51,83.1 459.71,84.4 460.95,85.3 460.95,85.7 460.95,87.1 460.95,88.4 460.95,89.7 460.95,91.0 460.95,92.4 460.95,93.7 460.95,95.0 460.95,96.4 460.95,97.7 460.95,99.0 460.95,100.3 460.95,101.2 460.95,101.7 460.95,103.0 460.95,104.3 460.95,105.6 460.95,107.0 460.95,108.3 460.95,109.6 460.95,110.9 460.95,112.3 460.95,113.6 460.95,114.9 460.95,116.2 460.95,117.6 460.95,118.9 460.95,119.9 459.66,120.2 459.49,121.6 459.33,122.9 459.17,124.2 459.00,125.5 458.84,126.9 458.68,128.2 458.53,129.5 458.37,130.8 458.22,132.2 458.06,133.5 457.91,134.8 457.76,136.1 457.62,137.5 457.47,138.8 457.33,140.1 457.19,141.5 457.05,142.8 456.92,144.1 456.79,145.4 456.66,146.8 456.54,148.1 456.42,149.4 456.30,150.7 456.19,152.1 456.09,153.4 456.05,154.7 456.05,156.0 456.05,157.4 456.05,158.7 456.05,160.0 456.05,161.3 456.05,162.7 456.05,164.0 456.05,165.3 456.05,166.7 456.05,168.0 456.05,169.3 456.05,170.6 456.05,172.0 456.05,173.3 456.05,174.6 456.05,175.9 456.05,177.3 456.05,178.6 456.05,179.9 456.05,181.2 456.05,182.6 456.05,183.9 456.05,185.2 456.05,186.5 456.05,187.9 456.05,189.2 L455.85,189.2 455.85,187.9 455.85,186.5 455.85,185.2 455.85,183.9 455.85,182.6 455.85,181.2 455.85,179.9 455.85,178.6 455.85,177.3 455.85,175.9 455.85,174.6 455.85,173.3 455.85,172.0 455.85,170.6 455.85,169.3 455.85,168.0 455.85,166.7 455.85,165.3 455.85,164.0 455.85,162.7 455.85,161.3 455.85,160.0 455.85,158.7 455.85,157.4 455.85,156.0 455.85,154.7 455.81,153.4 455.71,152.1 455.60,150.7 455.48,149.4 455.36,148.1 455.24,146.8 455.11,145.4 454.98,144.1 454.85,142.8 454.71,141.5 454.57,140.1 454.43,138.8 454.28,137.5 454.14,136.1 453.99,134.8 453.84,133.5 453.68,132.2 453.53,130.8 453.37,129.5 453.22,128.2 453.06,126.9 452.90,125.5 452.73,124.2 452.57,122.9 452.41,121.6 452.24,120.2 450.95,119.9 450.95,118.9 450.95,117.6 450.95,116.2 450.95,114.9 450.95,113.6 450.95,112.3 450.95,110.9 450.95,109.6 450.95,108.3 450.95,107.0 450.95,105.6 450.95,104.3 450.95,103.0 450.95,101.7 450.95,101.2 450.95,100.3 450.95,99.0 450.95,97.7 450.95,96.4 450.95,95.0 450.95,93.7 450.95,92.4 450.95,91.0 450.95,89.7 450.95,88.4 450.95,87.1 450.95,85.7 450.95,85.3 452.19,84.4 452.39,83.1 452.59,81.8 452.79,80.4 452.98,79.1 453.16,77.8 453.34,76.5 453.52,75.1 453.69,73.8 453.85,72.5 454.01,71.2 454.16,69.8 454.31,68.5 454.46,67.2 454.60,65.8 454.73,64.5 454.85,63.2 454.98,61.9 455.09,60.5 455.20,59.2 455.30,57.9 455.40,56.6 455.49,55.2 455.57,53.9 455.65,52.6 455.72,51.3 455.78,49.9 455.83,48.6 455.85,47.3 455.85,46.0 455.85,44.6 455.85,43.3 Z" fill="#1f77b4" fill-opacity="0.3"/>
<path d="M456.41,55.2 456.50,56.6 456.60,57.9 456.70,59.2 456.81,60.5 456.92,61.9 457.05,63.2 457.17,64.5 457.30,65.8 457.44,67.2 457.59,68.5 457.74,69.8 457.89,71.2 458.05,72.5 458.21,73.8 458.38,75.1 458.56,76.5 458.74,77.8 458.92,79.1 459.11,80.4 459.31,81.8 459.51,83.1 459.71,84.4 460.95,85.3 460.95,85.7 460.95,87.1 460.95,88.4 460.95,89.7 460.95,91.0 460.95,92.4 460.95,93.7 460.95,95.0 460.95,96.4 460.95,97.7 460.95,99.0 460.95,100.3 460.95,101.2 460.95,101.7 460.95,103.0 460.95,104.3 460.95,105.6 460.95,107.0 460.95,108.3 460.95,109.6 460.95,110.9 460.95,112.3 460.95,113.6 460.95,114.9 460.95,116.2 460.95,117.6 460.95,118.9 460.95,119.9 459.66,120.2 459.49,121.6 459.33,122.9 459.17,124.2 459.00,125.5 458.84,126.9 458.68,128.2 458.53,129.5 458.37,130.8 458.22,132.2 458.06,133.5 457.91,134.8 457.76,136.1 457.62,137.5 457.47,138.8 457.33,140.1 457.19,141.5 457.05,142.8 456.92,144.1 456.79,145.4 456.66,146.8 456.54,148.1 456.42,149.4 M455.49,55.2 455.40,56.6 455.30,57.9 455.20,59.2 455.09,60.5 454.98,61.9 454.85,63.2 454.73,64.5 454.60,65.8 454.46,67.2 454.31,68.5 454.16,69.8 454.01,71.2 453.85,72.5 453.69,73.8 453.52,75.1 453.34,76.5 453.16,77.8 452.98,79.1 452.79,80.4 452.59,81.8 452.39,83.1 452.19,84.4 450.95,85.3 450.95,85.7 450.95,87.1 450.95,88.4 450.95,89.7 450.95,91.0 450.95,92.4 450.95,93.7 450.95,95.0 450.95,96.4 450.95,97.7 450.95,99.0 450.95,100.3 450.95,101.2 450.95,101.7 450.95,103.0 450.95,104.3 450.95,105.6 450.95,107.0 450.95,108.3 450.95,109.6 450.95,110.9 450.95,112.3 450.95,113.6 450.95,114.9 450.95,116.2 450.95,117.6 450.95,118.9 450.95,119.9 452.24,120.2 452.41,121.6 452.57,122.9 452.73,124.2 452.90,125.5 453.06,126.9 453.22,128.2 453.37,129.5 453.53,130.8 453.68,132.2 453.84,133.5 453.99,134.8 454.14,136.1 454.28,137.5 454.43,138.8 454.57,140.1 454.71,141.5 454.85,142.8 454.98,144.1 455.11,145.4 455.24,146.8 455.36,148.1 455.48,149.4" fill="none" stroke="#1f77b4" stroke-opacity="0.4" stroke-width="0.4"/>
<path d="M476.05,14.3 476.05,15.9 476.05,17.4 476.05,19.0 476.05,20.5 476.08,22.1 476.13,23.6 476.19,25.2 476.26,26.7 476.33,28.3 476.41,29.8 476.50,31.4 476.59,32.9 476.69,34.5 476.80,36.0 476.91,37.6 477.03,39.1 477.15,40.7 477.28,42.2 477.42,43.8 477.56,45.3 477.71,46.9 477.86,48.4 478.02,50.0 478.18,51.5 478.35,53.1 478.53,54.6 478.71,56.2 478.90,57.7 479.09,59.3 479.29,60.8 479.49,62.4 479.70,63.9 479.91,65.5 480.13,67.0 480.95,67.5 480.95,68.6 480.95,70.1 480.95,71.7 480.95,73.2 480.95,74.8 480.95,76.3 480.95,77.9 480.95,79.4 480.95,81.0 480.95,82.5 480.95,84.1 480.95,85.6 480.95,87.2 480.95,88.4 480.95,88.7 480.95,90.3 480.95,91.8 480.95,93.4 480.95,94.9 480.95,96.5 480.95,98.0 480.95,99.6 480.95,101.2 480.95,102.7 480.95,104.3 480.95,105.1 479.87,105.8 479.69,107.4 479.51,108.9 479.33,110.5 479.15,112.0 478.97,113.6 478.80,115.1 478.63,116.7 478.46,118.2 478.29,119.8 478.12,121.3 477.96,122.9 477.80,124.4 477.64,126.0 477.48,127.5 477.33,129.1 477.17,130.6 477.03,132.2 476.88,133.7 476.74,135.3 476.60,136.8 476.47,138.4 476.34,139.9 476.22,141.5 476.11,143.0 476.05,144.6 476.05,146.1 476.05,147.7 476.05,149.2 476.05,150.8 476.05,152.3 476.05,153.9 476.05,155.4 476.05,157.0 476.05,158.5 476.05,160.1 476.05,161.6 476.05,163.2 476.05,164.7 476.05,166.3 476.05,167.8 476.05,169.4 476.05,170.9 476.05,172.5 476.05,174.0 476.05,175.6 476.05,177.1 476.05,178.7 476.05,180.2 476.05,181.8 476.05,183.3 476.05,184.9 L475.85,184.9 475.85,183.3 475.85,181.8 475.85,180.2 475.85,178.7 475.85,177.1 475.85,175.6 475.85,174.0 475.85,172.5 475.85,170.9 475.85,169.4 475.85,167.8 475.85,166.3 475.85,164.7 475.85,163.2 475.85,161.6 475.85,160.1 475.85,158.5 475.85,157.0 475.85,155.4 475.85,153.9 475.85,152.3 475.85,150.8 475.85,149.2 475.85,147.7 475.85,146.1 475.85,144.6 475.79,143.0 475.68,141.5 475.56,139.9 475.43,138.4 475.30,136.8 475.16,135.3 475.02,133.7 474.87,132.2 474.73,130.6 474.57,129.1 474.42,127.5 474.26,126.0 474.10,124.4 473.94,122.9 473.78,121.3 473.61,119.8 473.44,118.2 473.27,116.7 473.10,115.1 472.93,113.6 472.75,112.0 472.57,110.5 472.39,108.9 472.21,107.4 472.03,105.8 470.95,105.1 470.95,104.3 470.95,102.7 470.95,101.2 470.95,99.6 470.95,98.0 470.95,96.5 470.95,94.9 470.95,93.4 470.95,91.8 470.95,90.3 470.95,88.7 470.95,88.4 470.95,87.2 470.95,85.6 470.95,84.1 470.95,82.5 470.95,81.0 470.95,79.4 470.95,77.9 470.95,76.3 470.95,74.8 470.95,73.2 470.95,71.7 470.95,70.1 470.95,68.6 470.95,67.5 471.77,67.0 471.99,65.5 472.20,63.9 472.41,62.4 472.61,60.8 472.81,59.3 473.00,57.7 473.19,56.2 473.37,54.6 473.55,53.1 473.72,51.5 473.88,50.0 474.04,48.4 474.19,46.9 474.34,45.3 474.48,43.8 474.62,42.2 474.75,40.7 474.87,39.1 474.99,37.6 475.10,36.0 475.21,34.5 475.31,32.9 475.40,31.4 475.49,29.8 475.57,28.3 475.64,26.7 475.71,25.2 475.77,23.6 475.82,22.1 475.85,20.5 475.85,19.0 475.85,17.4 475.85,15.9 475.85,14.3 Z" fill="#1f77b4" fill-opacity="0.3"/>
<path d="M476.41,29.8 476.50,31.4 476.59,32.9 476.69,34.5 476.80,36.0 476.91,37.6 477.03,39.1 477.15,40.7 477.28,42.2 477.42,43.8 477.56,45.3 477.71,46.9 477.86,48.4 478.02,50.0 478.18,51.5 478.35,53.1 478.53,54.6 478.71,56.2 478.90,57.7 479.09,59.3 479.29,60.8 479.49,62.4 479.70,63.9 479.91,65.5 480.13,67.0 480.95,67.5 480.95,68.6 480.95,70.1 480.95,71.7 480.95,73.2 480.95,74.8 480.95,76.3 480.95,77.9 480.95,79.4 480.95,81.0 480.95,82.5 480.95,84.1 480.95,85.6 480.95,87.2 480.95,88.4 480.95,88.7 480.95,90.3 480.95,91.8 480.95,93.4 480.95,94.9 480.95,96.5 480.95,98.0 480.95,99.6 480.95,101.2 480.95,102.7 480.95,104.3 480.95,105.1 479.87,105.8 479.69,107.4 479.51,108.9 479.33,110.5 479.15,112.0 478.97,113.6 478.80,115.1 478.63,116.7 478.46,118.2 478.29,119.8 478.12,121.3 477.96,122.9 477.80,124.4 477.64,126.0 477.48,127.5 477.33,129.1 477.17,130.6 477.03,132.2 476.88,133.7 476.74,135.3 476.60,136.8 476.47,138.4 M475.49,29.8 475.40,31.4 475.31,32.9 475.21,34.5 475.10,36.0 474.99,37.6 474.87,39.1 474.75,40.7 474.62,42.2 474.48,43.8 474.34,45.3 474.19,46.9 474.04,48.4 473.88,50.0 473.72,51.5 473.55,53.1 473.37,54.6 473.19,56.2 473.00,57.7 472.81,59.3 472.61,60.8 472.41,62.4 472.20,63.9 471.99,65.5 471.77,67.0 470.95,67.5 470.95,68.6 470.95,70.1 470.95,71.7 470.95,73.2 470.95,74.8 470.95,76.3 470.95,77.9 470.95,79.4 470.95,81.0 470.95,82.5 470.95,84.1 470.95,85.6 470.95,87.2 470.95,88.4 470.95,88.7 470.95,90.3 470.95,91.8 470.95,93.4 470.95,94.9 470.95,96.5 470.95,98.0 470.95,99.6 470.95,101.2 470.95,102.7 470.95,104.3 470.95,105.1 472.03,105.8 472.21,107.4 472.39,108.9 472.57,110.5 472.75,112.0 472.93,113.6 473.10,115.1 473.27,116.7 473.44,118.2 473.61,119.8 473.78,121.3 473.94,122.9 474.10,124.4 474.26,126.0 474.42,127.5 474.57,129.1 474.73,130.6 474.87,132.2 475.02,133.7 475.16,135.3 475.30,136.8 475.43,138.4" fill="none" stroke="#1f77b4" stroke-opacity="0.4" stroke-width="0.4"/>
<path d="M496.05,44.6 496.05,45.8 496.05,47.1 496.05,48.3 496.05,49.6 496.08,50.8 496.13,52.1 496.19,53.3 496.26,54.6 496.33,55.8 496.41,57.0 496.50,58.3 496.59,59.5 496.69,60.8 496.80,62.0 496.91,63.3 497.03,64.5 497.16,65.8 497.29,67.0 497.42,68.2 497.56,69.5 497.71,70.7 497.87,72.0 498.03,73.2 498.19,74.5 498.36,75.7 498.54,77.0 498.72,78.2 498.91,79.4 499.10,80.7 499.30,81.9 499.50,83.2 499.71,84.4 499.93,85.7 500.95,85.8 500.95,86.9 500.95,88.2 500.95,89.4 500.95,90.6 500.95,91.9 500.95,93.1 500.95,94.4 500.95,95.6 500.95,96.9 500.95,98.1 500.95,99.4 500.95,100.6 500.95,100.7 500.95,101.8 500.95,103.1 500.95,104.3 500.95,105.6 500.95,106.8 500.95,108.1 500.95,109.3 500.95,110.6 500.95,111.8 500.95,113.1 500.95,114.3 500.95,115.2 500.16,115.5 500.01,116.8 499.86,118.0 499.72,119.3 499.57,120.5 499.43,121.8 499.29,123.0 499.14,124.3 499.00,125.5 498.86,126.7 498.73,128.0 498.59,129.2 498.46,130.5 498.32,131.7 498.19,133.0 498.06,134.2 497.93,135.5 497.80,136.7 497.68,137.9 497.55,139.2 497.43,140.4 497.31,141.7 497.19,142.9 497.08,144.2 496.97,145.4 496.85,146.7 496.75,147.9 496.64,149.1 496.54,150.4 496.44,151.6 496.35,152.9 496.25,154.1 496.17,155.4 496.09,156.6 496.05,157.9 496.05,159.1 496.05,160.3 496.05,161.6 496.05,162.8 496.05,164.1 496.05,165.3 496.05,166.6 496.05,167.8 496.05,169.1 496.05,170.3 496.05,171.5 496.05,172.8 496.05,174.0 496.05,175.3 496.05,176.5 496.05,177.8 496.05,179.0 496.05,180.3 496.05,181.5 L495.85,181.5 495.85,180.3 495.85,179.0 495.85,177.8 495.85,176.5 495.85,175.3 495.85,174.0 495.85,172.8 495.85,171.5 495.85,170.3 495.85,169.1 495.85,167.8 495.85,166.6 495.85,165.3 495.85,164.1 495.85,162.8 495.85,161.6 495.85,160.3 495.85,159.1 495.85,157.9 495.81,156.6 495.73,155.4 495.65,154.1 495.55,152.9 495.46,151.6 495.36,150.4 495.26,149.1 495.15,147.9 495.05,146.7 494.93,145.4 494.82,144.2 494.71,142.9 494.59,141.7 494.47,140.4 494.35,139.2 494.22,137.9 494.10,136.7 493.97,135.5 493.84,134.2 493.71,133.0 493.58,131.7 493.44,130.5 493.31,129.2 493.17,128.0 493.04,126.7 492.90,125.5 492.76,124.3 492.61,123.0 492.47,121.8 492.33,120.5 492.18,119.3 492.04,118.0 491.89,116.8 491.74,115.5 490.95,115.2 490.95,114.3 490.95,113.1 490.95,111.8 490.95,110.6 490.95,109.3 490.95,108.1 490.95,106.8 490.95,105.6 490.95,104.3 490.95,103.1 490.95,101.8 490.95,100.7 490.95,100.6 490.95,99.4 490.95,98.1 490.95,96.9 490.95,95.6 490.95,94.4 490.95,93.1 490.95,91.9 490.95,90.6 490.95,89.4 490.95,88.2 490.95,86.9 490.95,85.8 491.97,85.7 492.19,84.4 492.40,83.2 492.60,81.9 492.80,80.7 492.99,79.4 493.18,78.2 493.36,77.0 493.54,75.7 493.71,74.5 493.87,73.2 494.03,72.0 494.19,70.7 494.34,69.5 494.48,68.2 494.61,67.0 494.74,65.8 494.87,64.5 494.99,63.3 495.10,62.0 495.21,60.8 495.31,59.5 495.40,58.3 495.49,57.0 495.57,55.8 495.64,54.6 495.71,53.3 495.77,52.1 495.82,50.8 495.85,49.6 495.85,48.3 495.85,47.1 495.85,45.8 495.85,44.6 Z" fill="#1f77b4" fill-opacity="0.3"/>
<path d="M496.41,57.0 496.50,58.3 496.59,59.5 496.69,60.8 496.80,62.0 496.91,63.3 497.03,64.5 497.16,65.8 497.29,67.0 497.42,68.2 497.56,69.5 497.71,70.7 497.87,72.0 498.03,73.2 498.19,74.5 498.36,75.7 498.54,77.0 498.72,78.2 498.91,79.4 499.10,80.7 499.30,81.9 499.50,83.2 499.71,84.4 499.93,85.7 500.95,85.8 500.95,86.9 500.95,88.2 500.95,89.4 500.95,90.6 500.95,91.9 500.95,93.1 500.95,94.4 500.95,95.6 500.95,96.9 500.95,98.1 500.95,99.4 500.95,100.6 500.95,100.7 500.95,101.8 500.95,103.1 500.95,104.3 500.95,105.6 500.95,106.8 500.95,108.1 500.95,109.3 500.95,110.6 500.95,111.8 500.95,113.1 500.95,114.3 500.95,115.2 500.16,115.5 500.01,116.8 499.86,118.0 499.72,119.3 499.57,120.5 499.43,121.8 499.29,123.0 499.14,124.3 499.00,125.5 498.86,126.7 498.73,128.0 498.59,129.2 498.46,130.5 498.32,131.7 498.19,133.0 498.06,134.2 497.93,135.5 497.80,136.7 497.68,137.9 497.55,139.2 497.43,140.4 497.31,141.7 497.19,142.9 497.08,144.2 496.97,145.4 496.85,146.7 496.75,147.9 496.64,149.1 496.54,150.4 496.44,151.6 M495.49,57.0 495.40,58.3 495.31,59.5 495.21,60.8 495.10,62.0 494.99,63.3 494.87,64.5 494.74,65.8 494.61,67.0 494.48,68.2 494.34,69.5 494.19,70.7 494.03,72.0 493.87,73.2 493.71,74.5 493.54,75.7 493.36,77.0 493.18,78.2 492.99,79.4 492.80,80.7 492.60,81.9 492.40,83.2 492.19,84.4 491.97,85.7 490.95,85.8 490.95,86.9 490.95,88.2 490.95,89.4 490.95,90.6 490.95,91.9 490.95,93.1 490.95,94.4 490.95,95.6 490.95,96.9 490.95,98.1 490.95,99.4 490.95,100.6 490.95,100.7 490.95,101.8 490.95,103.1 490.95,104.3 490.95,105.6 490.95,106.8 490.95,108.1 490.95,109.3 490.95,110.6 490.95,111.8 490.95,113.1 490.95,114.3 490.95,115.2 491.74,115.5 491.89,116.8 492.04,118.0 492.18,119.3 492.33,120.5 492.47,121.8 492.61,123.0 492.76,124.3 492.90,125.5 493.04,126.7 493.17,128.0 493.31,129.2 493.44,130.5 493.58,131.7 493.71,133.0 493.84,134.2 493.97,135.5 494.10,136.7 494.22,137.9 494.35,139.2 494.47,140.4 494.59,141.7 494.71,142.9 494.82,144.2 494.93,145.4 495.05,146.7 495.15,147.9 495.26,149.1 495.36,150.4 495.46,151.6" fill="none" stroke="#1f77b4" stroke-opacity="0.4" stroke-width="0.4"/>
<path d="M516.05,71.5 516.05,72.8 516.05,74.1 516.05,75.4 516.11,76.8 516.18,78.1 516.26,79.4 516.36,80.7 516.46,82.0 516.57,83.3 516.70,84.6 516.83,86.0 516.97,87.3 517.12,88.6 517.27,89.9 517.44,91.2 517.61,92.5 517.79,93.8 517.98,95.1 518.17,96.5 518.37,97.8 518.58,99.1 518.80,100.4 519.02,101.7 519.26,103.0 519.49,104.3 519.74,105.7 519.99,107.0 520.25,108.3 520.95,109.3 520.95,109.6 520.95,110.9 520.95,112.2 520.95,113.5 520.95,114.8 520.95,116.2 520.95,117.5 520.95,118.8 520.95,120.1 520.95,121.4 520.95,122.7 520.95,123.6 520.95,124.0 520.95,125.4 520.95,126.7 520.95,128.0 520.95,129.3 520.95,130.6 520.95,131.9 520.95,133.2 520.95,134.6 520.95,135.9 520.95,137.2 520.95,138.5 520.95,139.0 520.35,139.8 520.19,141.1 520.03,142.4 519.87,143.8 519.71,145.1 519.55,146.4 519.40,147.7 519.24,149.0 519.09,150.3 518.94,151.6 518.79,152.9 518.64,154.3 518.50,155.6 518.35,156.9 518.21,158.2 518.07,159.5 517.93,160.8 517.79,162.1 517.66,163.5 517.52,164.8 517.39,166.1 517.26,167.4 517.14,168.7 517.01,170.0 516.89,171.3 516.77,172.7 516.66,174.0 516.55,175.3 516.44,176.6 516.34,177.9 516.24,179.2 516.15,180.5 516.07,181.8 516.05,183.2 516.05,184.5 516.05,185.8 516.05,187.1 516.05,188.4 516.05,189.7 516.05,191.0 516.05,192.4 516.05,193.7 516.05,195.0 516.05,196.3 516.05,197.6 516.05,198.9 516.05,200.2 516.05,201.6 516.05,202.9 516.05,204.2 516.05,205.5 516.05,206.8 516.05,208.1 516.05,209.4 516.05,210.7 516.05,212.1 516.05,213.4 516.05,214.7 516.05,216.0 L515.85,216.0 515.85,214.7 515.85,213.4 515.85,212.1 515.85,210.7 515.85,209.4 515.85,208.1 515.85,206.8 515.85,205.5 515.85,204.2 515.85,202.9 515.85,201.6 515.85,200.2 515.85,198.9 515.85,197.6 515.85,196.3 515.85,195.0 515.85,193.7 515.85,192.4 515.85,191.0 515.85,189.7 515.85,188.4 515.85,187.1 515.85,185.8 515.85,184.5 515.85,183.2 515.83,181.8 515.75,180.5 515.66,179.2 515.56,177.9 515.46,176.6 515.35,175.3 515.24,174.0 515.13,172.7 515.01,171.3 514.89,170.0 514.76,168.7 514.64,167.4 514.51,166.1 514.38,164.8 514.24,163.5 514.11,162.1 513.97,160.8 513.83,159.5 513.69,158.2 513.55,156.9 513.40,155.6 513.26,154.3 513.11,152.9 512.96,151.6 512.81,150.3 512.66,149.0 512.50,147.7 512.35,146.4 512.19,145.1 512.03,143.8 511.87,142.4 511.71,141.1 511.55,139.8 510.95,139.0 510.95,138.5 510.95,137.2 510.95,135.9 510.95,134.6 510.95,133.2 510.95,131.9 510.95,130.6 510.95,129.3 510.95,128.0 510.95,126.7 510.95,125.4 510.95,124.0 510.95,123.6 510.95,122.7 510.95,121.4 510.95,120.1 510.95,118.8 510.95,117.5 510.95,116.2 510.95,114.8 510.95,113.5 510.95,112.2 510.95,110.9 510.95,109.6 510.95,109.3 511.65,108.3 511.91,107.0 512.16,105.7 512.41,104.3 512.64,103.0 512.88,101.7 513.10,100.4 513.32,99.1 513.53,97.8 513.73,96.5 513.92,95.1 514.11,93.8 514.29,92.5 514.46,91.2 514.63,89.9 514.78,88.6 514.93,87.3 515.07,86.0 515.20,84.6 515.33,83.3 515.44,82.0 515.54,80.7 515.64,79.4 515.72,78.1 515.79,76.8 515.85,75.4 515.85,74.1 515.85,72.8 515.85,71.5 Z" fill="#1f77b4" fill-opacity="0.3"/>
<path d="M516.46,82.0 516.57,83.3 516.70,84.6 516.83,86.0 516.97,87.3 517.12,88.6 517.27,89.9 517.44,91.2 517.61,92.5 517.79,93.8 517.98,95.1 518.17,96.5 518.37,97.8 518.58,99.1 518.80,100.4 519.02,101.7 519.26,103.0 519.49,104.3 519.74,105.7 519.99,107.0 520.25,108.3 520.95,109.3 520.95,109.6 520.95,110.9 520.95,112.2 520.95,113.5 520.95,114.8 520.95,116.2 520.95,117.5 520.95,118.8 520.95,120.1 520.95,121.4 520.95,122.7 520.95,123.6 520.95,124.0 520.95,125.4 520.95,126.7 520.95,128.0 520.95,129.3 520.95,130.6 520.95,131.9 520.95,133.2 520.95,134.6 520.95,135.9 520.95,137.2 520.95,138.5 520.95,139.0 520.35,139.8 520.19,141.1 520.03,142.4 519.87,143.8 519.71,145.1 519.55,146.4 519.40,147.7 519.24,149.0 519.09,150.3 518.94,151.6 518.79,152.9 518.64,154.3 518.50,155.6 518.35,156.9 518.21,158.2 518.07,159.5 517.93,160.8 517.79,162.1 517.66,163.5 517.52,164.8 517.39,166.1 517.26,167.4 517.14,168.7 517.01,170.0 516.89,171.3 516.77,172.7 516.66,174.0 516.55,175.3 516.44,176.6 M515.44,82.0 515.33,83.3 515.20,84.6 515.07,86.0 514.93,87.3 514.78,88.6 514.63,89.9 514.46,91.2 514.29,92.5 514.11,93.8 513.92,95.1 513.73,96.5 513.53,97.8 513.32,99.1 513.10,100.4 512.88,101.7 512.64,103.0 512.41,104.3 512.16,105.7 511.91,107.0 511.65,108.3 510.95,109.3 510.95,109.6 510.95,110.9 510.95,112.2 510.95,113.5 510.95,114.8 510.95,116.2 510.95,117.5 510.95,118.8 510.95,120.1 510.95,121.4 510.95,122.7 510.95,123.6 510.95,124.0 510.95,125.4 510.95,126.7 510.95,128.0 510.95,129.3 510.95,130.6 510.95,131.9 510.95,133.2 510.95,134.6 510.95,135.9 510.95,137.2 510.95,138.5 510.95,139.0 511.55,139.8 511.71,141.1 511.87,142.4 512.03,143.8 512.19,145.1 512.35,146.4 512.50,147.7 512.66,149.0 512.81,150.3 512.96,151.6 513.11,152.9 513.26,154.3 513.40,155.6 513.55,156.9 513.69,158.2 513.83,159.5 513.97,160.8 514.11,162.1 514.24,163.5 514.38,164.8 514.51,166.1 514.64,167.4 514.76,168.7 514.89,170.0 515.01,171.3 515.13,172.7 515.24,174.0 515.35,175.3 515.46,176.6" fill="none" stroke="#1f77b4" stroke-opacity="0.4" stroke-width="0.4"/>
<path d="M536.05,57.9 536.05,59.1 536.05,60.2 536.05,61.4 536.07,62.6 536.12,63.8 536.18,64.9 536.25,66.1 536.32,67.3 536.41,68.5 536.50,69.6 536.59,70.8 536.70,72.0 536.81,73.2 536.92,74.3 537.04,75.5 537.17,76.7 537.30,77.9 537.44,79.0 537.58,80.2 537.73,81.4 537.88,82.5 538.04,83.7 538.21,84.9 538.38,86.1 538.55,87.2 538.73,88.4 538.91,89.6 539.10,90.8 539.30,91.9 539.50,93.1 539.70,94.3 539.91,95.5 540.95,95.7 540.95,96.6 540.95,97.8 540.95,99.0 540.95,100.2 540.95,101.3 540.95,102.5 540.95,103.7 540.95,104.8 540.95,106.0 540.95,107.2 540.95,108.4 540.95,108.8 540.95,109.5 540.95,110.7 540.95,111.9 540.95,113.1 540.95,114.2 540.95,115.4 540.95,116.6 540.95,117.8 540.95,118.9 540.95,120.1 540.95,121.3 540.95,122.4 540.95,123.6 540.95,124.8 540.95,125.8 540.18,126.0 540.01,127.1 539.85,128.3 539.68,129.5 539.52,130.7 539.36,131.8 539.20,133.0 539.04,134.2 538.89,135.4 538.73,136.5 538.58,137.7 538.43,138.9 538.28,140.1 538.14,141.2 537.99,142.4 537.85,143.6 537.71,144.7 537.57,145.9 537.43,147.1 537.30,148.3 537.17,149.4 537.04,150.6 536.91,151.8 536.79,153.0 536.67,154.1 536.56,155.3 536.45,156.5 536.34,157.7 536.24,158.8 536.15,160.0 536.06,161.2 536.05,162.4 536.05,163.5 536.05,164.7 536.05,165.9 536.05,167.0 536.05,168.2 536.05,169.4 536.05,170.6 536.05,171.7 536.05,172.9 536.05,174.1 536.05,175.3 536.05,176.4 536.05,177.6 536.05,178.8 536.05,180.0 536.05,181.1 536.05,182.3 536.05,183.5 536.05,184.7 536.05,185.8 536.05,187.0 L535.85,187.0 535.85,185.8 535.85,184.7 535.85,183.5 535.85,182.3 535.85,181.1 535.85,180.0 535.85,178.8 535.85,177.6 535.85,176.4 535.85,175.3 535.85,174.1 535.85,172.9 535.85,171.7 535.85,170.6 535.85,169.4 535.85,168.2 535.85,167.0 535.85,165.9 535.85,164.7 535.85,163.5 535.85,162.4 535.84,161.2 535.75,160.0 535.66,158.8 535.56,157.7 535.45,156.5 535.34,155.3 535.23,154.1 535.11,153.0 534.99,151.8 534.86,150.6 534.73,149.4 534.60,148.3 534.47,147.1 534.33,145.9 534.19,144.7 534.05,143.6 533.91,142.4 533.76,141.2 533.62,140.1 533.47,138.9 533.32,137.7 533.17,136.5 533.01,135.4 532.86,134.2 532.70,133.0 532.54,131.8 532.38,130.7 532.22,129.5 532.05,128.3 531.89,127.1 531.72,126.0 530.95,125.8 530.95,124.8 530.95,123.6 530.95,122.4 530.95,121.3 530.95,120.1 530.95,118.9 530.95,117.8 530.95,116.6 530.95,115.4 530.95,114.2 530.95,113.1 530.95,111.9 530.95,110.7 530.95,109.5 530.95,108.8 530.95,108.4 530.95,107.2 530.95,106.0 530.95,104.8 530.95,103.7 530.95,102.5 530.95,101.3 530.95,100.2 530.95,99.0 530.95,97.8 530.95,96.6 530.95,95.7 531.99,95.5 532.20,94.3 532.40,93.1 532.60,91.9 532.80,90.8 532.99,89.6 533.17,88.4 533.35,87.2 533.52,86.1 533.69,84.9 533.86,83.7 534.02,82.5 534.17,81.4 534.32,80.2 534.46,79.0 534.60,77.9 534.73,76.7 534.86,75.5 534.98,74.3 535.09,73.2 535.20,72.0 535.31,70.8 535.40,69.6 535.49,68.5 535.58,67.3 535.65,66.1 535.72,64.9 535.78,63.8 535.83,62.6 535.85,61.4 535.85,60.2 535.85,59.1 535.85,57.9 Z" fill="#1f77b4" fill-opacity="0.3"/>
<path d="M536.41,68.5 536.50,69.6 536.59,70.8 536.70,72.0 536.81,73.2 536.92,74.3 537.04,75.5 537.17,76.7 537.30,77.9 537.44,79.0 537.58,80.2 537.73,81.4 537.88,82.5 538.04,83.7 538.21,84.9 538.38,86.1 538.55,87.2 538.73,88.4 538.91,89.6 539.10,90.8 539.30,91.9 539.50,93.1 539.70,94.3 539.91,95.5 540.95,95.7 540.95,96.6 540.95,97.8 540.95,99.0 540.95,100.2 540.95,101.3 540.95,102.5 540.95,103.7 540.95,104.8 540.95,106.0 540.95,107.2 540.95,108.4 540.95,108.8 540.95,109.5 540.95,110.7 540.95,111.9 540.95,113.1 540.95,114.2 540.95,115.4 540.95,116.6 540.95,117.8 540.95,118.9 540.95,120.1 540.95,121.3 540.95,122.4 540.95,123.6 540.95,124.8 540.95,125.8 540.18,126.0 540.01,127.1 539.85,128.3 539.68,129.5 539.52,130.7 539.36,131.8 539.20,133.0 539.04,134.2 538.89,135.4 538.73,136.5 538.58,137.7 538.43,138.9 538.28,140.1 538.14,141.2 537.99,142.4 537.85,143.6 537.71,144.7 537.57,145.9 537.43,147.1 537.30,148.3 537.17,149.4 537.04,150.6 536.91,151.8 536.79,153.0 536.67,154.1 536.56,155.3 536.45,156.5 M535.49,68.5 535.40,69.6 535.31,70.8 535.20,72.0 535.09,73.2 534.98,74.3 534.86,75.5 534.73,76.7 534.60,77.9 534.46,79.0 534.32,80.2 534.17,81.4 534.02,82.5 533.86,83.7 533.69,84.9 533.52,86.1 533.35,87.2 533.17,88.4 532.99,89.6 532.80,90.8 532.60,91.9 532.40,93.1 532.20,94.3 531.99,95.5 530.95,95.7 530.95,96.6 530.95,97.8 530.95,99.0 530.95,100.2 530.95,101.3 530.95,102.5 530.95,103.7 530.95,104.8 530.95,106.0 530.95,107.2 530.95,108.4 530.95,108.8 530.95,109.5 530.95,110.7 530.95,111.9 530.95,113.1 530.95,114.2 530.95,115.4 530.95,116.6 530.95,117.8 530.95,118.9 530.95,120.1 530.95,121.3 530.95,122.4 530.95,123.6 530.95,124.8 530.95,125.8 531.72,126.0 531.89,127.1 532.05,128.3 532.22,129.5 532.38,130.7 532.54,131.8 532.70,133.0 532.86,134.2 533.01,135.4 533.17,136.5 533.32,137.7 533.47,138.9 533.62,140.1 533.76,141.2 533.91,142.4 534.05,143.6 534.19,144.7 534.33,145.9 534.47,147.1 534.60,148.3 534.73,149.4 534.86,150.6 534.99,151.8 535.11,153.0 535.23,154.1 535.34,155.3 535.45,156.5" fill="none" stroke="#1f77b4" stroke-opacity="0.4" stroke-width="0.4"/>
<line x1="313.6" x2="318.6" y1="62.7" y2="62.7" stroke="#707070" stroke-width="0.85"/>
<line x1="313.6" x2="318.6" y1="155.5" y2="155.5" stroke="#707070" stroke-width="0.85"/>
<rect x="311.1" y="92.4" width="10.0" height="26.00" fill="#bbd5ea" fill-opacity="0.92" stroke="#626d78" stroke-width="0.75"/>
<line x1="311.5" x2="320.70000000000005" y1="108.2" y2="108.2" stroke="#eda66a" stroke-width="0.7"/>
<circle cx="316.1" cy="37.8" r="1.2" fill="none" stroke="#4a4a4a" stroke-width="0.8"/>
<circle cx="316.1" cy="51.6" r="1.2" fill="none" stroke="#4a4a4a" stroke-width="0.8"/>
<circle cx="316.1" cy="158.8" r="1.2" fill="none" stroke="#4a4a4a" stroke-width="0.8"/>
<circle cx="316.1" cy="161" r="1.2" fill="none" stroke="#4a4a4a" stroke-width="0.8"/>
<circle cx="316.1" cy="168.3" r="1.2" fill="none" stroke="#4a4a4a" stroke-width="0.8"/>
<circle cx="316.1" cy="179.5" r="1.2" fill="none" stroke="#4a4a4a" stroke-width="0.8"/>
<line x1="333.6" x2="338.6" y1="42.4" y2="42.4" stroke="#707070" stroke-width="0.85"/>
<line x1="333.6" x2="338.6" y1="144.7" y2="144.7" stroke="#707070" stroke-width="0.85"/>
<rect x="331.1" y="77.4" width="10.0" height="28.60" fill="#bbd5ea" fill-opacity="0.92" stroke="#626d78" stroke-width="0.75"/>
<line x1="331.5" x2="340.70000000000005" y1="92.4" y2="92.4" stroke="#eda66a" stroke-width="0.7"/>
<line x1="353.6" x2="358.6" y1="49.5" y2="49.5" stroke="#707070" stroke-width="0.85"/>
<line x1="353.6" x2="358.6" y1="145.2" y2="145.2" stroke="#707070" stroke-width="0.85"/>
<rect x="351.1" y="79.2" width="10.0" height="28.50" fill="#bbd5ea" fill-opacity="0.92" stroke="#626d78" stroke-width="0.75"/>
<line x1="351.5" x2="360.70000000000005" y1="95.7" y2="95.7" stroke="#eda66a" stroke-width="0.7"/>
<circle cx="356.1" cy="151.1" r="1.2" fill="none" stroke="#4a4a4a" stroke-width="0.8"/>
<line x1="373.6" x2="378.6" y1="72.1" y2="72.1" stroke="#707070" stroke-width="0.85"/>
<line x1="373.6" x2="378.6" y1="165.4" y2="165.4" stroke="#707070" stroke-width="0.85"/>
<rect x="371.1" y="108.2" width="10.0" height="27.70" fill="#bbd5ea" fill-opacity="0.92" stroke="#626d78" stroke-width="0.75"/>
<line x1="371.5" x2="380.70000000000005" y1="122.1" y2="122.1" stroke="#eda66a" stroke-width="0.7"/>
<circle cx="376.1" cy="180.4" r="1.2" fill="none" stroke="#4a4a4a" stroke-width="0.8"/>
<circle cx="376.1" cy="181.4" r="1.2" fill="none" stroke="#4a4a4a" stroke-width="0.8"/>
<line x1="393.6" x2="398.6" y1="63.3" y2="63.3" stroke="#707070" stroke-width="0.85"/>
<line x1="393.6" x2="398.6" y1="158.4" y2="158.4" stroke="#707070" stroke-width="0.85"/>
<rect x="391.1" y="97.2" width="10.0" height="24.90" fill="#bbd5ea" fill-opacity="0.92" stroke="#626d78" stroke-width="0.75"/>
<line x1="391.5" x2="400.70000000000005" y1="109.3" y2="109.3" stroke="#eda66a" stroke-width="0.7"/>
<circle cx="396.1" cy="47.8" r="1.2" fill="none" stroke="#4a4a4a" stroke-width="0.8"/>
<circle cx="396.1" cy="49.3" r="1.2" fill="none" stroke="#4a4a4a" stroke-width="0.8"/>
<circle cx="396.1" cy="50.7" r="1.2" fill="none" stroke="#4a4a4a" stroke-width="0.8"/>
<circle cx="396.1" cy="159.6" r="1.2" fill="none" stroke="#4a4a4a" stroke-width="0.8"/>
<circle cx="396.1" cy="160.6" r="1.2" fill="none" stroke="#4a4a4a" stroke-width="0.8"/>
<circle cx="396.1" cy="161.6" r="1.2" fill="none" stroke="#4a4a4a" stroke-width="0.8"/>
<line x1="413.6" x2="418.6" y1="43.5" y2="43.5" stroke="#707070" stroke-width="0.85"/>
<line x1="413.6" x2="418.6" y1="163.8" y2="163.8" stroke="#707070" stroke-width="0.85"/>
<rect x="411.1" y="85.1" width="10.0" height="34.10" fill="#bbd5ea" fill-opacity="0.92" stroke="#626d78" stroke-width="0.75"/>
<line x1="411.5" x2="420.70000000000005" y1="100.1" y2="100.1" stroke="#eda66a" stroke-width="0.7"/>
<circle cx="416.1" cy="25.9" r="1.2" fill="none" stroke="#4a4a4a" stroke-width="0.8"/>
<line x1="433.6" x2="438.6" y1="82.0" y2="82.0" stroke="#707070" stroke-width="0.85"/>
<line x1="433.6" x2="438.6" y1="176.0" y2="176.0" stroke="#707070" stroke-width="0.85"/>
<rect x="431.1" y="114.0" width="10.0" height="28.30" fill="#bbd5ea" fill-opacity="0.92" stroke="#626d78" stroke-width="0.75"/>
<line x1="431.5" x2="440.70000000000005" y1="130.2" y2="130.2" stroke="#eda66a" stroke-width="0.7"/>
<circle cx="436.1" cy="190.3" r="1.2" fill="none" stroke="#4a4a4a" stroke-width="0.8"/>
<line x1="453.6" x2="458.6" y1="43.3" y2="43.3" stroke="#707070" stroke-width="0.85"/>
<line x1="453.6" x2="458.6" y1="155.7" y2="155.7" stroke="#707070" stroke-width="0.85"/>
<rect x="451.1" y="85.3" width="10.0" height="34.60" fill="#bbd5ea" fill-opacity="0.92" stroke="#626d78" stroke-width="0.75"/>
<line x1="451.5" x2="460.70000000000005" y1="101.2" y2="101.2" stroke="#eda66a" stroke-width="0.7"/>
<circle cx="456.1" cy="189.2" r="1.2" fill="none" stroke="#4a4a4a" stroke-width="0.8"/>
<line x1="473.6" x2="478.6" y1="14.3" y2="14.3" stroke="#707070" stroke-width="0.85"/>
<line x1="473.6" x2="478.6" y1="145.8" y2="145.8" stroke="#707070" stroke-width="0.85"/>
<rect x="471.1" y="67.5" width="10.0" height="37.60" fill="#bbd5ea" fill-opacity="0.92" stroke="#626d78" stroke-width="0.75"/>
<line x1="471.5" x2="480.70000000000005" y1="88.4" y2="88.4" stroke="#eda66a" stroke-width="0.7"/>
<circle cx="476.1" cy="162.4" r="1.2" fill="none" stroke="#4a4a4a" stroke-width="0.8"/>
<circle cx="476.1" cy="163.4" r="1.2" fill="none" stroke="#4a4a4a" stroke-width="0.8"/>
<circle cx="476.1" cy="167.4" r="1.2" fill="none" stroke="#4a4a4a" stroke-width="0.8"/>
<circle cx="476.1" cy="170.6" r="1.2" fill="none" stroke="#4a4a4a" stroke-width="0.8"/>
<circle cx="476.1" cy="175.1" r="1.2" fill="none" stroke="#4a4a4a" stroke-width="0.8"/>
<circle cx="476.1" cy="184.9" r="1.2" fill="none" stroke="#4a4a4a" stroke-width="0.8"/>
<line x1="493.6" x2="498.6" y1="44.6" y2="44.6" stroke="#707070" stroke-width="0.85"/>
<line x1="493.6" x2="498.6" y1="159.5" y2="159.5" stroke="#707070" stroke-width="0.85"/>
<rect x="491.1" y="85.8" width="10.0" height="29.40" fill="#bbd5ea" fill-opacity="0.92" stroke="#626d78" stroke-width="0.75"/>
<line x1="491.5" x2="500.70000000000005" y1="100.7" y2="100.7" stroke="#eda66a" stroke-width="0.7"/>
<circle cx="496.1" cy="181.5" r="1.2" fill="none" stroke="#4a4a4a" stroke-width="0.8"/>
<line x1="513.6" x2="518.6" y1="71.5" y2="71.5" stroke="#707070" stroke-width="0.85"/>
<line x1="513.6" x2="518.6" y1="184.3" y2="184.3" stroke="#707070" stroke-width="0.85"/>
<rect x="511.1" y="109.3" width="10.0" height="29.70" fill="#bbd5ea" fill-opacity="0.92" stroke="#626d78" stroke-width="0.75"/>
<line x1="511.5" x2="520.7" y1="123.6" y2="123.6" stroke="#eda66a" stroke-width="0.7"/>
<circle cx="516.1" cy="216" r="1.2" fill="none" stroke="#4a4a4a" stroke-width="0.8"/>
<line x1="533.6" x2="538.6" y1="57.9" y2="57.9" stroke="#707070" stroke-width="0.85"/>
<line x1="533.6" x2="538.6" y1="163.2" y2="163.2" stroke="#707070" stroke-width="0.85"/>
<rect x="531.1" y="95.7" width="10.0" height="30.10" fill="#bbd5ea" fill-opacity="0.92" stroke="#626d78" stroke-width="0.75"/>
<line x1="531.5" x2="540.7" y1="108.8" y2="108.8" stroke="#eda66a" stroke-width="0.7"/>
<circle cx="536.1" cy="182.1" r="1.2" fill="none" stroke="#4a4a4a" stroke-width="0.8"/>
<circle cx="536.1" cy="187" r="1.2" fill="none" stroke="#4a4a4a" stroke-width="0.8"/>
<line x1="306.1" x2="545.4" y1="3.7" y2="3.7" stroke="#d0d0d0" stroke-width="1.2"/>
<line x1="545.4" x2="545.4" y1="3.7" y2="225.4" stroke="#d8d8d8" stroke-width="1.2"/>
<line x1="306.1" x2="306.1" y1="3.1" y2="225.9" stroke="#999" stroke-width="1"/>
<line x1="305.6" x2="546.0" y1="225.4" y2="225.4" stroke="#959595" stroke-width="1.05"/>
<line x1="304.1" x2="306.1" y1="7.34" y2="7.34" stroke="#999" stroke-width="0.8"/>
<text x="303.1" y="9.94" text-anchor="end" class="tk">45</text>
<line x1="304.1" x2="306.1" y1="18.54" y2="18.54" stroke="#999" stroke-width="0.8"/>
<text x="303.1" y="21.14" text-anchor="end" class="tk">40</text>
<line x1="304.1" x2="306.1" y1="29.73" y2="29.73" stroke="#999" stroke-width="0.8"/>
<text x="303.1" y="32.34" text-anchor="end" class="tk">35</text>
<line x1="304.1" x2="306.1" y1="40.93" y2="40.93" stroke="#999" stroke-width="0.8"/>
<text x="303.1" y="43.53" text-anchor="end" class="tk">30</text>
<line x1="304.1" x2="306.1" y1="52.12" y2="52.12" stroke="#999" stroke-width="0.8"/>
<text x="303.1" y="54.73" text-anchor="end" class="tk">25</text>
<line x1="304.1" x2="306.1" y1="63.32" y2="63.32" stroke="#999" stroke-width="0.8"/>
<text x="303.1" y="65.92" text-anchor="end" class="tk">20</text>
<line x1="304.1" x2="306.1" y1="74.51" y2="74.51" stroke="#999" stroke-width="0.8"/>
<text x="303.1" y="77.11" text-anchor="end" class="tk">15</text>
<line x1="304.1" x2="306.1" y1="85.71" y2="85.71" stroke="#999" stroke-width="0.8"/>
<text x="303.1" y="88.31" text-anchor="end" class="tk">10</text>
<line x1="304.1" x2="306.1" y1="96.91" y2="96.91" stroke="#999" stroke-width="0.8"/>
<text x="303.1" y="99.50" text-anchor="end" class="tk">5</text>
<line x1="304.1" x2="306.1" y1="108.10" y2="108.10" stroke="#999" stroke-width="0.8"/>
<text x="303.1" y="110.70" text-anchor="end" class="tk">0</text>
<line x1="304.1" x2="306.1" y1="119.29" y2="119.29" stroke="#999" stroke-width="0.8"/>
<text x="303.1" y="121.89" text-anchor="end" class="tk">−5</text>
<line x1="304.1" x2="306.1" y1="130.49" y2="130.49" stroke="#999" stroke-width="0.8"/>
<text x="303.1" y="133.09" text-anchor="end" class="tk">−10</text>
<line x1="304.1" x2="306.1" y1="141.69" y2="141.69" stroke="#999" stroke-width="0.8"/>
<text x="303.1" y="144.28" text-anchor="end" class="tk">−15</text>
<line x1="304.1" x2="306.1" y1="152.88" y2="152.88" stroke="#999" stroke-width="0.8"/>
<text x="303.1" y="155.48" text-anchor="end" class="tk">−20</text>
<line x1="304.1" x2="306.1" y1="164.07" y2="164.07" stroke="#999" stroke-width="0.8"/>
<text x="303.1" y="166.67" text-anchor="end" class="tk">−25</text>
<line x1="304.1" x2="306.1" y1="175.27" y2="175.27" stroke="#999" stroke-width="0.8"/>
<text x="303.1" y="177.87" text-anchor="end" class="tk">−30</text>
<line x1="304.1" x2="306.1" y1="186.46" y2="186.46" stroke="#999" stroke-width="0.8"/>
<text x="303.1" y="189.06" text-anchor="end" class="tk">−35</text>
<line x1="304.1" x2="306.1" y1="197.66" y2="197.66" stroke="#999" stroke-width="0.8"/>
<text x="303.1" y="200.26" text-anchor="end" class="tk">−40</text>
<line x1="304.1" x2="306.1" y1="208.85" y2="208.85" stroke="#999" stroke-width="0.8"/>
<text x="303.1" y="211.45" text-anchor="end" class="tk">−45</text>
<line x1="304.1" x2="306.1" y1="220.05" y2="220.05" stroke="#999" stroke-width="0.8"/>
<text x="303.1" y="222.65" text-anchor="end" class="tk">−50</text>
<line x1="316.1" x2="316.1" y1="225.4" y2="227.4" stroke="#999" stroke-width="0.8"/>
<text transform="translate(318.60,229.4) rotate(-90)" text-anchor="end" class="tk">2012-01</text>
<line x1="336.1" x2="336.1" y1="225.4" y2="227.4" stroke="#999" stroke-width="0.8"/>
<text transform="translate(338.60,229.4) rotate(-90)" text-anchor="end" class="tk">2012-02</text>
<line x1="356.1" x2="356.1" y1="225.4" y2="227.4" stroke="#999" stroke-width="0.8"/>
<text transform="translate(358.60,229.4) rotate(-90)" text-anchor="end" class="tk">2012-03</text>
<line x1="376.1" x2="376.1" y1="225.4" y2="227.4" stroke="#999" stroke-width="0.8"/>
<text transform="translate(378.60,229.4) rotate(-90)" text-anchor="end" class="tk">2012-04</text>
<line x1="396.1" x2="396.1" y1="225.4" y2="227.4" stroke="#999" stroke-width="0.8"/>
<text transform="translate(398.60,229.4) rotate(-90)" text-anchor="end" class="tk">2012-05</text>
<line x1="416.1" x2="416.1" y1="225.4" y2="227.4" stroke="#999" stroke-width="0.8"/>
<text transform="translate(418.60,229.4) rotate(-90)" text-anchor="end" class="tk">2012-06</text>
<line x1="436.1" x2="436.1" y1="225.4" y2="227.4" stroke="#999" stroke-width="0.8"/>
<text transform="translate(438.60,229.4) rotate(-90)" text-anchor="end" class="tk">2012-07</text>
<line x1="456.1" x2="456.1" y1="225.4" y2="227.4" stroke="#999" stroke-width="0.8"/>
<text transform="translate(458.60,229.4) rotate(-90)" text-anchor="end" class="tk">2012-08</text>
<line x1="476.1" x2="476.1" y1="225.4" y2="227.4" stroke="#999" stroke-width="0.8"/>
<text transform="translate(478.60,229.4) rotate(-90)" text-anchor="end" class="tk">2012-09</text>
<line x1="496.1" x2="496.1" y1="225.4" y2="227.4" stroke="#999" stroke-width="0.8"/>
<text transform="translate(498.60,229.4) rotate(-90)" text-anchor="end" class="tk">2012-10</text>
<line x1="516.1" x2="516.1" y1="225.4" y2="227.4" stroke="#999" stroke-width="0.8"/>
<text transform="translate(518.60,229.4) rotate(-90)" text-anchor="end" class="tk">2012-11</text>
<line x1="536.1" x2="536.1" y1="225.4" y2="227.4" stroke="#999" stroke-width="0.8"/>
<text transform="translate(538.60,229.4) rotate(-90)" text-anchor="end" class="tk">2012-12</text>
<text x="425.75" y="268.5" text-anchor="middle" class="lab">Times (Year-Month)</text>
<text transform="translate(284.20,115.55) rotate(-90)" text-anchor="middle" class="lab">Predictive Random Displacement (mm)</text>
<text x="316.00" y="19.0" class="pl">(b)</text>
</svg>
</body></html>
